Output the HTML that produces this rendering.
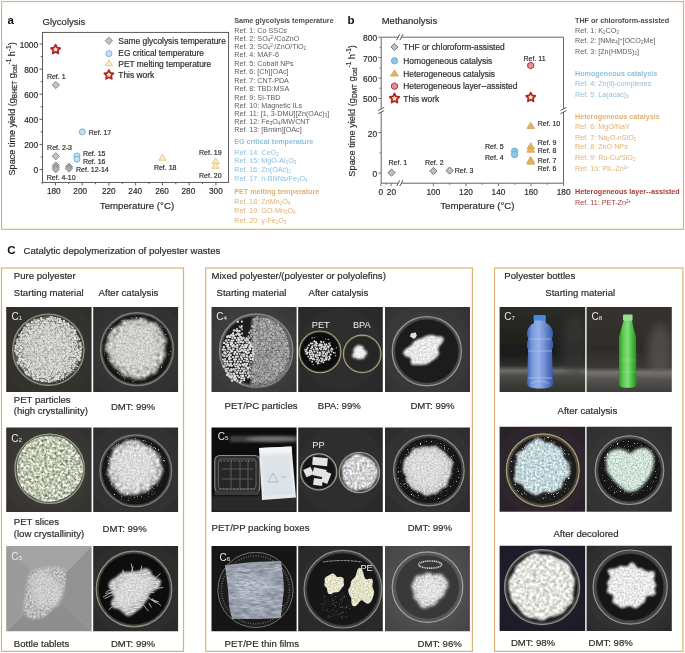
<!DOCTYPE html>
<html><head><meta charset="utf-8"><style>
html,body{margin:0;padding:0;background:#fff;width:685px;height:653px;overflow:hidden}
svg{display:block;font-family:'Liberation Sans', Arial, sans-serif}
</style></head><body>
<svg width="685" height="653" viewBox="0 0 685 653">
<rect x="1.6" y="1.5" width="681.9" height="227.8" fill="none" stroke="#dcb274" stroke-width="1.15"/>
<text x="7.40" y="24.10" font-size="11.5" fill="#111" text-anchor="start" font-weight="bold" >a</text>
<text x="42.60" y="25.30" font-size="9.5" fill="#2b2b2b" text-anchor="start" font-weight="normal" stroke="#2b2b2b" stroke-width="0.18" >Glycolysis</text>
<rect x="42.5" y="32.4" width="186.1" height="150.0" fill="none" stroke="#4f4848" stroke-width="0.9"/>
<line x1="39.50" y1="169.50" x2="42.50" y2="169.50" stroke="#4f4848" stroke-width="0.9"/>
<text x="38.10" y="173.20" font-size="8.3" fill="#2b2b2b" text-anchor="end" font-weight="normal" stroke="#2b2b2b" stroke-width="0.18" >0</text>
<line x1="40.70" y1="156.95" x2="42.50" y2="156.95" stroke="#4f4848" stroke-width="0.9"/>
<line x1="39.50" y1="144.40" x2="42.50" y2="144.40" stroke="#4f4848" stroke-width="0.9"/>
<text x="38.10" y="148.10" font-size="8.3" fill="#2b2b2b" text-anchor="end" font-weight="normal" stroke="#2b2b2b" stroke-width="0.18" >200</text>
<line x1="40.70" y1="131.85" x2="42.50" y2="131.85" stroke="#4f4848" stroke-width="0.9"/>
<line x1="39.50" y1="119.30" x2="42.50" y2="119.30" stroke="#4f4848" stroke-width="0.9"/>
<text x="38.10" y="123.00" font-size="8.3" fill="#2b2b2b" text-anchor="end" font-weight="normal" stroke="#2b2b2b" stroke-width="0.18" >400</text>
<line x1="40.70" y1="106.75" x2="42.50" y2="106.75" stroke="#4f4848" stroke-width="0.9"/>
<line x1="39.50" y1="94.20" x2="42.50" y2="94.20" stroke="#4f4848" stroke-width="0.9"/>
<text x="38.10" y="97.90" font-size="8.3" fill="#2b2b2b" text-anchor="end" font-weight="normal" stroke="#2b2b2b" stroke-width="0.18" >600</text>
<line x1="40.70" y1="81.65" x2="42.50" y2="81.65" stroke="#4f4848" stroke-width="0.9"/>
<line x1="39.50" y1="69.10" x2="42.50" y2="69.10" stroke="#4f4848" stroke-width="0.9"/>
<text x="38.10" y="72.80" font-size="8.3" fill="#2b2b2b" text-anchor="end" font-weight="normal" stroke="#2b2b2b" stroke-width="0.18" >800</text>
<line x1="40.70" y1="56.55" x2="42.50" y2="56.55" stroke="#4f4848" stroke-width="0.9"/>
<line x1="39.50" y1="44.00" x2="42.50" y2="44.00" stroke="#4f4848" stroke-width="0.9"/>
<text x="38.10" y="47.70" font-size="8.3" fill="#2b2b2b" text-anchor="end" font-weight="normal" stroke="#2b2b2b" stroke-width="0.18" >1000</text>
<line x1="42.02" y1="182.40" x2="42.02" y2="184.20" stroke="#4f4848" stroke-width="0.9"/>
<line x1="55.40" y1="182.40" x2="55.40" y2="185.40" stroke="#4f4848" stroke-width="0.9"/>
<line x1="68.78" y1="182.40" x2="68.78" y2="184.20" stroke="#4f4848" stroke-width="0.9"/>
<line x1="82.15" y1="182.40" x2="82.15" y2="185.40" stroke="#4f4848" stroke-width="0.9"/>
<line x1="95.53" y1="182.40" x2="95.53" y2="184.20" stroke="#4f4848" stroke-width="0.9"/>
<line x1="108.90" y1="182.40" x2="108.90" y2="185.40" stroke="#4f4848" stroke-width="0.9"/>
<line x1="122.28" y1="182.40" x2="122.28" y2="184.20" stroke="#4f4848" stroke-width="0.9"/>
<line x1="135.65" y1="182.40" x2="135.65" y2="185.40" stroke="#4f4848" stroke-width="0.9"/>
<line x1="149.03" y1="182.40" x2="149.03" y2="184.20" stroke="#4f4848" stroke-width="0.9"/>
<line x1="162.40" y1="182.40" x2="162.40" y2="185.40" stroke="#4f4848" stroke-width="0.9"/>
<line x1="175.77" y1="182.40" x2="175.77" y2="184.20" stroke="#4f4848" stroke-width="0.9"/>
<line x1="189.15" y1="182.40" x2="189.15" y2="185.40" stroke="#4f4848" stroke-width="0.9"/>
<line x1="202.53" y1="182.40" x2="202.53" y2="184.20" stroke="#4f4848" stroke-width="0.9"/>
<line x1="215.90" y1="182.40" x2="215.90" y2="185.40" stroke="#4f4848" stroke-width="0.9"/>
<text x="53.80" y="193.90" font-size="8.2" fill="#2b2b2b" text-anchor="middle" font-weight="normal" stroke="#2b2b2b" stroke-width="0.18" >180</text>
<text x="80.20" y="193.90" font-size="8.2" fill="#2b2b2b" text-anchor="middle" font-weight="normal" stroke="#2b2b2b" stroke-width="0.18" >200</text>
<text x="108.80" y="193.90" font-size="8.2" fill="#2b2b2b" text-anchor="middle" font-weight="normal" stroke="#2b2b2b" stroke-width="0.18" >220</text>
<text x="135.20" y="193.90" font-size="8.2" fill="#2b2b2b" text-anchor="middle" font-weight="normal" stroke="#2b2b2b" stroke-width="0.18" >240</text>
<text x="162.00" y="193.90" font-size="8.2" fill="#2b2b2b" text-anchor="middle" font-weight="normal" stroke="#2b2b2b" stroke-width="0.18" >260</text>
<text x="188.40" y="193.90" font-size="8.2" fill="#2b2b2b" text-anchor="middle" font-weight="normal" stroke="#2b2b2b" stroke-width="0.18" >280</text>
<text x="215.90" y="193.90" font-size="8.2" fill="#2b2b2b" text-anchor="middle" font-weight="normal" stroke="#2b2b2b" stroke-width="0.18" >300</text>
<text x="137.00" y="208.50" font-size="9.7" fill="#2b2b2b" text-anchor="middle" font-weight="normal" stroke="#2b2b2b" stroke-width="0.18" >Temperature (°C)</text>
<text transform="translate(14.6 108.9) rotate(-90)" font-size="9.1" fill="#2b2b2b" stroke="#2b2b2b" stroke-width="0.18" text-anchor="middle">Space time yield (g<tspan font-size="6.5" dy="2">BHET</tspan><tspan dy="-2"> g</tspan><tspan font-size="6.5" dy="2">cat</tspan><tspan font-size="6.5" dy="-5.5">-1</tspan><tspan dy="3.5"> h</tspan><tspan font-size="6.5" dy="-3.5">-1</tspan><tspan dy="3.5">)</tspan></text>
<path d="M55.80 81.40L59.40 85.00L55.80 88.60L52.20 85.00Z" fill="#c4c4c4" stroke="#7e7e7e" stroke-width="0.9" opacity="1"/>
<path d="M55.80 152.70L59.40 156.30L55.80 159.90L52.20 156.30Z" fill="#c4c4c4" stroke="#7e7e7e" stroke-width="0.9" opacity="1"/>
<path d="M55.80 161.90L59.40 165.50L55.80 169.10L52.20 165.50Z" fill="#b0b0b0" stroke="#8a8a8a" stroke-width="0.9" opacity="1"/>
<path d="M55.80 163.90L59.40 167.50L55.80 171.10L52.20 167.50Z" fill="#b0b0b0" stroke="#8a8a8a" stroke-width="0.9" opacity="1"/>
<path d="M55.80 165.70L59.40 169.30L55.80 172.90L52.20 169.30Z" fill="#b0b0b0" stroke="#8a8a8a" stroke-width="0.9" opacity="1"/>
<path d="M69.00 163.20L72.60 166.80L69.00 170.40L65.40 166.80Z" fill="#a8a8a8" stroke="#888" stroke-width="0.9" opacity="1"/>
<path d="M69.00 164.90L72.60 168.50L69.00 172.10L65.40 168.50Z" fill="#a8a8a8" stroke="#888" stroke-width="0.9" opacity="1"/>
<circle cx="77.00" cy="156.00" r="3" fill="#c7e0f2" stroke="#6fa9d3" stroke-width="0.9"/>
<circle cx="77.00" cy="159.20" r="3" fill="#c7e0f2" stroke="#6fa9d3" stroke-width="0.9"/>
<circle cx="82.30" cy="131.80" r="3" fill="#c7e0f2" stroke="#6fa9d3" stroke-width="0.9"/>
<path d="M162.40 154.44L166.00 160.20L158.80 160.20Z" fill="#f7edc9" stroke="#e6cb85" stroke-width="1.0"/>
<path d="M215.60 157.84L219.20 163.60L212.00 163.60Z" fill="#f7edc9" stroke="#e6cb85" stroke-width="1.0"/>
<path d="M215.60 162.54L219.20 168.30L212.00 168.30Z" fill="#f7edc9" stroke="#e6cb85" stroke-width="1.0"/>
<polygon points="55.60,44.70 57.01,47.56 60.17,48.02 57.88,50.24 58.42,53.38 55.60,51.90 52.78,53.38 53.32,50.24 51.03,48.02 54.19,47.56" fill="#f8ecc0" stroke="#b5232a" stroke-width="1.8" stroke-linejoin="round"/>
<text x="46.90" y="78.90" font-size="7.0" fill="#2b2b2b" text-anchor="start" font-weight="normal" stroke="#2b2b2b" stroke-width="0.18" >Ref. 1</text>
<text x="47.10" y="149.50" font-size="7.0" fill="#2b2b2b" text-anchor="start" font-weight="normal" stroke="#2b2b2b" stroke-width="0.18" >Ref. 2-3</text>
<text x="82.90" y="156.10" font-size="7.0" fill="#2b2b2b" text-anchor="start" font-weight="normal" stroke="#2b2b2b" stroke-width="0.18" >Ref. 15</text>
<text x="82.90" y="164.10" font-size="7.0" fill="#2b2b2b" text-anchor="start" font-weight="normal" stroke="#2b2b2b" stroke-width="0.18" >Ref. 16</text>
<text x="76.00" y="171.80" font-size="7.0" fill="#2b2b2b" text-anchor="start" font-weight="normal" stroke="#2b2b2b" stroke-width="0.18" >Ref. 12-14</text>
<text x="46.80" y="179.70" font-size="7.0" fill="#2b2b2b" text-anchor="start" font-weight="normal" stroke="#2b2b2b" stroke-width="0.18" >Ref. 4-10</text>
<text x="88.70" y="134.50" font-size="7.0" fill="#2b2b2b" text-anchor="start" font-weight="normal" stroke="#2b2b2b" stroke-width="0.18" >Ref. 17</text>
<text x="153.90" y="169.90" font-size="7.0" fill="#2b2b2b" text-anchor="start" font-weight="normal" stroke="#2b2b2b" stroke-width="0.18" >Ref. 18</text>
<text x="199.00" y="154.90" font-size="7.0" fill="#2b2b2b" text-anchor="start" font-weight="normal" stroke="#2b2b2b" stroke-width="0.18" >Ref. 19</text>
<text x="199.00" y="178.20" font-size="7.0" fill="#2b2b2b" text-anchor="start" font-weight="normal" stroke="#2b2b2b" stroke-width="0.18" >Ref. 20</text>
<path d="M108.90 37.20L112.50 40.80L108.90 44.40L105.30 40.80Z" fill="#c4c4c4" stroke="#7e7e7e" stroke-width="0.9" opacity="1"/>
<circle cx="108.90" cy="53.60" r="3" fill="#c7e0f2" stroke="#6fa9d3" stroke-width="0.9"/>
<path d="M108.90 59.94L112.50 65.70L105.30 65.70Z" fill="#f7edc9" stroke="#e6cb85" stroke-width="1.0"/>
<polygon points="108.90,70.10 110.31,72.96 113.47,73.42 111.18,75.64 111.72,78.78 108.90,77.30 106.08,78.78 106.62,75.64 104.33,73.42 107.49,72.96" fill="#f8ecc0" stroke="#b5232a" stroke-width="1.8" stroke-linejoin="round"/>
<text x="118.30" y="44.40" font-size="8.4" fill="#2b2b2b" text-anchor="start" font-weight="normal" stroke="#2b2b2b" stroke-width="0.18" >Same glycolysis temperature</text>
<text x="118.30" y="56.40" font-size="8.4" fill="#2b2b2b" text-anchor="start" font-weight="normal" stroke="#2b2b2b" stroke-width="0.18" >EG critical temperature</text>
<text x="118.30" y="67.00" font-size="8.4" fill="#2b2b2b" text-anchor="start" font-weight="normal" stroke="#2b2b2b" stroke-width="0.18" >PET melting temperature</text>
<text x="118.30" y="78.40" font-size="8.4" fill="#2b2b2b" text-anchor="start" font-weight="normal" stroke="#2b2b2b" stroke-width="0.18" >This work</text>
<text x="234.20" y="22.60" font-size="7.2" fill="#4c4c4c" text-anchor="start" font-weight="bold" >Same glycolysis temperature</text>
<text x="234.20" y="32.80" font-size="7.2" fill="#5c5c5c" text-anchor="start" font-weight="normal" >Ref. 1: Co SSCs</text>
<text x="234.20" y="41.20" font-size="7.2" fill="#5c5c5c" text-anchor="start" font-weight="normal" >Ref. 2: SO<tspan font-size="4.5" dy="1">4</tspan><tspan font-size="4.5" dy="-3">2-</tspan><tspan dy="2">/CoZnO</tspan></text>
<text x="234.20" y="49.00" font-size="7.2" fill="#5c5c5c" text-anchor="start" font-weight="normal" >Ref. 3: SO<tspan font-size="4.5" dy="1">4</tspan><tspan font-size="4.5" dy="-3">2-</tspan><tspan dy="2">/ZnO/TiO</tspan><tspan font-size="4.5" dy="1">2</tspan></text>
<text x="234.20" y="57.30" font-size="7.2" fill="#5c5c5c" text-anchor="start" font-weight="normal" >Ref. 4: MAF-6</text>
<text x="234.20" y="65.70" font-size="7.2" fill="#5c5c5c" text-anchor="start" font-weight="normal" >Ref. 5: Cobalt NPs</text>
<text x="234.20" y="74.40" font-size="7.2" fill="#5c5c5c" text-anchor="start" font-weight="normal" >Ref. 6: [Ch][OAc]</text>
<text x="234.20" y="83.20" font-size="7.2" fill="#5c5c5c" text-anchor="start" font-weight="normal" >Ref. 7: CNT-PDA</text>
<text x="234.20" y="91.20" font-size="7.2" fill="#5c5c5c" text-anchor="start" font-weight="normal" >Ref. 8: TBD:MSA</text>
<text x="234.20" y="99.50" font-size="7.2" fill="#5c5c5c" text-anchor="start" font-weight="normal" >Ref. 9: Si-TBD</text>
<text x="234.20" y="107.60" font-size="7.2" fill="#5c5c5c" text-anchor="start" font-weight="normal" >Ref. 10: Magnetic ILs</text>
<text x="234.20" y="115.80" font-size="7.2" fill="#5c5c5c" text-anchor="start" font-weight="normal" >Ref. 11: [1, 3-DMU][Zn(OAc)<tspan font-size="4.5" dy="1">3</tspan><tspan dy="-1">]</tspan></text>
<text x="234.20" y="124.00" font-size="7.2" fill="#5c5c5c" text-anchor="start" font-weight="normal" >Ref. 12: Fe<tspan font-size="4.5" dy="1">3</tspan><tspan dy="-1">O</tspan><tspan font-size="4.5" dy="1">4</tspan><tspan dy="-1">/MWCNT</tspan></text>
<text x="234.20" y="132.40" font-size="7.2" fill="#5c5c5c" text-anchor="start" font-weight="normal" >Ref. 13: [Bmim][OAc]</text>
<text x="234.20" y="144.10" font-size="7.2" fill="#8dc0de" text-anchor="start" font-weight="bold" >EG critical temperature</text>
<text x="234.20" y="154.50" font-size="7.2" fill="#8dc0de" text-anchor="start" font-weight="normal" >Ref. 14: CeO<tspan font-size="4.5" dy="1">2</tspan></text>
<text x="234.20" y="163.10" font-size="7.2" fill="#8dc0de" text-anchor="start" font-weight="normal" >Ref. 15: MgO-Al<tspan font-size="4.5" dy="1">2</tspan><tspan dy="-1">O</tspan><tspan font-size="4.5" dy="1">3</tspan></text>
<text x="234.20" y="171.90" font-size="7.2" fill="#8dc0de" text-anchor="start" font-weight="normal" >Ref. 16: Zn(OAc)<tspan font-size="4.5" dy="1">2</tspan></text>
<text x="234.20" y="180.90" font-size="7.2" fill="#8dc0de" text-anchor="start" font-weight="normal" >Ref. 17: h-BNNs/Fe<tspan font-size="4.5" dy="1">3</tspan><tspan dy="-1">O</tspan><tspan font-size="4.5" dy="1">4</tspan></text>
<text x="234.20" y="194.20" font-size="7.2" fill="#deb172" text-anchor="start" font-weight="bold" >PET melting temperature</text>
<text x="234.20" y="203.50" font-size="7.2" fill="#deb172" text-anchor="start" font-weight="normal" >Ref. 18: ZnMn<tspan font-size="4.5" dy="1">2</tspan><tspan dy="-1">O</tspan><tspan font-size="4.5" dy="1">4</tspan></text>
<text x="234.20" y="213.20" font-size="7.2" fill="#deb172" text-anchor="start" font-weight="normal" >Ref. 19: GO-Mn<tspan font-size="4.5" dy="1">3</tspan><tspan dy="-1">O</tspan><tspan font-size="4.5" dy="1">4</tspan></text>
<text x="234.20" y="222.80" font-size="7.2" fill="#deb172" text-anchor="start" font-weight="normal" >Ref. 20: γ-Fe<tspan font-size="4.5" dy="1">2</tspan><tspan dy="-1">O</tspan><tspan font-size="4.5" dy="1">3</tspan></text>
<text x="347.40" y="23.90" font-size="11.5" fill="#111" text-anchor="start" font-weight="bold" >b</text>
<text x="381.70" y="23.70" font-size="9.5" fill="#2b2b2b" text-anchor="start" font-weight="normal" stroke="#2b2b2b" stroke-width="0.18" >Methanolysis</text>
<line x1="381.20" y1="37.20" x2="398.00" y2="37.20" stroke="#666" stroke-width="1"/>
<line x1="401.60" y1="37.20" x2="563.50" y2="37.20" stroke="#666" stroke-width="1"/>
<line x1="381.20" y1="183.20" x2="398.00" y2="183.20" stroke="#666" stroke-width="1"/>
<line x1="401.60" y1="183.20" x2="563.50" y2="183.20" stroke="#666" stroke-width="1"/>
<line x1="381.20" y1="37.20" x2="381.20" y2="108.70" stroke="#666" stroke-width="1"/>
<line x1="381.20" y1="112.30" x2="381.20" y2="183.20" stroke="#666" stroke-width="1"/>
<line x1="563.50" y1="37.20" x2="563.50" y2="108.70" stroke="#666" stroke-width="1"/>
<line x1="563.50" y1="112.30" x2="563.50" y2="183.20" stroke="#666" stroke-width="1"/>
<line x1="396.60" y1="40.20" x2="399.80" y2="34.20" stroke="#444" stroke-width="0.9"/>
<line x1="399.80" y1="40.20" x2="403.00" y2="34.20" stroke="#444" stroke-width="0.9"/>
<line x1="396.60" y1="186.20" x2="399.80" y2="180.20" stroke="#444" stroke-width="0.9"/>
<line x1="399.80" y1="186.20" x2="403.00" y2="180.20" stroke="#444" stroke-width="0.9"/>
<line x1="378.20" y1="110.50" x2="384.20" y2="107.30" stroke="#444" stroke-width="0.9"/>
<line x1="378.20" y1="113.70" x2="384.20" y2="110.50" stroke="#444" stroke-width="0.9"/>
<line x1="560.50" y1="110.50" x2="566.50" y2="107.30" stroke="#444" stroke-width="0.9"/>
<line x1="560.50" y1="113.70" x2="566.50" y2="110.50" stroke="#444" stroke-width="0.9"/>
<line x1="378.20" y1="98.49" x2="381.20" y2="98.49" stroke="#666" stroke-width="0.9"/>
<text x="377.10" y="102.49" font-size="8.4" fill="#2b2b2b" text-anchor="end" font-weight="normal" stroke="#2b2b2b" stroke-width="0.18" >500</text>
<line x1="379.60" y1="88.28" x2="381.20" y2="88.28" stroke="#666" stroke-width="0.9"/>
<line x1="378.20" y1="78.06" x2="381.20" y2="78.06" stroke="#666" stroke-width="0.9"/>
<text x="377.10" y="82.06" font-size="8.4" fill="#2b2b2b" text-anchor="end" font-weight="normal" stroke="#2b2b2b" stroke-width="0.18" >600</text>
<line x1="379.60" y1="67.84" x2="381.20" y2="67.84" stroke="#666" stroke-width="0.9"/>
<line x1="378.20" y1="57.63" x2="381.20" y2="57.63" stroke="#666" stroke-width="0.9"/>
<text x="377.10" y="61.63" font-size="8.4" fill="#2b2b2b" text-anchor="end" font-weight="normal" stroke="#2b2b2b" stroke-width="0.18" >700</text>
<line x1="379.60" y1="47.42" x2="381.20" y2="47.42" stroke="#666" stroke-width="0.9"/>
<line x1="378.20" y1="37.20" x2="381.20" y2="37.20" stroke="#666" stroke-width="0.9"/>
<text x="377.10" y="41.20" font-size="8.4" fill="#2b2b2b" text-anchor="end" font-weight="normal" stroke="#2b2b2b" stroke-width="0.18" >800</text>
<line x1="378.20" y1="173.10" x2="381.20" y2="173.10" stroke="#666" stroke-width="0.9"/>
<text x="377.10" y="177.10" font-size="8.4" fill="#2b2b2b" text-anchor="end" font-weight="normal" stroke="#2b2b2b" stroke-width="0.18" >0</text>
<line x1="379.60" y1="152.85" x2="381.20" y2="152.85" stroke="#666" stroke-width="0.9"/>
<line x1="378.20" y1="132.60" x2="381.20" y2="132.60" stroke="#666" stroke-width="0.9"/>
<text x="377.10" y="136.60" font-size="8.4" fill="#2b2b2b" text-anchor="end" font-weight="normal" stroke="#2b2b2b" stroke-width="0.18" >20</text>
<line x1="380.90" y1="183.20" x2="380.90" y2="186.20" stroke="#666" stroke-width="0.9"/>
<line x1="386.00" y1="183.20" x2="386.00" y2="184.80" stroke="#666" stroke-width="0.9"/>
<line x1="391.10" y1="183.20" x2="391.10" y2="186.20" stroke="#666" stroke-width="0.9"/>
<line x1="433.40" y1="183.20" x2="433.40" y2="186.20" stroke="#666" stroke-width="0.9"/>
<line x1="449.67" y1="183.20" x2="449.67" y2="184.80" stroke="#666" stroke-width="0.9"/>
<line x1="465.95" y1="183.20" x2="465.95" y2="186.20" stroke="#666" stroke-width="0.9"/>
<line x1="482.22" y1="183.20" x2="482.22" y2="184.80" stroke="#666" stroke-width="0.9"/>
<line x1="498.50" y1="183.20" x2="498.50" y2="186.20" stroke="#666" stroke-width="0.9"/>
<line x1="514.77" y1="183.20" x2="514.77" y2="184.80" stroke="#666" stroke-width="0.9"/>
<line x1="531.05" y1="183.20" x2="531.05" y2="186.20" stroke="#666" stroke-width="0.9"/>
<line x1="547.32" y1="183.20" x2="547.32" y2="184.80" stroke="#666" stroke-width="0.9"/>
<line x1="563.60" y1="183.20" x2="563.60" y2="186.20" stroke="#666" stroke-width="0.9"/>
<text x="380.90" y="195.00" font-size="8.3" fill="#2b2b2b" text-anchor="middle" font-weight="normal" stroke="#2b2b2b" stroke-width="0.18" >0</text>
<text x="391.40" y="195.00" font-size="8.3" fill="#2b2b2b" text-anchor="middle" font-weight="normal" stroke="#2b2b2b" stroke-width="0.18" >20</text>
<text x="433.40" y="195.00" font-size="8.3" fill="#2b2b2b" text-anchor="middle" font-weight="normal" stroke="#2b2b2b" stroke-width="0.18" >100</text>
<text x="465.95" y="195.00" font-size="8.3" fill="#2b2b2b" text-anchor="middle" font-weight="normal" stroke="#2b2b2b" stroke-width="0.18" >120</text>
<text x="498.50" y="195.00" font-size="8.3" fill="#2b2b2b" text-anchor="middle" font-weight="normal" stroke="#2b2b2b" stroke-width="0.18" >140</text>
<text x="531.05" y="195.00" font-size="8.3" fill="#2b2b2b" text-anchor="middle" font-weight="normal" stroke="#2b2b2b" stroke-width="0.18" >160</text>
<text x="563.60" y="195.00" font-size="8.3" fill="#2b2b2b" text-anchor="middle" font-weight="normal" stroke="#2b2b2b" stroke-width="0.18" >180</text>
<text x="477.40" y="208.60" font-size="9.7" fill="#2b2b2b" text-anchor="middle" font-weight="normal" stroke="#2b2b2b" stroke-width="0.18" >Temperature (°C)</text>
<text transform="translate(354.7 110.9) rotate(-90)" font-size="9.25" fill="#2b2b2b" stroke="#2b2b2b" stroke-width="0.18" text-anchor="middle">Space time yield (g<tspan font-size="6.5" dy="2">DMT</tspan><tspan dy="-2"> g</tspan><tspan font-size="6.5" dy="2">cat</tspan><tspan font-size="6.5" dy="-5.5">-1</tspan><tspan dy="3.5"> h</tspan><tspan font-size="6.5" dy="-3.5">-1</tspan><tspan dy="3.5">)</tspan></text>
<path d="M391.50 169.00L395.10 172.60L391.50 176.20L387.90 172.60Z" fill="#c0c0c0" stroke="#6a6a6a" stroke-width="0.9" opacity="1"/>
<path d="M433.40 167.40L437.00 171.00L433.40 174.60L429.80 171.00Z" fill="#c0c0c0" stroke="#6a6a6a" stroke-width="0.9" opacity="1"/>
<path d="M449.60 167.00L453.20 170.60L449.60 174.20L446.00 170.60Z" fill="#c0c0c0" stroke="#6a6a6a" stroke-width="0.9" opacity="1"/>
<circle cx="514.60" cy="151.20" r="3.2" fill="#8fc4e2" stroke="#6eaed6" stroke-width="0.9"/>
<circle cx="514.60" cy="154.50" r="3.2" fill="#8fc4e2" stroke="#6eaed6" stroke-width="0.9"/>
<path d="M530.70 122.35L534.50 128.43L526.90 128.43Z" fill="#e2b466" stroke="#d9a957" stroke-width="1.0"/>
<path d="M530.70 142.85L534.50 148.93L526.90 148.93Z" fill="#e2b466" stroke="#d9a957" stroke-width="1.0"/>
<path d="M530.70 146.05L534.50 152.13L526.90 152.13Z" fill="#e2b466" stroke="#d9a957" stroke-width="1.0"/>
<path d="M530.70 156.65L534.50 162.73L526.90 162.73Z" fill="#e2b466" stroke="#d9a957" stroke-width="1.0"/>
<path d="M530.70 158.05L534.50 164.13L526.90 164.13Z" fill="#e2b466" stroke="#d9a957" stroke-width="1.0"/>
<polygon points="533.64,67.20 530.70,68.90 527.76,67.20 527.76,63.80 530.70,62.10 533.64,63.80" fill="#d99797" stroke="#c0282d" stroke-width="1.0"/>
<polygon points="530.70,92.60 532.11,95.46 535.27,95.92 532.98,98.14 533.52,101.28 530.70,99.80 527.88,101.28 528.42,98.14 526.13,95.92 529.29,95.46" fill="#f8ecc0" stroke="#b5232a" stroke-width="1.8" stroke-linejoin="round"/>
<text x="388.50" y="164.70" font-size="7.0" fill="#2b2b2b" text-anchor="start" font-weight="normal" stroke="#2b2b2b" stroke-width="0.18" >Ref. 1</text>
<text x="424.90" y="164.70" font-size="7.0" fill="#2b2b2b" text-anchor="start" font-weight="normal" stroke="#2b2b2b" stroke-width="0.18" >Ref. 2</text>
<text x="454.80" y="173.30" font-size="7.0" fill="#2b2b2b" text-anchor="start" font-weight="normal" stroke="#2b2b2b" stroke-width="0.18" >Ref. 3</text>
<text x="485.00" y="148.60" font-size="7.0" fill="#2b2b2b" text-anchor="start" font-weight="normal" stroke="#2b2b2b" stroke-width="0.18" >Ref. 5</text>
<text x="485.00" y="160.00" font-size="7.0" fill="#2b2b2b" text-anchor="start" font-weight="normal" stroke="#2b2b2b" stroke-width="0.18" >Ref. 4</text>
<text x="537.70" y="125.80" font-size="7.0" fill="#2b2b2b" text-anchor="start" font-weight="normal" stroke="#2b2b2b" stroke-width="0.18" >Ref. 10</text>
<text x="537.70" y="144.80" font-size="7.0" fill="#2b2b2b" text-anchor="start" font-weight="normal" stroke="#2b2b2b" stroke-width="0.18" >Ref. 9</text>
<text x="537.70" y="153.00" font-size="7.0" fill="#2b2b2b" text-anchor="start" font-weight="normal" stroke="#2b2b2b" stroke-width="0.18" >Ref. 8</text>
<text x="537.70" y="163.40" font-size="7.0" fill="#2b2b2b" text-anchor="start" font-weight="normal" stroke="#2b2b2b" stroke-width="0.18" >Ref. 7</text>
<text x="537.70" y="171.00" font-size="7.0" fill="#2b2b2b" text-anchor="start" font-weight="normal" stroke="#2b2b2b" stroke-width="0.18" >Ref. 6</text>
<text x="523.50" y="60.60" font-size="7.0" fill="#2b2b2b" text-anchor="start" font-weight="normal" stroke="#2b2b2b" stroke-width="0.18" >Ref. 11</text>
<path d="M394.50 43.40L398.10 47.00L394.50 50.60L390.90 47.00Z" fill="#c0c0c0" stroke="#6a6a6a" stroke-width="0.9" opacity="1"/>
<circle cx="394.50" cy="60.80" r="3.2" fill="#8fc4e2" stroke="#6eaed6" stroke-width="0.9"/>
<path d="M394.50 69.95L398.30 76.03L390.70 76.03Z" fill="#e2b466" stroke="#d9a957" stroke-width="1.0"/>
<polygon points="397.44,87.90 394.50,89.60 391.56,87.90 391.56,84.50 394.50,82.80 397.44,84.50" fill="#d99797" stroke="#c0282d" stroke-width="1.0"/>
<polygon points="394.50,93.50 395.97,96.48 399.26,96.95 396.88,99.27 397.44,102.55 394.50,101.00 391.56,102.55 392.12,99.27 389.74,96.95 393.03,96.48" fill="#f8ecc0" stroke="#b5232a" stroke-width="1.8" stroke-linejoin="round"/>
<text x="403.30" y="50.20" font-size="8.4" fill="#2b2b2b" text-anchor="start" font-weight="normal" stroke="#2b2b2b" stroke-width="0.18" >THF or chloroform-assisted</text>
<text x="403.30" y="63.90" font-size="8.4" fill="#2b2b2b" text-anchor="start" font-weight="normal" stroke="#2b2b2b" stroke-width="0.18" >Homogeneous catalysis</text>
<text x="403.30" y="76.70" font-size="8.4" fill="#2b2b2b" text-anchor="start" font-weight="normal" stroke="#2b2b2b" stroke-width="0.18" >Heterogeneous catalysis</text>
<text x="403.30" y="89.40" font-size="8.4" fill="#2b2b2b" text-anchor="start" font-weight="normal" stroke="#2b2b2b" stroke-width="0.18" >Heterogeneous layer--assisted</text>
<text x="403.30" y="101.70" font-size="8.4" fill="#2b2b2b" text-anchor="start" font-weight="normal" stroke="#2b2b2b" stroke-width="0.18" >This work</text>
<text x="575.00" y="22.50" font-size="7.2" fill="#4c4c4c" text-anchor="start" font-weight="bold" >THF or chloroform-assisted</text>
<text x="575.00" y="33.00" font-size="7.2" fill="#5c5c5c" text-anchor="start" font-weight="normal" >Ref. 1: K<tspan font-size="4.5" dy="1">2</tspan><tspan dy="-1">CO</tspan><tspan font-size="4.5" dy="1">3</tspan></text>
<text x="575.00" y="43.30" font-size="7.2" fill="#5c5c5c" text-anchor="start" font-weight="normal" >Ref. 2: [NMe<tspan font-size="4.5" dy="1">4</tspan><tspan dy="-1">]</tspan><tspan font-size="4.5" dy="-2">+</tspan><tspan dy="2">[OCO</tspan><tspan font-size="4.5" dy="1">2</tspan><tspan dy="-1">Me]</tspan></text>
<text x="575.00" y="54.20" font-size="7.2" fill="#5c5c5c" text-anchor="start" font-weight="normal" >Ref. 3: [Zn(HMDS)<tspan font-size="4.5" dy="1">2</tspan><tspan dy="-1">]</tspan></text>
<text x="575.00" y="76.00" font-size="7.2" fill="#8dc0de" text-anchor="start" font-weight="bold" >Homogeneous catalysis</text>
<text x="575.00" y="85.60" font-size="7.2" fill="#8dc0de" text-anchor="start" font-weight="normal" >Ref. 4: Zn(ii)-complexes</text>
<text x="575.00" y="96.50" font-size="7.2" fill="#8dc0de" text-anchor="start" font-weight="normal" >Ref. 5: La(acac)<tspan font-size="4.5" dy="1">3</tspan></text>
<text x="575.00" y="119.00" font-size="7.2" fill="#deb172" text-anchor="start" font-weight="bold" >Heterogeneous catalysis</text>
<text x="575.00" y="129.20" font-size="7.2" fill="#deb172" text-anchor="start" font-weight="normal" >Ref. 6: MgO/NaY</text>
<text x="575.00" y="140.10" font-size="7.2" fill="#deb172" text-anchor="start" font-weight="normal" >Ref. 7: Na<tspan font-size="4.5" dy="1">2</tspan><tspan dy="-1">O-nSiO</tspan><tspan font-size="4.5" dy="1">2</tspan></text>
<text x="575.00" y="149.30" font-size="7.2" fill="#deb172" text-anchor="start" font-weight="normal" >Ref. 8: ZnO NPs</text>
<text x="575.00" y="159.90" font-size="7.2" fill="#deb172" text-anchor="start" font-weight="normal" >Ref. 9: Ru-Cu/SiO<tspan font-size="4.5" dy="1">2</tspan></text>
<text x="575.00" y="171.30" font-size="7.2" fill="#deb172" text-anchor="start" font-weight="normal" >Ref. 10: PIL-Zn<tspan font-size="4.5" dy="-2">2+</tspan></text>
<text x="575.00" y="194.00" font-size="7.2" fill="#a83a3a" text-anchor="start" font-weight="bold" >Heterogeneous layer--assisted</text>
<text x="575.00" y="204.70" font-size="7.2" fill="#a83a3a" text-anchor="start" font-weight="normal" >Ref. 11: PET-Zn<tspan font-size="4.5" dy="-2">2+</tspan></text>
<text x="7.20" y="254.10" font-size="11.6" fill="#111" text-anchor="start" font-weight="bold" >C</text>
<text x="23.60" y="254.10" font-size="9.6" fill="#2b2b2b" text-anchor="start" font-weight="normal" stroke="#2b2b2b" stroke-width="0.18" >Catalytic depolymerization of polyester wastes</text>
<rect x="1.5" y="268" width="182" height="383.4" fill="none" stroke="#dcb274" stroke-width="1.2"/>
<rect x="205.7" y="268" width="266.7" height="383.4" fill="none" stroke="#dcb274" stroke-width="1.2"/>
<rect x="494.5" y="268" width="188.4" height="383.4" fill="none" stroke="#dcb274" stroke-width="1.2"/>
<defs><filter id="f1" x="0" y="0" width="100%" height="100%"><feTurbulence type="fractalNoise" baseFrequency="1.1" numOctaves="2" seed="3"/><feColorMatrix type="matrix" values="0 0 0 0 0.275 0 0 0 0 0.275 0 0 0 0 0.275 4.050 0 0 0 -2.511"/></filter><filter id="f2" x="0" y="0" width="100%" height="100%"><feTurbulence type="fractalNoise" baseFrequency="0.7" numOctaves="2" seed="7"/><feColorMatrix type="matrix" values="0 0 0 0 0.353 0 0 0 0 0.353 0 0 0 0 0.353 2.450 0 0 0 -1.421"/></filter><filter id="f3" x="0" y="0" width="100%" height="100%"><feTurbulence type="fractalNoise" baseFrequency="0.9" numOctaves="2" seed="11"/><feColorMatrix type="matrix" values="0 0 0 0 1.000 0 0 0 0 1.000 0 0 0 0 1.000 3.600 0 0 0 -2.160"/></filter><filter id="f4" x="0" y="0" width="100%" height="100%"><feTurbulence type="fractalNoise" baseFrequency="0.45" numOctaves="2" seed="5"/><feColorMatrix type="matrix" values="0 0 0 0 0.471 0 0 0 0 0.471 0 0 0 0 0.471 1.500 0 0 0 -0.855"/></filter><filter id="f5" x="0" y="0" width="100%" height="100%"><feTurbulence type="fractalNoise" baseFrequency="1.3" numOctaves="2" seed="17"/><feColorMatrix type="matrix" values="0 0 0 0 0.922 0 0 0 0 0.922 0 0 0 0 0.922 5.000 0 0 0 -3.200"/></filter><clipPath id="cp6"><rect x="6.2" y="307.0" width="85.39999999999999" height="84.89999999999998"/></clipPath><filter id="b7" x="-20%" y="-20%" width="140%" height="140%"><feGaussianBlur stdDeviation="0.35"/></filter><radialGradient id="vg8" cx="0.5" cy="0.5" r="0.75"><stop offset="0.55" stop-color="#000" stop-opacity="0"/><stop offset="1" stop-color="#000" stop-opacity="0.18"/></radialGradient><radialGradient id="mg9" cx="0.5" cy="0.5" r="0.5"><stop offset="0" stop-color="#a4a4a2"/><stop offset="0.6" stop-color="#a4a4a2"/><stop offset="1" stop-color="#5a5a58"/></radialGradient><clipPath id="cp10"><path d="M81.3 346.1Q82.0 349.8 81.8 353.6Q81.7 357.4 80.3 361.0Q79.0 364.5 76.8 367.6Q74.6 370.7 72.0 373.4Q69.3 376.1 66.1 378.0Q62.9 380.0 59.4 381.2Q55.8 382.4 52.1 382.8Q48.4 383.2 44.6 383.0Q40.9 382.8 37.3 381.5Q33.7 380.3 30.7 378.1Q27.6 375.9 25.0 373.2Q22.4 370.6 20.0 367.6Q17.7 364.6 16.4 361.0Q15.0 357.4 14.9 353.6Q14.9 349.8 15.6 346.1Q16.3 342.5 17.4 338.9Q18.5 335.4 20.3 332.1Q22.1 328.8 24.8 326.2Q27.4 323.5 30.6 321.5Q33.8 319.5 37.3 318.2Q40.9 316.9 44.6 316.4Q48.4 316.0 52.1 316.6Q55.8 317.3 59.4 318.5Q62.9 319.7 66.2 321.5Q69.6 323.3 72.2 326.0Q74.8 328.7 76.5 332.1Q78.3 335.4 79.4 338.9Q80.6 342.5 81.3 346.1Z"/></clipPath><clipPath id="cp11"><rect x="93.2" y="307.0" width="84.89999999999999" height="84.89999999999998"/></clipPath><radialGradient id="vg12" cx="0.5" cy="0.5" r="0.75"><stop offset="0.55" stop-color="#000" stop-opacity="0"/><stop offset="1" stop-color="#000" stop-opacity="0.18"/></radialGradient><clipPath id="cp13"><path d="M171.2 345.2Q171.8 349.0 170.7 352.7Q169.7 356.5 168.0 359.8Q166.3 363.1 164.5 366.3Q162.6 369.4 160.3 372.4Q158.0 375.4 155.0 377.7Q151.9 380.0 148.2 381.1Q144.6 382.2 140.8 382.5Q137.0 382.8 133.2 382.8Q129.3 382.7 125.7 381.2Q122.2 379.8 119.2 377.5Q116.2 375.1 113.7 372.4Q111.2 369.6 109.0 366.6Q106.8 363.5 105.5 360.0Q104.3 356.5 104.1 352.7Q103.9 349.0 103.9 345.2Q103.9 341.4 104.6 337.6Q105.4 333.8 107.5 330.5Q109.6 327.1 112.9 325.0Q116.2 322.9 119.4 321.1Q122.7 319.2 126.1 317.7Q129.5 316.1 133.2 315.6Q137.0 315.1 140.7 315.9Q144.4 316.7 147.8 318.0Q151.3 319.3 154.7 320.9Q158.1 322.5 160.9 325.1Q163.7 327.7 165.7 331.0Q167.6 334.3 169.1 337.8Q170.6 341.3 171.2 345.2Z"/></clipPath><filter id="tx14" x="0" y="0" width="100%" height="100%" color-interpolation-filters="sRGB"><feTurbulence type="fractalNoise" baseFrequency="0.3" numOctaves="2" seed="22"/><feColorMatrix type="matrix" values="0.7 0 0 0 0.395 0.7 0 0 0 0.395 0.7 0 0 0 0.383 0 0 0 0 1"/></filter><filter id="b16" x="-20%" y="-20%" width="140%" height="140%"><feGaussianBlur stdDeviation="1.4"/></filter><mask id="mk15" maskUnits="userSpaceOnUse" x="0" y="0" width="685" height="653"><path d="M164.9 346.2Q163.6 348.2 164.8 350.2Q166.0 352.1 165.9 354.1Q165.8 356.1 164.5 357.8Q163.2 359.4 162.8 361.4Q162.4 363.4 160.7 364.5Q159.0 365.7 158.5 367.8Q157.9 369.8 156.9 371.9Q156.0 373.9 153.7 374.1Q151.4 374.3 149.7 375.3Q148.1 376.4 146.4 377.8Q144.8 379.3 142.7 379.2Q140.6 379.1 138.6 379.4Q136.6 379.6 134.6 379.2Q132.6 378.9 130.9 377.8Q129.1 376.6 127.0 376.9Q124.8 377.1 123.1 376.0Q121.5 374.9 120.8 372.5Q120.1 370.1 118.0 369.7Q115.9 369.3 114.7 367.7Q113.5 366.2 112.5 364.6Q111.5 362.9 109.9 361.5Q108.3 360.1 108.8 357.9Q109.2 355.7 108.1 353.9Q107.0 352.2 105.3 350.2Q103.6 348.2 104.9 346.2Q106.3 344.1 106.9 342.2Q107.6 340.3 107.5 338.1Q107.3 335.9 108.7 334.3Q110.1 332.7 110.9 330.7Q111.6 328.7 113.6 327.8Q115.6 326.9 117.5 326.2Q119.4 325.4 120.4 323.3Q121.3 321.3 123.1 320.4Q125.0 319.6 127.1 320.0Q129.3 320.4 131.1 319.8Q132.8 319.1 134.7 319.0Q136.6 318.9 138.5 318.6Q140.5 318.3 142.5 318.1Q144.6 317.8 146.1 319.6Q147.5 321.4 149.5 321.7Q151.5 322.0 154.0 321.9Q156.5 321.9 157.3 324.1Q158.1 326.3 159.5 327.8Q161.0 329.2 162.0 330.9Q163.0 332.7 163.4 334.7Q163.9 336.7 165.6 338.3Q167.2 339.9 166.7 342.0Q166.2 344.2 164.9 346.2Z" fill="#fff" filter="url(#b16)"/></mask><filter id="tx17" x="0" y="0" width="100%" height="100%" color-interpolation-filters="sRGB"><feTurbulence type="fractalNoise" baseFrequency="0.6" numOctaves="2" seed="23"/><feColorMatrix type="matrix" values="0.45 0 0 0 0.606 0.45 0 0 0 0.606 0.45 0 0 0 0.599 0 0 0 0 1"/></filter><filter id="b19" x="-20%" y="-20%" width="140%" height="140%"><feGaussianBlur stdDeviation="2.5"/></filter><mask id="mk18" maskUnits="userSpaceOnUse" x="0" y="0" width="685" height="653"><path d="M157.3 344.5Q157.0 347.0 156.7 349.4Q156.5 351.8 156.5 354.5Q156.5 357.2 155.9 360.0Q155.4 362.9 152.9 364.2Q150.4 365.4 147.9 366.2Q145.5 367.1 143.4 368.3Q141.2 369.5 138.8 370.3Q136.3 371.1 133.8 370.3Q131.4 369.6 129.4 368.0Q127.4 366.4 125.4 365.1Q123.5 363.8 121.2 362.7Q118.8 361.6 117.3 359.4Q115.9 357.3 115.4 354.7Q114.9 352.1 113.8 349.6Q112.7 347.0 112.9 344.2Q113.1 341.5 114.9 339.3Q116.6 337.1 118.8 335.6Q120.9 334.2 122.1 332.1Q123.3 330.0 124.8 327.5Q126.2 325.0 128.7 324.5Q131.3 324.1 133.8 324.7Q136.3 325.3 138.7 325.2Q141.1 325.1 143.7 325.1Q146.4 325.0 148.6 326.5Q150.8 328.0 152.0 330.5Q153.1 333.0 154.7 335.0Q156.2 337.0 156.9 339.4Q157.7 341.9 157.3 344.5Z" fill="#fff" filter="url(#b19)"/></mask><clipPath id="cp20"><rect x="6.2" y="427.4" width="85.39999999999999" height="84.60000000000002"/></clipPath><radialGradient id="vg21" cx="0.5" cy="0.5" r="0.75"><stop offset="0.55" stop-color="#000" stop-opacity="0"/><stop offset="1" stop-color="#000" stop-opacity="0.18"/></radialGradient><filter id="tx22" x="0" y="0" width="100%" height="100%" color-interpolation-filters="sRGB"><feTurbulence type="fractalNoise" baseFrequency="0.38" numOctaves="2" seed="31"/><feColorMatrix type="matrix" values="1.1 0 0 0 0.211 1.1 0 0 0 0.242 1.1 0 0 0 0.156 0 0 0 0 1"/></filter><filter id="b24" x="-20%" y="-20%" width="140%" height="140%"><feGaussianBlur stdDeviation="0.4"/></filter><mask id="mk23" maskUnits="userSpaceOnUse" x="0" y="0" width="685" height="653"><path d="M82.8 465.0Q83.4 468.7 82.8 472.4Q82.2 476.1 80.9 479.6Q79.5 483.1 77.5 486.2Q75.5 489.3 72.8 491.9Q70.2 494.5 67.0 496.4Q63.8 498.2 60.4 499.5Q56.9 500.9 53.3 501.5Q49.6 502.1 45.9 501.7Q42.2 501.2 38.7 499.9Q35.2 498.6 32.1 496.6Q28.9 494.7 26.1 492.2Q23.3 489.7 21.3 486.5Q19.4 483.3 18.5 479.6Q17.5 476.0 17.2 472.4Q16.9 468.7 17.1 465.0Q17.3 461.3 18.5 457.8Q19.6 454.3 21.6 451.1Q23.6 447.9 26.1 445.2Q28.7 442.5 31.9 440.5Q35.1 438.5 38.6 437.4Q42.2 436.2 45.9 436.0Q49.6 435.8 53.3 436.2Q56.9 436.5 60.5 437.6Q64.0 438.7 67.2 440.7Q70.3 442.7 72.8 445.5Q75.2 448.3 77.3 451.3Q79.4 454.4 80.8 457.8Q82.3 461.2 82.8 465.0Z" fill="#fff" filter="url(#b24)"/></mask><clipPath id="cp25"><path d="M82.8 465.0Q83.4 468.7 82.8 472.4Q82.2 476.1 80.9 479.6Q79.5 483.1 77.5 486.2Q75.5 489.3 72.8 491.9Q70.2 494.5 67.0 496.4Q63.8 498.2 60.4 499.5Q56.9 500.9 53.3 501.5Q49.6 502.1 45.9 501.7Q42.2 501.2 38.7 499.9Q35.2 498.6 32.1 496.6Q28.9 494.7 26.1 492.2Q23.3 489.7 21.3 486.5Q19.4 483.3 18.5 479.6Q17.5 476.0 17.2 472.4Q16.9 468.7 17.1 465.0Q17.3 461.3 18.5 457.8Q19.6 454.3 21.6 451.1Q23.6 447.9 26.1 445.2Q28.7 442.5 31.9 440.5Q35.1 438.5 38.6 437.4Q42.2 436.2 45.9 436.0Q49.6 435.8 53.3 436.2Q56.9 436.5 60.5 437.6Q64.0 438.7 67.2 440.7Q70.3 442.7 72.8 445.5Q75.2 448.3 77.3 451.3Q79.4 454.4 80.8 457.8Q82.3 461.2 82.8 465.0Z"/></clipPath><clipPath id="cp26"><rect x="93.2" y="427.4" width="84.89999999999999" height="84.60000000000002"/></clipPath><radialGradient id="vg27" cx="0.5" cy="0.5" r="0.75"><stop offset="0.55" stop-color="#000" stop-opacity="0"/><stop offset="1" stop-color="#000" stop-opacity="0.18"/></radialGradient><clipPath id="cp28"><path d="M167.3 465.8Q167.5 469.5 166.6 473.1Q165.7 476.6 164.6 480.0Q163.4 483.4 162.0 486.9Q160.6 490.3 158.0 493.0Q155.3 495.6 151.7 496.6Q148.0 497.6 144.7 498.5Q141.3 499.5 137.9 500.7Q134.5 502.0 130.7 502.3Q126.9 502.6 123.4 501.2Q119.9 499.8 117.1 497.4Q114.2 494.9 111.6 492.4Q109.0 489.8 107.0 486.8Q105.0 483.7 104.2 480.1Q103.4 476.6 103.1 473.0Q102.8 469.5 102.5 465.8Q102.3 462.1 103.5 458.7Q104.8 455.2 107.2 452.5Q109.7 449.7 112.3 447.3Q114.9 444.9 117.4 442.1Q120.0 439.3 123.4 437.8Q126.9 436.4 130.7 436.4Q134.5 436.4 138.0 437.8Q141.4 439.2 144.9 440.0Q148.3 440.8 151.5 442.5Q154.7 444.2 157.2 446.8Q159.7 449.4 161.7 452.4Q163.7 455.4 165.4 458.7Q167.1 462.1 167.3 465.8Z"/></clipPath><filter id="tx29" x="0" y="0" width="100%" height="100%" color-interpolation-filters="sRGB"><feTurbulence type="fractalNoise" baseFrequency="0.3" numOctaves="2" seed="42"/><feColorMatrix type="matrix" values="0.7 0 0 0 0.434 0.7 0 0 0 0.434 0.7 0 0 0 0.434 0 0 0 0 1"/></filter><mask id="mk30" maskUnits="userSpaceOnUse" x="0" y="0" width="685" height="653"><path d="M162.1 466.2Q163.4 468.0 163.1 469.9Q162.8 471.8 162.1 473.6Q161.4 475.4 160.6 477.1Q159.9 478.8 159.1 480.5Q158.3 482.1 156.7 483.2Q155.0 484.2 153.3 484.9Q151.6 485.7 151.0 487.5Q150.4 489.3 149.0 490.5Q147.7 491.6 146.0 492.0Q144.2 492.5 142.5 492.6Q140.8 492.8 139.3 493.7Q137.7 494.6 136.0 494.9Q134.3 495.1 132.6 494.9Q130.8 494.7 129.1 494.7Q127.3 494.7 125.2 495.0Q123.2 495.2 121.6 494.3Q119.9 493.4 118.6 492.0Q117.2 490.7 116.2 489.1Q115.2 487.5 113.7 486.4Q112.2 485.3 111.9 483.3Q111.5 481.4 110.8 479.8Q110.1 478.2 109.0 476.7Q108.0 475.2 107.5 473.4Q107.0 471.7 107.9 469.8Q108.9 468.0 109.2 466.3Q109.4 464.7 109.1 462.8Q108.7 461.0 109.3 459.4Q109.9 457.7 110.9 456.3Q111.9 454.8 112.2 452.9Q112.6 451.0 113.0 448.8Q113.3 446.7 115.3 446.0Q117.3 445.4 119.2 445.0Q121.1 444.7 122.3 443.1Q123.5 441.5 125.2 440.8Q127.0 440.1 128.8 440.1Q130.7 440.1 132.5 439.9Q134.3 439.8 136.1 439.9Q137.9 440.0 139.5 440.9Q141.2 441.9 142.5 443.1Q143.9 444.4 145.2 445.4Q146.6 446.3 148.6 446.4Q150.6 446.4 151.6 447.8Q152.7 449.3 154.0 450.4Q155.3 451.6 156.8 452.7Q158.4 453.9 159.5 455.4Q160.6 456.9 160.5 458.9Q160.4 460.9 160.5 462.7Q160.7 464.5 162.1 466.2Z" fill="#fff" filter="url(#b16)"/></mask><filter id="tx31" x="0" y="0" width="100%" height="100%" color-interpolation-filters="sRGB"><feTurbulence type="fractalNoise" baseFrequency="0.6" numOctaves="2" seed="43"/><feColorMatrix type="matrix" values="0.4 0 0 0 0.678 0.4 0 0 0 0.678 0.4 0 0 0 0.678 0 0 0 0 1"/></filter><mask id="mk32" maskUnits="userSpaceOnUse" x="0" y="0" width="685" height="653"><path d="M153.1 464.2Q152.0 466.5 151.5 468.4Q151.0 470.4 151.5 472.8Q152.0 475.2 151.5 477.6Q151.0 480.0 148.8 481.2Q146.6 482.3 144.4 482.8Q142.1 483.4 140.3 484.7Q138.4 485.9 136.2 487.0Q134.0 488.1 131.7 487.2Q129.5 486.3 127.7 484.8Q125.9 483.3 124.1 482.2Q122.4 481.0 120.7 479.8Q119.0 478.5 117.9 476.6Q116.9 474.7 115.8 472.8Q114.7 470.9 113.5 468.7Q112.3 466.5 112.2 464.0Q112.1 461.5 114.0 459.6Q115.9 457.8 117.9 456.5Q119.9 455.3 121.0 453.4Q122.0 451.5 123.4 449.4Q124.8 447.3 127.2 447.2Q129.6 447.1 131.8 447.7Q134.0 448.4 136.2 447.8Q138.4 447.3 140.8 447.4Q143.2 447.4 145.3 448.6Q147.4 449.7 148.8 451.6Q150.2 453.6 151.6 455.5Q152.9 457.4 153.6 459.6Q154.2 461.9 153.1 464.2Z" fill="#fff" filter="url(#b19)"/></mask><clipPath id="cp33"><rect x="6.2" y="546.0" width="85.39999999999999" height="85.20000000000005"/></clipPath><filter id="tx34" x="0" y="0" width="100%" height="100%" color-interpolation-filters="sRGB"><feTurbulence type="fractalNoise" baseFrequency="0.5" numOctaves="2" seed="51"/><feColorMatrix type="matrix" values="0.55 0 0 0 0.454 0.55 0 0 0 0.454 0.55 0 0 0 0.454 0 0 0 0 1"/></filter><filter id="b36" x="-20%" y="-20%" width="140%" height="140%"><feGaussianBlur stdDeviation="1.2"/></filter><mask id="mk35" maskUnits="userSpaceOnUse" x="0" y="0" width="685" height="653"><path d="M32 571 Q46 566 60 567 Q67 569 66 577 Q66 588 60 598 Q54 610 44 617 Q34 621 27 617 Q22 611 24 601 Q26 590 27 581 Q28 574 32 571Z" fill="#fff" filter="url(#b36)"/></mask><filter id="tx37" x="0" y="0" width="100%" height="100%" color-interpolation-filters="sRGB"><feTurbulence type="fractalNoise" baseFrequency="0.7" numOctaves="2" seed="55"/><feColorMatrix type="matrix" values="0.45 0 0 0 0.583 0.45 0 0 0 0.583 0.45 0 0 0 0.583 0 0 0 0 1"/></filter><filter id="b39" x="-20%" y="-20%" width="140%" height="140%"><feGaussianBlur stdDeviation="2.0"/></filter><mask id="mk38" maskUnits="userSpaceOnUse" x="0" y="0" width="685" height="653"><path d="M56.7 581.7Q58.2 582.9 59.4 584.7Q60.5 586.5 61.3 588.5Q62.1 590.5 62.4 592.6Q62.6 594.7 61.5 596.2Q60.4 597.7 59.9 599.3Q59.3 600.9 58.8 602.8Q58.3 604.6 57.2 606.1Q56.1 607.5 53.6 605.8Q51.1 604.1 49.6 603.5Q48.1 602.8 46.8 604.4Q45.5 606.0 43.4 607.1Q41.4 608.2 39.4 607.0Q37.5 605.9 36.8 603.1Q36.0 600.4 35.3 598.5Q34.5 596.7 33.3 595.0Q32.1 593.4 32.5 591.5Q32.9 589.6 32.6 587.9Q32.2 586.1 31.5 584.0Q30.8 581.8 31.3 580.1Q31.8 578.3 33.8 578.2Q35.9 578.0 37.0 577.2Q38.1 576.4 38.6 573.6Q39.1 570.9 40.8 569.9Q42.5 569.0 44.5 571.3Q46.5 573.6 47.9 575.4Q49.3 577.2 50.6 578.0Q52.0 578.9 53.5 579.7Q55.1 580.4 56.7 581.7Z" fill="#fff" filter="url(#b39)"/></mask><clipPath id="cp40"><rect x="93.2" y="546.0" width="84.89999999999999" height="85.20000000000005"/></clipPath><radialGradient id="vg41" cx="0.5" cy="0.5" r="0.75"><stop offset="0.55" stop-color="#000" stop-opacity="0"/><stop offset="1" stop-color="#000" stop-opacity="0.18"/></radialGradient><filter id="tx42" x="0" y="0" width="100%" height="100%" color-interpolation-filters="sRGB"><feTurbulence type="fractalNoise" baseFrequency="0.25 0.7" numOctaves="2" seed="52"/><feColorMatrix type="matrix" values="0.55 0 0 0 0.509 0.55 0 0 0 0.509 0.55 0 0 0 0.509 0 0 0 0 1"/></filter><mask id="mk43" maskUnits="userSpaceOnUse" x="0" y="0" width="685" height="653"><path d="M151.4 572.6Q151.8 574.2 152.9 575.3Q154.0 576.3 155.6 577.2Q157.2 578.2 159.3 579.3Q161.3 580.4 161.0 582.5Q160.6 584.7 159.2 586.8Q157.8 588.9 154.8 590.6Q151.8 592.3 150.3 593.6Q148.9 594.9 148.7 596.6Q148.6 598.2 147.4 599.6Q146.3 601.0 145.2 602.4Q144.1 603.8 142.9 605.6Q141.8 607.3 140.2 608.7Q138.6 610.0 136.8 611.2Q134.9 612.4 132.9 614.2Q130.9 615.9 128.7 616.2Q126.6 616.5 125.2 614.8Q123.7 613.2 122.4 612.3Q121.0 611.4 120.1 610.1Q119.1 608.8 117.2 608.8Q115.2 608.9 113.8 608.1Q112.3 607.4 111.7 605.9Q111.1 604.5 111.0 602.7Q111.0 601.0 112.6 598.9Q114.3 596.7 113.5 595.5Q112.8 594.3 112.1 592.9Q111.5 591.5 110.1 589.6Q108.7 587.8 108.5 585.6Q108.2 583.4 109.8 581.5Q111.4 579.6 113.8 578.5Q116.1 577.3 117.7 575.8Q119.2 574.2 121.0 573.0Q122.9 571.9 125.0 571.7Q127.1 571.6 129.0 571.8Q130.9 572.1 132.5 571.7Q134.1 571.2 135.6 571.3Q137.1 571.3 138.9 570.7Q140.7 570.0 142.9 568.9Q145.2 567.8 146.8 568.4Q148.3 569.1 149.6 570.0Q150.9 570.9 151.4 572.6Z" fill="#fff" filter="url(#b36)"/></mask><filter id="tx44" x="0" y="0" width="100%" height="100%" color-interpolation-filters="sRGB"><feTurbulence type="fractalNoise" baseFrequency="0.6" numOctaves="2" seed="53"/><feColorMatrix type="matrix" values="0.4 0 0 0 0.663 0.4 0 0 0 0.663 0.4 0 0 0 0.663 0 0 0 0 1"/></filter><mask id="mk45" maskUnits="userSpaceOnUse" x="0" y="0" width="685" height="653"><path d="M144.7 577.6Q146.2 578.1 148.1 578.6Q150.1 579.1 151.1 580.5Q152.2 582.0 151.0 584.2Q149.8 586.4 147.7 588.3Q145.5 590.1 145.2 591.8Q144.8 593.4 144.6 595.5Q144.3 597.6 142.5 598.9Q140.6 600.3 138.5 600.8Q136.5 601.4 134.8 602.0Q133.1 602.6 131.3 604.0Q129.5 605.4 127.4 606.1Q125.4 606.8 123.4 606.9Q121.4 607.1 119.9 606.3Q118.4 605.6 117.3 604.5Q116.1 603.3 116.9 601.0Q117.8 598.6 118.2 597.0Q118.6 595.4 117.3 594.3Q116.0 593.2 115.4 591.5Q114.7 589.8 116.3 588.0Q117.8 586.2 119.5 584.8Q121.3 583.4 122.7 582.0Q124.1 580.6 125.4 578.7Q126.7 576.7 128.7 575.3Q130.6 573.9 132.6 573.9Q134.7 573.9 136.3 574.4Q137.9 574.9 139.4 575.3Q140.9 575.6 142.1 576.4Q143.3 577.1 144.7 577.6Z" fill="#fff" filter="url(#b39)"/></mask><clipPath id="cp46"><rect x="211.5" y="307.0" width="85.10000000000002" height="84.89999999999998"/></clipPath><radialGradient id="vg47" cx="0.5" cy="0.5" r="0.75"><stop offset="0.55" stop-color="#000" stop-opacity="0"/><stop offset="1" stop-color="#000" stop-opacity="0.18"/></radialGradient><filter id="tx48" x="0" y="0" width="100%" height="100%" color-interpolation-filters="sRGB"><feTurbulence type="fractalNoise" baseFrequency="0.5" numOctaves="2" seed="61"/><feColorMatrix type="matrix" values="0.5 0 0 0 0.221 0.5 0 0 0 0.221 0.5 0 0 0 0.221 0 0 0 0 1"/></filter><filter id="b50" x="-20%" y="-20%" width="140%" height="140%"><feGaussianBlur stdDeviation="0.8"/></filter><mask id="mk49" maskUnits="userSpaceOnUse" x="0" y="0" width="685" height="653"><path d="M252 318 Q262 314 276 320 Q290 332 291 352 Q290 372 277 382 Q264 389 250 387 Q252 370 253 352 Q250 334 252 318Z" fill="#fff" filter="url(#b50)"/></mask><clipPath id="cp51"><rect x="298.2" y="307.0" width="84.60000000000002" height="84.89999999999998"/></clipPath><radialGradient id="vg52" cx="0.5" cy="0.5" r="0.75"><stop offset="0.55" stop-color="#000" stop-opacity="0"/><stop offset="1" stop-color="#000" stop-opacity="0.18"/></radialGradient><filter id="tx53" x="0" y="0" width="100%" height="100%" color-interpolation-filters="sRGB"><feTurbulence type="fractalNoise" baseFrequency="0.6" numOctaves="2" seed="62"/><feColorMatrix type="matrix" values="0.3 0 0 0 0.791 0.3 0 0 0 0.791 0.3 0 0 0 0.791 0 0 0 0 1"/></filter><mask id="mk54" maskUnits="userSpaceOnUse" x="0" y="0" width="685" height="653"><path d="M366.9 351.7Q367.3 352.5 367.0 353.4Q366.7 354.3 366.1 355.0Q365.6 355.6 365.2 356.3Q364.8 357.0 364.4 357.8Q364.0 358.6 363.1 358.7Q362.3 358.9 361.5 358.8Q360.7 358.7 360.1 358.9Q359.4 359.1 358.6 359.3Q357.9 359.6 357.3 358.9Q356.7 358.3 356.0 358.1Q355.3 357.9 354.2 357.9Q353.0 357.9 352.4 357.1Q351.8 356.4 352.3 355.2Q352.8 354.1 353.2 353.3Q353.7 352.5 353.7 351.8Q353.6 351.1 353.5 350.3Q353.3 349.4 353.8 348.8Q354.3 348.2 354.7 347.5Q355.2 346.9 355.8 346.4Q356.4 345.9 357.1 345.4Q357.8 345.0 358.6 345.1Q359.4 345.3 360.1 345.5Q360.9 345.6 361.7 345.7Q362.5 345.8 363.0 346.3Q363.6 346.9 363.6 347.9Q363.6 349.0 363.8 349.5Q364.1 350.1 365.3 350.4Q366.4 350.8 366.9 351.7Z" fill="#fff" filter="url(#b36)"/></mask><clipPath id="cp55"><rect x="385.0" y="307.0" width="84.89999999999998" height="84.89999999999998"/></clipPath><radialGradient id="vg56" cx="0.5" cy="0.5" r="0.75"><stop offset="0.55" stop-color="#000" stop-opacity="0"/><stop offset="1" stop-color="#000" stop-opacity="0.18"/></radialGradient><filter id="tx57" x="0" y="0" width="100%" height="100%" color-interpolation-filters="sRGB"><feTurbulence type="fractalNoise" baseFrequency="0.6" numOctaves="2" seed="63"/><feColorMatrix type="matrix" values="0.4 0 0 0 0.710 0.4 0 0 0 0.710 0.4 0 0 0 0.710 0 0 0 0 1"/></filter><filter id="b59" x="-20%" y="-20%" width="140%" height="140%"><feGaussianBlur stdDeviation="1.0"/></filter><mask id="mk58" maskUnits="userSpaceOnUse" x="0" y="0" width="685" height="653"><path d="M442.2 336.9Q444.2 337.6 443.7 339.8Q443.1 341.9 441.2 344.1Q439.2 346.4 438.4 347.8Q437.7 349.2 438.5 350.8Q439.4 352.3 438.8 354.2Q438.2 356.0 436.5 357.5Q434.8 359.0 433.0 360.3Q431.1 361.6 429.2 362.9Q427.3 364.2 425.1 364.6Q423.0 365.0 421.1 365.0Q419.2 365.0 417.4 364.8Q415.6 364.7 413.5 364.9Q411.4 365.1 410.9 363.5Q410.4 361.9 411.0 359.9Q411.6 357.9 409.6 357.6Q407.6 357.3 405.7 356.3Q403.8 355.3 403.2 353.5Q402.6 351.7 404.9 349.8Q407.2 347.9 409.4 346.5Q411.6 345.1 412.6 343.4Q413.6 341.7 415.4 340.6Q417.2 339.4 419.3 339.1Q421.4 338.9 423.1 337.6Q424.9 336.4 426.9 335.7Q429.0 335.0 431.0 334.9Q432.9 334.7 434.2 335.6Q435.5 336.5 437.9 336.4Q440.3 336.2 442.2 336.9Z" fill="#fff" filter="url(#b59)"/></mask><filter id="tx60" x="0" y="0" width="100%" height="100%" color-interpolation-filters="sRGB"><feTurbulence type="fractalNoise" baseFrequency="0.6" numOctaves="2" seed="64"/><feColorMatrix type="matrix" values="0.3 0 0 0 0.732 0.3 0 0 0 0.732 0.3 0 0 0 0.732 0 0 0 0 1"/></filter><filter id="b62" x="-20%" y="-20%" width="140%" height="140%"><feGaussianBlur stdDeviation="0.6"/></filter><mask id="mk61" maskUnits="userSpaceOnUse" x="0" y="0" width="685" height="653"><path d="M416.7 335.2Q417.0 335.5 416.8 335.8Q416.5 336.2 416.3 336.4Q416.2 336.7 416.0 337.0Q415.8 337.2 415.7 337.5Q415.5 337.8 415.2 338.0Q414.9 338.2 414.5 338.3Q414.2 338.4 413.9 338.6Q413.5 338.8 413.1 338.8Q412.7 338.8 412.5 338.3Q412.3 337.9 412.1 337.6Q412.0 337.3 411.5 337.3Q411.1 337.3 410.6 337.1Q410.2 337.0 410.2 336.6Q410.3 336.2 410.3 335.8Q410.4 335.5 410.4 335.2Q410.4 334.8 410.4 334.5Q410.4 334.1 410.7 333.9Q411.0 333.6 411.2 333.4Q411.5 333.1 411.8 333.0Q412.1 332.8 412.5 332.8Q412.8 332.7 413.2 332.9Q413.5 333.0 413.8 332.9Q414.2 332.8 414.6 332.6Q415.1 332.5 415.5 332.5Q416.0 332.6 416.1 333.0Q416.2 333.5 416.1 333.9Q416.0 334.4 416.3 334.6Q416.5 334.9 416.7 335.2Z" fill="#fff" filter="url(#b62)"/></mask><clipPath id="cp63"><rect x="211.5" y="427.4" width="85.10000000000002" height="84.60000000000002"/></clipPath><filter id="b64" x="-20%" y="-20%" width="140%" height="140%"><feGaussianBlur stdDeviation="1.6"/></filter><filter id="b65" x="-20%" y="-20%" width="140%" height="140%"><feGaussianBlur stdDeviation="1.5"/></filter><clipPath id="cp66"><rect x="298.2" y="427.4" width="84.60000000000002" height="84.60000000000002"/></clipPath><radialGradient id="vg67" cx="0.5" cy="0.5" r="0.75"><stop offset="0.55" stop-color="#000" stop-opacity="0"/><stop offset="1" stop-color="#000" stop-opacity="0.18"/></radialGradient><filter id="tx68" x="0" y="0" width="100%" height="100%" color-interpolation-filters="sRGB"><feTurbulence type="fractalNoise" baseFrequency="0.4" numOctaves="2" seed="65"/><feColorMatrix type="matrix" values="0.7 0 0 0 0.474 0.7 0 0 0 0.474 0.7 0 0 0 0.474 0 0 0 0 1"/></filter><mask id="mk69" maskUnits="userSpaceOnUse" x="0" y="0" width="685" height="653"><path d="M378.2 470.4Q378.6 472.5 378.0 474.6Q377.4 476.6 376.5 478.4Q375.5 480.3 374.5 482.0Q373.4 483.7 372.2 485.3Q370.9 486.9 369.1 487.9Q367.3 488.9 365.3 489.2Q363.3 489.5 361.3 489.8Q359.4 490.1 357.3 490.5Q355.2 491.0 353.2 490.3Q351.1 489.7 349.4 488.5Q347.7 487.2 346.3 485.6Q345.0 484.0 344.1 482.2Q343.2 480.3 342.7 478.4Q342.2 476.4 342.1 474.5Q342.1 472.5 341.9 470.5Q341.8 468.5 342.3 466.5Q342.7 464.5 343.8 462.7Q344.9 460.9 346.6 459.7Q348.2 458.5 349.8 457.2Q351.4 455.9 353.3 454.8Q355.1 453.8 357.3 453.7Q359.4 453.6 361.4 454.5Q363.3 455.4 365.1 456.1Q366.9 456.8 368.7 457.7Q370.5 458.6 372.1 459.9Q373.7 461.1 374.7 462.9Q375.8 464.6 376.8 466.5Q377.8 468.3 378.2 470.4Z" fill="#fff" filter="url(#b50)"/></mask><clipPath id="cp70"><rect x="385.0" y="427.4" width="84.89999999999998" height="84.60000000000002"/></clipPath><radialGradient id="vg71" cx="0.5" cy="0.5" r="0.75"><stop offset="0.55" stop-color="#000" stop-opacity="0"/><stop offset="1" stop-color="#000" stop-opacity="0.18"/></radialGradient><clipPath id="cp72"><path d="M457.6 466.8Q459.1 470.0 459.7 473.7Q460.2 477.4 458.2 480.5Q456.2 483.6 453.9 486.2Q451.6 488.8 449.6 491.6Q447.5 494.5 444.8 496.8Q442.0 499.2 438.5 499.9Q435.0 500.6 431.5 500.1Q428.0 499.6 424.7 499.2Q421.4 498.8 418.0 498.4Q414.5 498.0 411.7 496.0Q408.8 494.1 406.2 491.7Q403.7 489.4 401.4 486.6Q399.1 483.9 397.7 480.6Q396.2 477.3 396.9 473.6Q397.7 470.0 398.7 466.8Q399.7 463.5 400.2 460.2Q400.6 456.8 401.6 453.3Q402.7 449.8 405.5 447.5Q408.3 445.3 411.8 444.5Q415.4 443.8 418.3 442.2Q421.3 440.7 424.7 439.2Q428.0 437.6 431.7 437.7Q435.3 437.9 438.4 440.0Q441.5 442.0 444.3 444.0Q447.2 445.9 449.7 448.3Q452.2 450.7 453.5 453.9Q454.9 457.1 455.5 460.3Q456.2 463.6 457.6 466.8Z"/></clipPath><filter id="tx73" x="0" y="0" width="100%" height="100%" color-interpolation-filters="sRGB"><feTurbulence type="fractalNoise" baseFrequency="0.5" numOctaves="2" seed="66"/><feColorMatrix type="matrix" values="0.5 0 0 0 0.558 0.5 0 0 0 0.558 0.5 0 0 0 0.558 0 0 0 0 1"/></filter><mask id="mk74" maskUnits="userSpaceOnUse" x="0" y="0" width="685" height="653"><path d="M451.8 467.8Q451.1 469.8 451.3 471.7Q451.5 473.6 450.9 475.3Q450.2 477.1 449.2 478.6Q448.2 480.2 448.1 482.3Q447.9 484.4 446.6 485.9Q445.3 487.3 443.3 487.9Q441.4 488.5 440.1 490.1Q438.9 491.6 437.3 492.8Q435.7 494.0 433.7 494.0Q431.6 494.1 429.7 495.1Q427.8 496.2 425.8 495.7Q423.8 495.2 422.2 493.7Q420.5 492.2 418.7 491.7Q416.9 491.2 415.0 490.6Q413.2 490.0 411.9 488.4Q410.7 486.9 409.4 485.5Q408.2 484.1 406.9 482.6Q405.6 481.1 406.1 478.9Q406.6 476.7 405.5 475.1Q404.4 473.5 403.2 471.7Q402.0 469.8 402.8 467.9Q403.5 466.0 403.5 463.9Q403.5 461.9 404.2 460.0Q404.9 458.1 406.8 457.0Q408.6 455.9 409.7 454.4Q410.8 452.8 411.7 450.9Q412.6 448.9 414.6 448.4Q416.7 447.9 418.6 447.8Q420.6 447.7 422.3 446.8Q424.0 446.0 425.9 446.4Q427.8 446.9 429.6 446.8Q431.5 446.6 433.6 446.0Q435.7 445.5 437.3 446.7Q438.9 448.0 440.3 449.3Q441.8 450.6 443.6 451.4Q445.4 452.2 446.4 453.9Q447.4 455.5 448.6 457.1Q449.8 458.6 451.6 460.0Q453.4 461.5 453.0 463.7Q452.6 465.9 451.8 467.8Z" fill="#fff" filter="url(#b36)"/></mask><filter id="tx75" x="0" y="0" width="100%" height="100%" color-interpolation-filters="sRGB"><feTurbulence type="fractalNoise" baseFrequency="0.6" numOctaves="2" seed="67"/><feColorMatrix type="matrix" values="0.4 0 0 0 0.671 0.4 0 0 0 0.671 0.4 0 0 0 0.671 0 0 0 0 1"/></filter><filter id="b77" x="-20%" y="-20%" width="140%" height="140%"><feGaussianBlur stdDeviation="2.2"/></filter><mask id="mk76" maskUnits="userSpaceOnUse" x="0" y="0" width="685" height="653"><path d="M444.7 467.0Q445.0 469.0 444.9 471.0Q444.9 473.1 443.6 474.7Q442.3 476.4 440.9 477.7Q439.5 479.0 438.6 480.7Q437.8 482.5 436.6 484.5Q435.4 486.4 433.3 487.0Q431.3 487.7 429.1 487.4Q427.0 487.1 425.0 486.8Q423.0 486.5 420.9 486.2Q418.9 485.9 417.2 484.7Q415.5 483.5 414.4 481.7Q413.4 479.8 412.4 478.2Q411.4 476.5 410.4 474.8Q409.4 473.0 409.2 471.0Q409.0 469.0 409.4 467.0Q409.9 465.1 410.2 463.1Q410.4 461.0 410.8 458.7Q411.2 456.4 413.2 455.3Q415.2 454.2 417.4 454.0Q419.7 453.8 421.5 453.3Q423.3 452.8 425.2 451.9Q427.0 451.1 429.1 450.9Q431.2 450.8 432.7 452.4Q434.3 453.9 436.0 454.8Q437.7 455.6 439.6 456.5Q441.6 457.4 443.1 459.0Q444.6 460.5 444.5 462.8Q444.5 465.0 444.7 467.0Z" fill="#fff" filter="url(#b77)"/></mask><clipPath id="cp78"><rect x="211.5" y="546.0" width="85.10000000000002" height="85.20000000000005"/></clipPath><filter id="tx79" x="0" y="0" width="100%" height="100%" color-interpolation-filters="sRGB"><feTurbulence type="fractalNoise" baseFrequency="0.12 0.35" numOctaves="2" seed="68"/><feColorMatrix type="matrix" values="0.35 0 0 0 0.413 0.35 0 0 0 0.437 0.35 0 0 0 0.492 0 0 0 0 1"/></filter><mask id="mk80" maskUnits="userSpaceOnUse" x="0" y="0" width="685" height="653"><path d="M225 565L253 562L281 561L283 575L284 590L282 606L281 618L258 619L232 619L229 606L228 590Z" fill="#fff" filter="url(#b62)"/></mask><filter id="tx81" x="0" y="0" width="100%" height="100%" color-interpolation-filters="sRGB"><feTurbulence type="fractalNoise" baseFrequency="0.2 0.6" numOctaves="2" seed="89"/><feColorMatrix type="matrix" values="0.5 0 0 0 0.456 0.5 0 0 0 0.479 0.5 0 0 0 0.526 0 0 0 0 1"/></filter><mask id="mk82" maskUnits="userSpaceOnUse" x="0" y="0" width="685" height="653"><path d="M271.1 583.3Q273.2 584.3 273.9 585.9Q274.6 587.5 270.8 588.8Q267.0 590.1 264.3 590.6Q261.5 591.1 260.6 591.8Q259.7 592.4 261.1 595.3Q262.4 598.1 260.9 599.8Q259.4 601.4 256.8 600.8Q254.2 600.2 252.1 600.1Q250.1 600.1 248.0 600.4Q245.8 600.7 244.0 600.2Q242.1 599.8 241.3 598.3Q240.6 596.9 239.2 596.2Q237.8 595.5 237.3 594.3Q236.9 593.1 236.2 592.0Q235.6 590.9 237.5 589.6Q239.3 588.3 236.3 586.9Q233.2 585.4 232.0 583.3Q230.7 581.1 232.5 579.5Q234.3 577.8 238.7 578.6Q243.1 579.4 245.2 579.4Q247.3 579.5 248.6 578.0Q250.0 576.5 252.0 575.4Q254.1 574.4 255.8 575.6Q257.4 576.9 258.6 577.8Q259.7 578.8 262.7 578.1Q265.7 577.3 267.1 578.3Q268.5 579.3 268.7 580.8Q269.0 582.3 271.1 583.3Z" fill="#fff" filter="url(#b19)"/></mask><clipPath id="cp83"><rect x="298.2" y="546.0" width="84.60000000000002" height="85.20000000000005"/></clipPath><radialGradient id="vg84" cx="0.5" cy="0.5" r="0.75"><stop offset="0.55" stop-color="#000" stop-opacity="0"/><stop offset="1" stop-color="#000" stop-opacity="0.18"/></radialGradient><filter id="tx85" x="0" y="0" width="100%" height="100%" color-interpolation-filters="sRGB"><feTurbulence type="fractalNoise" baseFrequency="0.6" numOctaves="2" seed="69"/><feColorMatrix type="matrix" values="0.45 0 0 0 0.669 0.45 0 0 0 0.661 0.45 0 0 0 0.559 0 0 0 0 1"/></filter><filter id="b87" x="-20%" y="-20%" width="140%" height="140%"><feGaussianBlur stdDeviation="0.7"/></filter><mask id="mk86" maskUnits="userSpaceOnUse" x="0" y="0" width="685" height="653"><path d="M343.8 582.7Q344.0 583.7 343.9 584.8Q343.9 585.9 343.1 586.7Q342.4 587.6 341.6 588.3Q340.9 589.0 340.4 589.9Q339.9 590.8 339.1 591.6Q338.3 592.5 337.1 592.3Q335.9 592.1 334.9 592.3Q333.9 592.5 332.7 593.2Q331.4 594.0 330.0 594.1Q328.6 594.1 327.9 592.9Q327.3 591.6 327.2 590.2Q327.1 588.9 326.7 588.0Q326.2 587.2 325.3 586.5Q324.3 585.8 324.3 584.7Q324.4 583.7 324.6 582.7Q324.8 581.7 324.6 580.5Q324.4 579.3 324.9 578.3Q325.5 577.3 326.4 576.6Q327.4 576.0 328.4 575.5Q329.5 575.0 330.5 574.3Q331.5 573.5 332.7 573.5Q333.9 573.4 334.9 574.5Q335.9 575.6 336.5 576.4Q337.2 577.2 338.4 577.0Q339.7 576.8 341.2 576.9Q342.6 577.1 343.3 578.1Q343.9 579.1 343.7 580.4Q343.6 581.6 343.8 582.7Z" fill="#fff" filter="url(#b87)"/></mask><filter id="tx88" x="0" y="0" width="100%" height="100%" color-interpolation-filters="sRGB"><feTurbulence type="fractalNoise" baseFrequency="0.6" numOctaves="2" seed="70"/><feColorMatrix type="matrix" values="0.45 0 0 0 0.661 0.45 0 0 0 0.653 0.45 0 0 0 0.551 0 0 0 0 1"/></filter><mask id="mk89" maskUnits="userSpaceOnUse" x="0" y="0" width="685" height="653"><path d="M372.7 587.3Q373.3 589.0 373.9 591.0Q374.5 593.0 373.8 594.8Q373.2 596.6 372.5 598.4Q371.8 600.2 370.8 601.8Q369.8 603.4 368.1 603.7Q366.4 603.9 364.7 602.3Q362.9 600.7 361.8 600.3Q360.8 599.8 359.4 602.1Q358.1 604.4 356.1 605.7Q354.1 606.9 352.6 605.7Q351.1 604.6 351.4 601.5Q351.6 598.4 350.7 597.1Q349.7 595.8 349.0 594.2Q348.4 592.6 348.3 590.8Q348.2 589.0 349.4 587.5Q350.6 586.0 350.6 584.4Q350.6 582.7 351.3 581.3Q351.9 579.9 353.0 579.1Q354.1 578.3 355.0 577.1Q355.9 576.0 356.6 572.5Q357.2 569.0 359.0 568.1Q360.8 567.1 362.2 570.1Q363.6 573.1 364.2 575.9Q364.7 578.7 365.7 579.1Q366.7 579.6 369.2 578.7Q371.7 577.9 372.5 579.6Q373.3 581.3 372.7 583.5Q372.2 585.7 372.7 587.3Z" fill="#fff" filter="url(#b87)"/></mask><clipPath id="cp90"><rect x="385.0" y="546.0" width="84.89999999999998" height="85.20000000000005"/></clipPath><radialGradient id="vg91" cx="0.5" cy="0.5" r="0.75"><stop offset="0.55" stop-color="#000" stop-opacity="0"/><stop offset="1" stop-color="#000" stop-opacity="0.18"/></radialGradient><filter id="tx92" x="0" y="0" width="100%" height="100%" color-interpolation-filters="sRGB"><feTurbulence type="fractalNoise" baseFrequency="0.5" numOctaves="2" seed="71"/><feColorMatrix type="matrix" values="0.6 0 0 0 0.539 0.6 0 0 0 0.539 0.6 0 0 0 0.539 0 0 0 0 1"/></filter><mask id="mk93" maskUnits="userSpaceOnUse" x="0" y="0" width="685" height="653"><path d="M447.5 587.5Q446.7 589.0 445.9 590.2Q445.2 591.5 444.8 592.6Q444.4 593.8 444.2 595.1Q444.0 596.3 442.6 596.9Q441.1 597.4 440.0 597.9Q438.9 598.4 438.4 599.5Q437.8 600.5 437.3 601.9Q436.7 603.3 435.7 604.3Q434.6 605.2 433.3 605.7Q432.0 606.1 430.6 606.2Q429.2 606.3 427.7 607.2Q426.1 608.0 424.4 608.3Q422.7 608.6 421.4 607.4Q420.1 606.3 419.4 604.7Q418.6 603.2 417.8 602.0Q417.0 600.9 415.8 600.1Q414.6 599.3 413.9 598.1Q413.1 597.0 413.7 595.3Q414.3 593.7 413.7 592.6Q413.1 591.5 412.7 590.2Q412.2 589.0 411.7 587.6Q411.1 586.2 411.7 584.9Q412.3 583.7 412.9 582.5Q413.5 581.2 414.1 580.0Q414.6 578.7 415.2 577.3Q415.7 575.9 417.3 575.5Q418.8 575.1 420.4 575.2Q422.0 575.3 423.1 574.8Q424.2 574.2 425.4 573.6Q426.6 573.0 427.9 572.6Q429.2 572.2 430.4 573.1Q431.6 574.1 432.8 574.4Q433.9 574.8 435.6 574.3Q437.2 573.8 438.9 573.8Q440.6 573.8 441.8 574.7Q443.0 575.6 444.0 576.7Q445.0 577.8 446.0 579.0Q447.0 580.2 447.6 581.6Q448.2 583.0 448.2 584.5Q448.2 586.1 447.5 587.5Z" fill="#fff" filter="url(#b64)"/></mask><filter id="tx94" x="0" y="0" width="100%" height="100%" color-interpolation-filters="sRGB"><feTurbulence type="fractalNoise" baseFrequency="0.6" numOctaves="2" seed="72"/><feColorMatrix type="matrix" values="0.4 0 0 0 0.702 0.4 0 0 0 0.702 0.4 0 0 0 0.702 0 0 0 0 1"/></filter><mask id="mk95" maskUnits="userSpaceOnUse" x="0" y="0" width="685" height="653"><path d="M442.4 588.6Q442.0 590.0 440.9 591.1Q439.7 592.2 440.0 593.6Q440.3 595.0 440.0 596.3Q439.6 597.7 438.4 598.3Q437.2 599.0 435.6 598.7Q434.1 598.4 433.1 598.8Q432.1 599.2 431.0 599.9Q430.0 600.6 428.9 600.3Q427.7 599.9 426.5 599.9Q425.3 599.8 423.6 600.0Q421.9 600.1 420.8 599.1Q419.8 598.2 420.1 596.4Q420.4 594.6 420.9 593.3Q421.4 592.0 420.8 591.0Q420.2 590.0 419.6 588.7Q419.0 587.5 419.6 586.4Q420.2 585.3 421.4 584.7Q422.6 584.1 423.0 582.9Q423.4 581.7 424.0 580.3Q424.6 578.9 425.9 578.3Q427.2 577.7 428.6 578.1Q430.0 578.4 431.3 578.6Q432.5 578.9 433.6 579.5Q434.7 580.2 435.3 581.5Q435.8 582.7 436.4 583.6Q437.0 584.4 438.4 584.9Q439.8 585.3 441.2 586.2Q442.7 587.1 442.4 588.6Z" fill="#fff" filter="url(#b39)"/></mask><linearGradient id="g7" x1="0" y1="0" x2="0" y2="1"><stop offset="0" stop-color="#2c2d27"/><stop offset="0.55" stop-color="#1c1c1a"/><stop offset="0.68" stop-color="#2e2e2b"/><stop offset="0.74" stop-color="#6e6e66"/><stop offset="0.8" stop-color="#4a4a45"/><stop offset="1" stop-color="#2e2e2b"/></linearGradient><linearGradient id="g8" x1="0" y1="0" x2="0" y2="1"><stop offset="0" stop-color="#36332f"/><stop offset="0.5" stop-color="#2e2c29"/><stop offset="0.7" stop-color="#3a3835"/><stop offset="0.76" stop-color="#75736d"/><stop offset="0.84" stop-color="#55534f"/><stop offset="1" stop-color="#3a3a38"/></linearGradient><linearGradient id="bb" x1="0" y1="0" x2="1" y2="0"><stop offset="0" stop-color="#3a5eae"/><stop offset="0.2" stop-color="#7898dc"/><stop offset="0.45" stop-color="#97b0e8"/><stop offset="0.7" stop-color="#6a8ad0"/><stop offset="1" stop-color="#3658a8"/></linearGradient><linearGradient id="gb" x1="0" y1="0" x2="1" y2="0"><stop offset="0" stop-color="#2a962c"/><stop offset="0.25" stop-color="#5ccc52"/><stop offset="0.5" stop-color="#86de7c"/><stop offset="0.75" stop-color="#48ba42"/><stop offset="1" stop-color="#238c25"/></linearGradient><clipPath id="cp96"><rect x="499.6" y="307.0" width="85.60000000000002" height="84.89999999999998"/></clipPath><filter id="b97" x="-20%" y="-20%" width="140%" height="140%"><feGaussianBlur stdDeviation="4"/></filter><clipPath id="cp98"><rect x="586.6" y="307.0" width="85.19999999999993" height="84.89999999999998"/></clipPath><clipPath id="cp99"><rect x="499.6" y="426.8" width="85.60000000000002" height="85.0"/></clipPath><radialGradient id="vg100" cx="0.5" cy="0.5" r="0.75"><stop offset="0.55" stop-color="#000" stop-opacity="0"/><stop offset="1" stop-color="#000" stop-opacity="0.18"/></radialGradient><clipPath id="cp101"><path d="M573.2 465.4Q572.6 469.0 571.9 472.3Q571.1 475.6 571.0 479.3Q570.9 482.9 569.6 486.4Q568.3 490.0 565.6 492.5Q562.8 495.1 559.2 496.2Q555.6 497.3 552.4 498.7Q549.1 500.1 545.5 500.0Q542.0 500.0 538.6 499.4Q535.2 498.8 531.9 497.9Q528.6 496.9 524.8 496.1Q521.1 495.2 518.3 492.7Q515.4 490.2 514.2 486.6Q513.0 483.0 512.0 479.5Q511.0 476.1 509.7 472.5Q508.4 469.0 509.0 465.3Q509.6 461.6 511.7 458.5Q513.8 455.4 516.4 453.0Q518.9 450.6 521.0 448.0Q523.1 445.3 525.5 442.6Q527.9 439.8 531.3 438.4Q534.7 437.0 538.3 436.9Q542.0 436.7 545.7 436.5Q549.5 436.3 553.1 437.5Q556.6 438.6 558.8 441.9Q560.9 445.3 563.0 447.9Q565.2 450.5 568.3 452.7Q571.4 454.9 572.5 458.3Q573.7 461.8 573.2 465.4Z"/></clipPath><filter id="tx102" x="0" y="0" width="100%" height="100%" color-interpolation-filters="sRGB"><feTurbulence type="fractalNoise" baseFrequency="0.45" numOctaves="2" seed="81"/><feColorMatrix type="matrix" values="0.6 0 0 0 0.469 0.6 0 0 0 0.547 0.6 0 0 0 0.563 0 0 0 0 1"/></filter><mask id="mk103" maskUnits="userSpaceOnUse" x="0" y="0" width="685" height="653"><path d="M569.3 465.4Q569.2 467.6 569.7 469.9Q570.2 472.2 569.8 474.4Q569.4 476.7 566.4 477.8Q563.5 478.9 563.2 481.0Q562.8 483.2 562.3 485.6Q561.9 488.1 559.6 488.8Q557.4 489.6 555.7 490.9Q553.9 492.2 551.8 492.5Q549.6 492.8 547.4 492.0Q545.1 491.2 543.3 492.0Q541.4 492.8 539.2 494.2Q537.0 495.6 534.8 495.1Q532.6 494.6 530.9 493.1Q529.2 491.6 527.0 491.0Q524.9 490.4 524.1 488.0Q523.3 485.7 521.5 484.5Q519.8 483.3 516.8 482.5Q513.8 481.7 514.1 479.0Q514.5 476.3 515.0 474.0Q515.6 471.7 515.1 469.6Q514.5 467.6 515.5 465.6Q516.4 463.6 516.9 461.7Q517.4 459.8 516.6 457.2Q515.8 454.5 517.5 453.0Q519.2 451.5 521.5 450.8Q523.9 450.1 524.8 448.1Q525.8 446.1 527.3 444.6Q528.9 443.1 530.9 442.3Q532.9 441.4 534.8 439.7Q536.7 437.9 539.0 438.3Q541.4 438.7 543.3 441.1Q545.2 443.4 547.5 442.7Q549.7 442.1 551.5 443.1Q553.4 444.1 555.0 445.4Q556.5 446.8 558.8 447.4Q561.0 448.0 562.1 449.9Q563.2 451.8 563.1 454.2Q562.9 456.6 564.2 458.2Q565.6 459.7 567.5 461.5Q569.4 463.2 569.3 465.4Z" fill="#fff" filter="url(#b36)"/></mask><clipPath id="cp104"><rect x="586.6" y="426.8" width="85.19999999999993" height="85.0"/></clipPath><radialGradient id="vg105" cx="0.5" cy="0.5" r="0.75"><stop offset="0.55" stop-color="#000" stop-opacity="0"/><stop offset="1" stop-color="#000" stop-opacity="0.18"/></radialGradient><filter id="tx106" x="0" y="0" width="100%" height="100%" color-interpolation-filters="sRGB"><feTurbulence type="fractalNoise" baseFrequency="0.6" numOctaves="2" seed="82"/><feColorMatrix type="matrix" values="0.5 0 0 0 0.554 0.5 0 0 0 0.636 0.5 0 0 0 0.585 0 0 0 0 1"/></filter><filter id="b108" x="-20%" y="-20%" width="140%" height="140%"><feGaussianBlur stdDeviation="1.8"/></filter><mask id="mk107" maskUnits="userSpaceOnUse" x="0" y="0" width="685" height="653"><path d="M606 460 Q607 449 620 449 Q627 450 630 454 Q636 447 646 448 Q655 452 654 463 Q652 477 641 487 Q633 494 626 491 Q613 482 607 471 Z" fill="#fff" filter="url(#b108)"/></mask><clipPath id="cp109"><path d="M659.6 465.8Q660.3 469.0 659.4 472.2Q658.6 475.4 658.1 478.8Q657.6 482.1 656.0 485.1Q654.3 488.1 651.2 489.8Q648.0 491.4 644.6 491.9Q641.1 492.4 638.4 493.7Q635.6 495.0 632.6 496.9Q629.5 498.8 625.9 499.2Q622.3 499.5 619.3 497.6Q616.2 495.6 613.6 493.5Q611.0 491.4 608.5 489.3Q605.9 487.2 604.0 484.5Q602.1 481.7 601.6 478.5Q601.0 475.3 600.4 472.1Q599.9 469.0 600.3 465.8Q600.8 462.7 602.0 459.7Q603.2 456.8 605.3 454.4Q607.5 452.0 609.0 449.0Q610.5 446.0 613.0 443.4Q615.4 440.8 618.9 439.8Q622.4 438.9 625.9 439.7Q629.5 440.6 632.6 441.5Q635.8 442.3 639.0 442.9Q642.2 443.5 645.3 444.8Q648.5 446.0 650.5 448.6Q652.6 451.2 654.6 453.8Q656.5 456.4 657.7 459.5Q659.0 462.5 659.6 465.8Z"/></clipPath><clipPath id="cp110"><rect x="499.6" y="545.8" width="85.60000000000002" height="85.20000000000005"/></clipPath><radialGradient id="vg111" cx="0.5" cy="0.5" r="0.75"><stop offset="0.55" stop-color="#000" stop-opacity="0"/><stop offset="1" stop-color="#000" stop-opacity="0.18"/></radialGradient><filter id="tx112" x="0" y="0" width="100%" height="100%" color-interpolation-filters="sRGB"><feTurbulence type="fractalNoise" baseFrequency="0.3" numOctaves="2" seed="83"/><feColorMatrix type="matrix" values="0.6 0 0 0 0.594 0.6 0 0 0 0.590 0.6 0 0 0 0.571 0 0 0 0 1"/></filter><filter id="b114" x="-20%" y="-20%" width="140%" height="140%"><feGaussianBlur stdDeviation="0.9"/></filter><mask id="mk113" maskUnits="userSpaceOnUse" x="0" y="0" width="685" height="653"><path d="M574.4 584.5Q574.2 586.6 573.9 588.7Q573.5 590.7 573.1 592.8Q572.8 594.8 573.2 597.2Q573.6 599.7 572.7 601.7Q571.7 603.7 569.7 604.9Q567.6 606.2 566.6 608.2Q565.7 610.2 564.2 611.8Q562.7 613.4 560.5 614.1Q558.4 614.9 556.5 615.7Q554.5 616.6 552.3 616.6Q550.2 616.7 548.3 617.8Q546.4 618.9 544.2 620.0Q542.1 621.1 540.0 620.2Q537.8 619.3 535.8 618.6Q533.7 617.9 531.3 618.1Q529.0 618.3 527.1 617.1Q525.2 615.9 523.4 614.5Q521.7 613.2 520.5 611.3Q519.3 609.4 518.4 607.4Q517.5 605.5 515.6 604.3Q513.6 603.1 512.1 601.3Q510.7 599.6 510.7 597.3Q510.7 595.0 509.8 593.0Q509.0 591.0 508.6 588.8Q508.3 586.6 508.5 584.4Q508.7 582.2 509.1 580.0Q509.5 577.9 511.2 576.2Q512.9 574.5 513.8 572.6Q514.7 570.8 515.1 568.5Q515.6 566.2 517.3 564.9Q519.0 563.5 520.8 562.3Q522.5 561.1 524.0 559.4Q525.4 557.6 527.4 556.7Q529.3 555.8 531.3 554.5Q533.2 553.3 535.4 553.1Q537.7 553.0 539.9 554.0Q542.1 555.1 544.2 554.8Q546.3 554.5 548.5 554.5Q550.7 554.6 552.5 555.8Q554.3 557.0 556.3 557.8Q558.2 558.6 560.2 559.6Q562.1 560.6 564.1 561.5Q566.2 562.5 567.9 564.0Q569.7 565.4 570.2 567.8Q570.6 570.1 571.3 572.2Q572.0 574.2 573.3 576.0Q574.7 577.9 574.7 580.1Q574.6 582.3 574.4 584.5Z" fill="#fff" filter="url(#b114)"/></mask><clipPath id="cp115"><rect x="586.6" y="545.8" width="85.19999999999993" height="85.20000000000005"/></clipPath><radialGradient id="vg116" cx="0.5" cy="0.5" r="0.75"><stop offset="0.55" stop-color="#000" stop-opacity="0"/><stop offset="1" stop-color="#000" stop-opacity="0.18"/></radialGradient><filter id="tx117" x="0" y="0" width="100%" height="100%" color-interpolation-filters="sRGB"><feTurbulence type="fractalNoise" baseFrequency="0.5" numOctaves="2" seed="84"/><feColorMatrix type="matrix" values="0.5 0 0 0 0.660 0.5 0 0 0 0.660 0.5 0 0 0 0.660 0 0 0 0 1"/></filter><mask id="mk118" maskUnits="userSpaceOnUse" x="0" y="0" width="685" height="653"><path d="M655.9 584.0Q656.9 585.7 655.3 587.3Q653.7 588.9 655.1 590.9Q656.5 593.0 655.2 594.5Q653.9 596.0 650.2 595.8Q646.5 595.7 646.1 597.1Q645.6 598.6 645.3 600.6Q645.0 602.7 643.2 603.3Q641.5 604.0 640.1 605.4Q638.7 606.8 636.9 608.1Q635.2 609.3 633.0 607.6Q630.9 605.8 629.1 605.9Q627.2 606.1 624.8 607.5Q622.3 608.9 620.6 607.7Q618.8 606.5 617.2 605.3Q615.7 604.1 613.7 603.3Q611.8 602.5 612.7 599.6Q613.7 596.7 612.8 595.4Q611.8 594.2 609.0 593.5Q606.2 592.8 607.0 590.8Q607.7 588.9 608.1 587.3Q608.4 585.7 607.4 584.0Q606.3 582.3 607.9 580.9Q609.5 579.6 610.1 578.1Q610.8 576.7 608.6 573.4Q606.5 570.1 608.8 569.2Q611.1 568.3 614.0 568.5Q616.9 568.7 618.0 567.1Q619.2 565.6 621.4 565.7Q623.6 565.9 625.6 566.5Q627.5 567.1 629.2 564.2Q630.9 561.4 632.9 562.4Q634.9 563.4 636.1 566.0Q637.2 568.7 639.3 568.1Q641.5 567.5 642.7 568.7Q643.9 570.0 645.4 570.8Q646.9 571.7 650.6 571.2Q654.4 570.7 654.8 572.8Q655.2 574.8 654.4 577.0Q653.5 579.3 654.2 580.8Q654.9 582.4 655.9 584.0Z" fill="#fff" filter="url(#b114)"/></mask></defs>
<g clip-path="url(#cp6)"><g filter="url(#b7)">
<rect x="4.2" y="305.0" width="89.39999999999999" height="88.89999999999998" fill="#363430"/>
<rect x="6.2" y="307.0" width="85.39999999999999" height="84.89999999999998" fill="url(#vg8)"/>
<circle cx="48.4" cy="349.7" r="36.2" fill="#454840"/>
<circle cx="48.4" cy="349.7" r="35.30" fill="none" stroke="#6a6e66" stroke-opacity="0.45" stroke-width="1.26"/>
<circle cx="48.4" cy="349.7" r="35.7" fill="none" stroke="#8f957f" stroke-width="1.2"/>
<circle cx="48.4" cy="349.7" r="34.400000000000006" fill="#2a2a28"/>
<circle cx="48.4" cy="349.7" r="34.400000000000006" fill="none" stroke="#8f957f" stroke-width="0.5" stroke-opacity="0.5"/>
<path d="M81.3 346.1Q82.0 349.8 81.8 353.6Q81.7 357.4 80.3 361.0Q79.0 364.5 76.8 367.6Q74.6 370.7 72.0 373.4Q69.3 376.1 66.1 378.0Q62.9 380.0 59.4 381.2Q55.8 382.4 52.1 382.8Q48.4 383.2 44.6 383.0Q40.9 382.8 37.3 381.5Q33.7 380.3 30.7 378.1Q27.6 375.9 25.0 373.2Q22.4 370.6 20.0 367.6Q17.7 364.6 16.4 361.0Q15.0 357.4 14.9 353.6Q14.9 349.8 15.6 346.1Q16.3 342.5 17.4 338.9Q18.5 335.4 20.3 332.1Q22.1 328.8 24.8 326.2Q27.4 323.5 30.6 321.5Q33.8 319.5 37.3 318.2Q40.9 316.9 44.6 316.4Q48.4 316.0 52.1 316.6Q55.8 317.3 59.4 318.5Q62.9 319.7 66.2 321.5Q69.6 323.3 72.2 326.0Q74.8 328.7 76.5 332.1Q78.3 335.4 79.4 338.9Q80.6 342.5 81.3 346.1Z" fill="url(#mg9)" opacity="1.0"/>
<g><circle cx="50.3" cy="316.8" r="1.02" fill="#cacac8"/><circle cx="52.0" cy="317.0" r="0.95" fill="#e1e1df"/><circle cx="41.1" cy="318.2" r="1.11" fill="#d7d7d5"/><circle cx="47.0" cy="318.7" r="1.02" fill="#ccccca"/><circle cx="49.0" cy="318.7" r="1.23" fill="#dededc"/><circle cx="51.2" cy="318.8" r="0.97" fill="#e3e3e1"/><circle cx="53.3" cy="317.9" r="0.99" fill="#d3d3d1"/><circle cx="55.4" cy="317.8" r="1.16" fill="#d6d6d4"/><circle cx="57.9" cy="318.7" r="1.11" fill="#d7d7d5"/><circle cx="60.0" cy="318.8" r="1.08" fill="#dadad8"/><circle cx="34.6" cy="320.0" r="1.17" fill="#d0d0ce"/><circle cx="37.4" cy="320.0" r="0.96" fill="#d6d6d4"/><circle cx="39.0" cy="320.4" r="0.98" fill="#eaeae8"/><circle cx="41.6" cy="319.7" r="1.12" fill="#eaeae8"/><circle cx="43.8" cy="319.9" r="1.08" fill="#d1d1cf"/><circle cx="46.1" cy="320.9" r="1.07" fill="#cfcfcd"/><circle cx="47.7" cy="319.8" r="0.97" fill="#dcdcda"/><circle cx="49.8" cy="320.1" r="1.07" fill="#d4d4d2"/><circle cx="52.7" cy="319.9" r="1.02" fill="#dfdfdd"/><circle cx="54.6" cy="320.0" r="1.00" fill="#d9d9d7"/><circle cx="56.5" cy="320.3" r="1.18" fill="#d6d6d4"/><circle cx="59.6" cy="320.0" r="1.11" fill="#ccccca"/><circle cx="60.7" cy="321.0" r="1.20" fill="#d2d2d0"/><circle cx="63.9" cy="321.0" r="1.22" fill="#e1e1df"/><circle cx="31.9" cy="322.0" r="1.21" fill="#d8d8d6"/><circle cx="33.3" cy="322.4" r="1.10" fill="#cacac8"/><circle cx="36.0" cy="322.1" r="1.23" fill="#dcdcda"/><circle cx="37.9" cy="321.8" r="1.07" fill="#e6e6e4"/><circle cx="40.7" cy="322.3" r="1.09" fill="#cdcdcb"/><circle cx="43.1" cy="322.8" r="1.18" fill="#d4d4d2"/><circle cx="45.0" cy="321.9" r="1.18" fill="#eaeae8"/><circle cx="47.0" cy="322.2" r="1.22" fill="#d5d5d3"/><circle cx="48.7" cy="322.7" r="0.95" fill="#d0d0ce"/><circle cx="51.2" cy="322.6" r="1.12" fill="#d2d2d0"/><circle cx="53.4" cy="322.4" r="1.12" fill="#d9d9d7"/><circle cx="57.7" cy="322.3" r="1.24" fill="#d3d3d1"/><circle cx="59.9" cy="321.9" r="1.19" fill="#e9e9e7"/><circle cx="62.0" cy="322.7" r="1.00" fill="#cececc"/><circle cx="64.0" cy="323.0" r="1.02" fill="#ccccca"/><circle cx="26.7" cy="324.7" r="1.10" fill="#dadad8"/><circle cx="28.5" cy="323.7" r="1.15" fill="#cfcfcd"/><circle cx="31.1" cy="324.7" r="1.14" fill="#cacac8"/><circle cx="32.8" cy="324.6" r="1.13" fill="#cdcdcb"/><circle cx="35.2" cy="324.5" r="1.12" fill="#d7d7d5"/><circle cx="37.4" cy="324.0" r="1.00" fill="#cacac8"/><circle cx="38.8" cy="324.0" r="1.01" fill="#eaeae8"/><circle cx="42.1" cy="324.7" r="1.16" fill="#e8e8e6"/><circle cx="43.4" cy="324.0" r="1.10" fill="#cacac8"/><circle cx="46.4" cy="324.4" r="1.04" fill="#d9d9d7"/><circle cx="48.1" cy="323.6" r="1.06" fill="#e6e6e4"/><circle cx="51.0" cy="324.5" r="1.10" fill="#e0e0de"/><circle cx="53.0" cy="324.0" r="1.24" fill="#dededc"/><circle cx="54.2" cy="324.6" r="1.06" fill="#e7e7e5"/><circle cx="56.6" cy="324.6" r="1.20" fill="#d5d5d3"/><circle cx="58.8" cy="324.9" r="1.04" fill="#eaeae8"/><circle cx="61.8" cy="324.3" r="1.13" fill="#d3d3d1"/><circle cx="64.2" cy="324.4" r="1.06" fill="#dededc"/><circle cx="65.6" cy="323.7" r="1.22" fill="#eaeae8"/><circle cx="67.9" cy="323.6" r="1.20" fill="#dddddb"/><circle cx="27.4" cy="325.8" r="0.97" fill="#e8e8e6"/><circle cx="29.1" cy="325.5" r="0.98" fill="#e9e9e7"/><circle cx="32.1" cy="326.7" r="1.06" fill="#dcdcda"/><circle cx="34.5" cy="326.6" r="1.22" fill="#cececc"/><circle cx="36.6" cy="325.9" r="0.98" fill="#d4d4d2"/><circle cx="37.9" cy="326.3" r="0.96" fill="#dbdbd9"/><circle cx="41.1" cy="326.4" r="1.24" fill="#e0e0de"/><circle cx="43.0" cy="325.5" r="1.15" fill="#ccccca"/><circle cx="44.8" cy="326.2" r="1.22" fill="#ccccca"/><circle cx="46.7" cy="325.7" r="1.17" fill="#cfcfcd"/><circle cx="48.8" cy="325.7" r="1.19" fill="#dfdfdd"/><circle cx="52.0" cy="326.5" r="0.96" fill="#eaeae8"/><circle cx="53.2" cy="326.3" r="1.15" fill="#d4d4d2"/><circle cx="55.6" cy="326.2" r="1.16" fill="#e7e7e5"/><circle cx="57.7" cy="326.4" r="1.23" fill="#d5d5d3"/><circle cx="60.6" cy="325.5" r="0.99" fill="#cacac8"/><circle cx="62.1" cy="325.8" r="0.99" fill="#cfcfcd"/><circle cx="64.9" cy="326.3" r="1.12" fill="#d9d9d7"/><circle cx="66.4" cy="326.6" r="1.02" fill="#e1e1df"/><circle cx="68.8" cy="325.5" r="1.23" fill="#e6e6e4"/><circle cx="71.4" cy="326.5" r="0.97" fill="#ccccca"/><circle cx="24.4" cy="327.8" r="1.19" fill="#d3d3d1"/><circle cx="26.3" cy="328.3" r="0.99" fill="#d9d9d7"/><circle cx="28.6" cy="327.9" r="1.11" fill="#dadad8"/><circle cx="31.0" cy="327.6" r="1.00" fill="#ccccca"/><circle cx="32.8" cy="328.1" r="0.98" fill="#dcdcda"/><circle cx="34.9" cy="327.7" r="1.03" fill="#dbdbd9"/><circle cx="36.8" cy="327.8" r="1.23" fill="#dfdfdd"/><circle cx="40.0" cy="327.6" r="0.98" fill="#d8d8d6"/><circle cx="42.0" cy="328.1" r="1.10" fill="#eaeae8"/><circle cx="44.5" cy="328.7" r="1.03" fill="#dfdfdd"/><circle cx="46.4" cy="327.4" r="1.23" fill="#e1e1df"/><circle cx="48.1" cy="328.3" r="1.24" fill="#dadad8"/><circle cx="50.9" cy="328.0" r="0.99" fill="#dbdbd9"/><circle cx="53.0" cy="327.9" r="1.23" fill="#dcdcda"/><circle cx="54.2" cy="327.5" r="1.16" fill="#dcdcda"/><circle cx="57.1" cy="328.7" r="1.00" fill="#cacac8"/><circle cx="59.2" cy="327.7" r="1.06" fill="#cbcbc9"/><circle cx="61.8" cy="328.4" r="0.97" fill="#e9e9e7"/><circle cx="63.6" cy="328.0" r="0.99" fill="#e4e4e2"/><circle cx="66.4" cy="327.7" r="1.14" fill="#e4e4e2"/><circle cx="68.3" cy="328.2" r="1.10" fill="#d5d5d3"/><circle cx="69.7" cy="328.6" r="1.10" fill="#e1e1df"/><circle cx="72.8" cy="327.5" r="1.05" fill="#dbdbd9"/><circle cx="23.6" cy="330.0" r="1.04" fill="#e8e8e6"/><circle cx="25.1" cy="329.4" r="1.02" fill="#ccccca"/><circle cx="27.1" cy="330.3" r="1.24" fill="#d8d8d6"/><circle cx="29.2" cy="330.4" r="1.09" fill="#dededc"/><circle cx="32.0" cy="330.6" r="1.20" fill="#e7e7e5"/><circle cx="33.9" cy="330.0" r="1.15" fill="#e2e2e0"/><circle cx="35.6" cy="329.6" r="1.12" fill="#d4d4d2"/><circle cx="38.5" cy="329.9" r="1.10" fill="#e8e8e6"/><circle cx="40.9" cy="330.1" r="0.97" fill="#e3e3e1"/><circle cx="43.0" cy="329.2" r="1.02" fill="#d0d0ce"/><circle cx="44.5" cy="330.3" r="0.95" fill="#cdcdcb"/><circle cx="47.5" cy="329.3" r="1.24" fill="#dbdbd9"/><circle cx="49.0" cy="330.1" r="0.97" fill="#e6e6e4"/><circle cx="51.3" cy="329.4" r="1.10" fill="#ccccca"/><circle cx="54.2" cy="330.6" r="1.09" fill="#e4e4e2"/><circle cx="56.2" cy="330.5" r="1.17" fill="#ccccca"/><circle cx="58.8" cy="329.5" r="1.11" fill="#d4d4d2"/><circle cx="60.0" cy="330.0" r="1.20" fill="#d6d6d4"/><circle cx="62.9" cy="329.8" r="1.00" fill="#d8d8d6"/><circle cx="64.6" cy="330.1" r="1.09" fill="#d3d3d1"/><circle cx="67.4" cy="329.7" r="1.11" fill="#dddddb"/><circle cx="68.6" cy="330.3" r="1.05" fill="#dbdbd9"/><circle cx="71.5" cy="330.0" r="1.24" fill="#eaeae8"/><circle cx="73.5" cy="329.5" r="0.97" fill="#cdcdcb"/><circle cx="75.1" cy="330.5" r="1.24" fill="#e6e6e4"/><circle cx="21.9" cy="332.0" r="0.97" fill="#eaeae8"/><circle cx="23.7" cy="331.6" r="1.00" fill="#d6d6d4"/><circle cx="25.7" cy="331.7" r="1.05" fill="#ccccca"/><circle cx="28.9" cy="331.3" r="1.14" fill="#e1e1df"/><circle cx="31.1" cy="331.4" r="1.07" fill="#d5d5d3"/><circle cx="32.1" cy="332.4" r="1.23" fill="#d1d1cf"/><circle cx="35.6" cy="332.3" r="1.17" fill="#e0e0de"/><circle cx="37.6" cy="331.9" r="1.09" fill="#e5e5e3"/><circle cx="39.9" cy="331.8" r="1.17" fill="#e6e6e4"/><circle cx="41.0" cy="331.9" r="1.16" fill="#e6e6e4"/><circle cx="44.1" cy="331.6" r="1.01" fill="#ccccca"/><circle cx="45.8" cy="331.8" r="1.19" fill="#dbdbd9"/><circle cx="48.6" cy="332.3" r="1.16" fill="#d0d0ce"/><circle cx="49.8" cy="332.2" r="1.17" fill="#cfcfcd"/><circle cx="53.0" cy="332.3" r="1.23" fill="#e3e3e1"/><circle cx="54.2" cy="331.3" r="1.05" fill="#d1d1cf"/><circle cx="56.6" cy="332.0" r="0.98" fill="#d0d0ce"/><circle cx="59.3" cy="332.1" r="1.00" fill="#e4e4e2"/><circle cx="61.0" cy="332.3" r="1.16" fill="#eaeae8"/><circle cx="63.6" cy="331.4" r="1.14" fill="#e5e5e3"/><circle cx="66.5" cy="332.0" r="1.04" fill="#d9d9d7"/><circle cx="67.8" cy="332.4" r="1.18" fill="#d0d0ce"/><circle cx="69.8" cy="331.3" r="1.06" fill="#e3e3e1"/><circle cx="73.0" cy="331.3" r="1.09" fill="#cfcfcd"/><circle cx="74.6" cy="332.1" r="1.03" fill="#d1d1cf"/><circle cx="20.9" cy="334.1" r="1.21" fill="#cdcdcb"/><circle cx="24.8" cy="333.8" r="1.20" fill="#d8d8d6"/><circle cx="27.1" cy="334.1" r="1.05" fill="#dededc"/><circle cx="30.0" cy="333.1" r="1.15" fill="#e5e5e3"/><circle cx="31.3" cy="333.5" r="1.16" fill="#dddddb"/><circle cx="33.9" cy="334.4" r="0.99" fill="#d2d2d0"/><circle cx="35.9" cy="333.6" r="0.99" fill="#dddddb"/><circle cx="37.6" cy="333.7" r="1.23" fill="#cfcfcd"/><circle cx="39.9" cy="333.1" r="1.02" fill="#e0e0de"/><circle cx="43.1" cy="333.3" r="1.15" fill="#d1d1cf"/><circle cx="44.7" cy="333.3" r="1.18" fill="#d7d7d5"/><circle cx="47.4" cy="333.4" r="0.99" fill="#d9d9d7"/><circle cx="48.9" cy="333.4" r="1.14" fill="#dddddb"/><circle cx="51.2" cy="333.6" r="1.19" fill="#cececc"/><circle cx="53.2" cy="334.3" r="1.07" fill="#dfdfdd"/><circle cx="56.4" cy="334.2" r="1.05" fill="#e4e4e2"/><circle cx="58.3" cy="334.4" r="1.10" fill="#dbdbd9"/><circle cx="60.9" cy="334.3" r="1.10" fill="#eaeae8"/><circle cx="63.1" cy="333.5" r="1.19" fill="#cacac8"/><circle cx="64.3" cy="334.2" r="1.10" fill="#dcdcda"/><circle cx="67.3" cy="333.8" r="1.11" fill="#e5e5e3"/><circle cx="69.4" cy="333.5" r="1.10" fill="#dbdbd9"/><circle cx="71.8" cy="334.2" r="1.12" fill="#d9d9d7"/><circle cx="73.7" cy="334.0" r="1.10" fill="#e3e3e1"/><circle cx="75.3" cy="333.3" r="1.06" fill="#e5e5e3"/><circle cx="19.0" cy="335.3" r="1.02" fill="#d1d1cf"/><circle cx="21.4" cy="336.0" r="1.20" fill="#e9e9e7"/><circle cx="23.4" cy="335.0" r="1.10" fill="#e6e6e4"/><circle cx="26.4" cy="335.1" r="1.11" fill="#e5e5e3"/><circle cx="28.4" cy="335.9" r="1.17" fill="#e0e0de"/><circle cx="31.1" cy="335.2" r="1.07" fill="#d0d0ce"/><circle cx="32.2" cy="335.6" r="1.01" fill="#d5d5d3"/><circle cx="35.1" cy="335.2" r="1.24" fill="#e7e7e5"/><circle cx="37.7" cy="335.3" r="1.20" fill="#cdcdcb"/><circle cx="40.0" cy="335.5" r="1.08" fill="#cacac8"/><circle cx="41.6" cy="336.2" r="0.97" fill="#e0e0de"/><circle cx="43.6" cy="336.3" r="1.00" fill="#d3d3d1"/><circle cx="46.0" cy="335.7" r="1.11" fill="#e3e3e1"/><circle cx="48.8" cy="335.4" r="1.15" fill="#e8e8e6"/><circle cx="50.5" cy="336.2" r="1.16" fill="#d1d1cf"/><circle cx="53.2" cy="335.0" r="0.99" fill="#dddddb"/><circle cx="54.5" cy="336.0" r="1.05" fill="#d0d0ce"/><circle cx="57.4" cy="336.0" r="1.06" fill="#e7e7e5"/><circle cx="59.2" cy="335.2" r="1.25" fill="#dcdcda"/><circle cx="60.9" cy="335.5" r="1.06" fill="#cdcdcb"/><circle cx="64.0" cy="335.7" r="1.24" fill="#e4e4e2"/><circle cx="65.3" cy="336.1" r="1.11" fill="#cbcbc9"/><circle cx="67.7" cy="335.1" r="1.10" fill="#dbdbd9"/><circle cx="70.8" cy="335.6" r="1.24" fill="#ccccca"/><circle cx="72.5" cy="336.0" r="1.16" fill="#d6d6d4"/><circle cx="74.0" cy="336.1" r="1.05" fill="#ccccca"/><circle cx="76.5" cy="335.7" r="1.06" fill="#d8d8d6"/><circle cx="20.9" cy="338.2" r="1.17" fill="#d9d9d7"/><circle cx="23.5" cy="337.5" r="1.03" fill="#d8d8d6"/><circle cx="25.6" cy="337.5" r="1.07" fill="#e8e8e6"/><circle cx="27.6" cy="338.2" r="1.11" fill="#e9e9e7"/><circle cx="30.0" cy="338.1" r="1.18" fill="#e3e3e1"/><circle cx="31.2" cy="337.5" r="1.22" fill="#dfdfdd"/><circle cx="33.8" cy="337.3" r="1.23" fill="#d8d8d6"/><circle cx="36.0" cy="337.1" r="0.95" fill="#cfcfcd"/><circle cx="38.0" cy="337.0" r="1.07" fill="#dcdcda"/><circle cx="41.2" cy="337.8" r="1.04" fill="#d9d9d7"/><circle cx="42.2" cy="337.0" r="1.03" fill="#e9e9e7"/><circle cx="44.4" cy="337.4" r="1.04" fill="#dededc"/><circle cx="46.8" cy="336.9" r="1.11" fill="#d9d9d7"/><circle cx="49.1" cy="337.7" r="1.16" fill="#d5d5d3"/><circle cx="51.6" cy="337.2" r="1.21" fill="#dededc"/><circle cx="53.9" cy="336.9" r="1.20" fill="#d0d0ce"/><circle cx="56.5" cy="337.2" r="1.23" fill="#d5d5d3"/><circle cx="58.3" cy="336.9" r="1.11" fill="#e9e9e7"/><circle cx="60.4" cy="337.3" r="0.97" fill="#d0d0ce"/><circle cx="62.9" cy="337.5" r="1.02" fill="#d1d1cf"/><circle cx="64.5" cy="336.9" r="1.20" fill="#dddddb"/><circle cx="66.7" cy="338.2" r="0.96" fill="#e9e9e7"/><circle cx="69.5" cy="338.0" r="1.24" fill="#e5e5e3"/><circle cx="71.2" cy="337.5" r="1.10" fill="#d6d6d4"/><circle cx="74.2" cy="337.4" r="1.05" fill="#e5e5e3"/><circle cx="75.2" cy="337.3" r="0.99" fill="#e3e3e1"/><circle cx="78.1" cy="337.5" r="1.04" fill="#d6d6d4"/><circle cx="17.5" cy="339.5" r="1.18" fill="#d0d0ce"/><circle cx="20.2" cy="339.1" r="0.97" fill="#dddddb"/><circle cx="21.7" cy="339.3" r="1.03" fill="#d9d9d7"/><circle cx="24.0" cy="339.2" r="1.17" fill="#e3e3e1"/><circle cx="26.1" cy="339.6" r="0.96" fill="#e7e7e5"/><circle cx="28.6" cy="339.1" r="1.08" fill="#e5e5e3"/><circle cx="30.2" cy="339.0" r="1.16" fill="#d5d5d3"/><circle cx="32.2" cy="339.8" r="1.17" fill="#d1d1cf"/><circle cx="34.7" cy="339.8" r="0.99" fill="#e3e3e1"/><circle cx="37.2" cy="339.7" r="1.03" fill="#cacac8"/><circle cx="39.3" cy="339.8" r="1.07" fill="#d9d9d7"/><circle cx="41.5" cy="339.7" r="1.07" fill="#d9d9d7"/><circle cx="43.4" cy="339.0" r="1.07" fill="#e5e5e3"/><circle cx="45.4" cy="339.1" r="1.14" fill="#e9e9e7"/><circle cx="48.2" cy="339.1" r="1.11" fill="#dfdfdd"/><circle cx="49.8" cy="339.6" r="1.17" fill="#d3d3d1"/><circle cx="52.3" cy="339.1" r="0.97" fill="#e1e1df"/><circle cx="54.1" cy="339.6" r="1.06" fill="#e1e1df"/><circle cx="57.0" cy="339.2" r="1.15" fill="#dfdfdd"/><circle cx="59.7" cy="339.1" r="1.08" fill="#d7d7d5"/><circle cx="61.0" cy="339.7" r="1.05" fill="#d0d0ce"/><circle cx="63.5" cy="340.1" r="1.08" fill="#e3e3e1"/><circle cx="65.3" cy="339.8" r="1.07" fill="#cfcfcd"/><circle cx="67.7" cy="339.0" r="0.96" fill="#d9d9d7"/><circle cx="69.6" cy="340.0" r="1.08" fill="#d3d3d1"/><circle cx="72.9" cy="339.2" r="0.97" fill="#e5e5e3"/><circle cx="75.1" cy="338.8" r="1.17" fill="#e8e8e6"/><circle cx="77.2" cy="339.3" r="1.16" fill="#e5e5e3"/><circle cx="79.4" cy="339.0" r="1.00" fill="#cbcbc9"/><circle cx="16.5" cy="341.3" r="1.09" fill="#d2d2d0"/><circle cx="17.9" cy="341.8" r="1.09" fill="#d8d8d6"/><circle cx="20.6" cy="341.2" r="1.07" fill="#d3d3d1"/><circle cx="22.9" cy="341.5" r="1.11" fill="#e4e4e2"/><circle cx="25.5" cy="341.2" r="1.20" fill="#e0e0de"/><circle cx="27.2" cy="340.8" r="1.00" fill="#d7d7d5"/><circle cx="29.1" cy="341.4" r="1.06" fill="#e4e4e2"/><circle cx="32.3" cy="340.8" r="1.21" fill="#cacac8"/><circle cx="33.8" cy="341.4" r="1.24" fill="#e0e0de"/><circle cx="36.2" cy="340.9" r="0.99" fill="#d1d1cf"/><circle cx="37.8" cy="341.3" r="1.17" fill="#e5e5e3"/><circle cx="40.4" cy="340.7" r="1.03" fill="#e7e7e5"/><circle cx="42.2" cy="342.0" r="1.03" fill="#e4e4e2"/><circle cx="45.4" cy="341.6" r="1.04" fill="#dfdfdd"/><circle cx="46.5" cy="341.3" r="1.21" fill="#e5e5e3"/><circle cx="49.2" cy="341.8" r="1.08" fill="#e9e9e7"/><circle cx="51.4" cy="340.9" r="0.99" fill="#eaeae8"/><circle cx="53.0" cy="341.5" r="1.24" fill="#dfdfdd"/><circle cx="55.4" cy="340.9" r="1.22" fill="#dcdcda"/><circle cx="57.9" cy="341.0" r="0.95" fill="#dadad8"/><circle cx="59.7" cy="341.6" r="1.18" fill="#dededc"/><circle cx="62.3" cy="341.2" r="1.05" fill="#cfcfcd"/><circle cx="65.0" cy="340.8" r="1.24" fill="#dcdcda"/><circle cx="67.4" cy="340.8" r="1.02" fill="#d6d6d4"/><circle cx="69.6" cy="341.6" r="1.15" fill="#cbcbc9"/><circle cx="71.9" cy="342.0" r="1.15" fill="#d9d9d7"/><circle cx="73.6" cy="340.8" r="1.21" fill="#d7d7d5"/><circle cx="75.6" cy="341.4" r="0.96" fill="#e8e8e6"/><circle cx="17.0" cy="343.8" r="1.08" fill="#cfcfcd"/><circle cx="19.1" cy="343.0" r="1.04" fill="#d9d9d7"/><circle cx="21.4" cy="343.8" r="1.20" fill="#d7d7d5"/><circle cx="24.6" cy="343.4" r="1.21" fill="#d7d7d5"/><circle cx="26.2" cy="342.6" r="1.07" fill="#e2e2e0"/><circle cx="29.1" cy="342.9" r="0.97" fill="#d9d9d7"/><circle cx="30.0" cy="343.5" r="1.15" fill="#d0d0ce"/><circle cx="32.6" cy="343.6" r="1.10" fill="#dededc"/><circle cx="34.4" cy="343.1" r="1.07" fill="#cbcbc9"/><circle cx="37.9" cy="342.8" r="1.13" fill="#ccccca"/><circle cx="40.0" cy="343.1" r="1.05" fill="#e4e4e2"/><circle cx="41.5" cy="343.0" r="1.16" fill="#cdcdcb"/><circle cx="43.1" cy="343.0" r="0.96" fill="#cacac8"/><circle cx="45.5" cy="343.0" r="1.06" fill="#d3d3d1"/><circle cx="48.3" cy="343.1" r="1.19" fill="#e1e1df"/><circle cx="49.9" cy="343.8" r="1.19" fill="#dbdbd9"/><circle cx="53.2" cy="343.0" r="1.08" fill="#dddddb"/><circle cx="54.1" cy="343.4" r="1.24" fill="#d1d1cf"/><circle cx="56.6" cy="343.2" r="1.23" fill="#e6e6e4"/><circle cx="58.9" cy="343.4" r="1.04" fill="#ccccca"/><circle cx="61.2" cy="343.8" r="1.23" fill="#e2e2e0"/><circle cx="63.6" cy="343.8" r="1.17" fill="#d3d3d1"/><circle cx="66.3" cy="343.8" r="1.23" fill="#dededc"/><circle cx="67.3" cy="343.5" r="1.13" fill="#dfdfdd"/><circle cx="69.9" cy="343.6" r="1.07" fill="#d2d2d0"/><circle cx="72.1" cy="343.9" r="1.17" fill="#e8e8e6"/><circle cx="74.3" cy="343.9" r="1.09" fill="#d8d8d6"/><circle cx="76.5" cy="343.3" r="1.12" fill="#e9e9e7"/><circle cx="79.6" cy="343.9" r="1.06" fill="#d6d6d4"/><circle cx="80.5" cy="342.9" r="1.16" fill="#cececc"/><circle cx="15.7" cy="345.8" r="1.21" fill="#e2e2e0"/><circle cx="18.9" cy="345.0" r="1.13" fill="#dddddb"/><circle cx="20.1" cy="344.5" r="1.09" fill="#d8d8d6"/><circle cx="23.0" cy="345.1" r="1.17" fill="#cdcdcb"/><circle cx="24.7" cy="345.9" r="1.09" fill="#d9d9d7"/><circle cx="27.2" cy="345.4" r="1.08" fill="#e2e2e0"/><circle cx="29.5" cy="345.3" r="1.02" fill="#d0d0ce"/><circle cx="31.5" cy="345.7" r="1.05" fill="#e0e0de"/><circle cx="34.5" cy="345.0" r="1.22" fill="#d4d4d2"/><circle cx="36.1" cy="344.9" r="1.12" fill="#e9e9e7"/><circle cx="39.0" cy="345.5" r="1.08" fill="#dcdcda"/><circle cx="40.2" cy="344.6" r="0.98" fill="#cececc"/><circle cx="42.2" cy="344.7" r="1.25" fill="#e4e4e2"/><circle cx="45.0" cy="345.7" r="1.15" fill="#e7e7e5"/><circle cx="46.9" cy="345.0" r="1.02" fill="#d4d4d2"/><circle cx="49.1" cy="344.5" r="1.16" fill="#cdcdcb"/><circle cx="51.8" cy="345.0" r="1.12" fill="#e4e4e2"/><circle cx="53.6" cy="345.4" r="1.11" fill="#d7d7d5"/><circle cx="55.5" cy="345.6" r="0.96" fill="#e4e4e2"/><circle cx="58.0" cy="345.0" r="1.14" fill="#e0e0de"/><circle cx="60.2" cy="345.4" r="0.99" fill="#e4e4e2"/><circle cx="62.3" cy="345.1" r="1.23" fill="#e5e5e3"/><circle cx="64.7" cy="345.6" r="1.00" fill="#e2e2e0"/><circle cx="66.6" cy="345.3" r="1.23" fill="#dcdcda"/><circle cx="68.6" cy="344.7" r="1.16" fill="#cbcbc9"/><circle cx="70.9" cy="344.8" r="1.22" fill="#dbdbd9"/><circle cx="73.0" cy="345.1" r="1.11" fill="#ccccca"/><circle cx="75.3" cy="344.8" r="1.15" fill="#d6d6d4"/><circle cx="77.5" cy="345.1" r="0.96" fill="#cececc"/><circle cx="80.5" cy="345.0" r="1.22" fill="#cfcfcd"/><circle cx="15.6" cy="347.7" r="1.15" fill="#dbdbd9"/><circle cx="17.6" cy="346.9" r="1.03" fill="#e7e7e5"/><circle cx="20.0" cy="347.4" r="1.12" fill="#d5d5d3"/><circle cx="21.4" cy="347.1" r="1.21" fill="#e0e0de"/><circle cx="24.4" cy="347.0" r="1.02" fill="#d5d5d3"/><circle cx="25.8" cy="347.5" r="0.99" fill="#d1d1cf"/><circle cx="27.8" cy="347.6" r="1.12" fill="#dcdcda"/><circle cx="31.0" cy="346.5" r="1.23" fill="#cbcbc9"/><circle cx="32.6" cy="347.4" r="1.05" fill="#d0d0ce"/><circle cx="35.6" cy="346.9" r="1.05" fill="#d9d9d7"/><circle cx="36.6" cy="347.4" r="1.14" fill="#dddddb"/><circle cx="39.7" cy="347.7" r="1.16" fill="#e6e6e4"/><circle cx="41.5" cy="347.6" r="1.02" fill="#e4e4e2"/><circle cx="43.2" cy="346.9" r="1.10" fill="#e5e5e3"/><circle cx="46.1" cy="347.2" r="0.98" fill="#eaeae8"/><circle cx="48.0" cy="346.9" r="1.23" fill="#cfcfcd"/><circle cx="50.0" cy="347.1" r="1.24" fill="#e9e9e7"/><circle cx="52.2" cy="346.6" r="1.18" fill="#e0e0de"/><circle cx="54.2" cy="347.6" r="1.23" fill="#cfcfcd"/><circle cx="57.6" cy="347.6" r="1.17" fill="#d8d8d6"/><circle cx="58.9" cy="347.8" r="1.06" fill="#eaeae8"/><circle cx="61.8" cy="346.4" r="1.15" fill="#d5d5d3"/><circle cx="63.4" cy="347.5" r="0.97" fill="#d3d3d1"/><circle cx="65.4" cy="346.4" r="1.17" fill="#d5d5d3"/><circle cx="68.1" cy="347.2" r="1.22" fill="#dcdcda"/><circle cx="69.7" cy="347.7" r="1.01" fill="#dfdfdd"/><circle cx="72.9" cy="346.9" r="1.10" fill="#dbdbd9"/><circle cx="74.3" cy="346.8" r="1.02" fill="#e5e5e3"/><circle cx="77.0" cy="347.6" r="1.05" fill="#d9d9d7"/><circle cx="81.5" cy="347.3" r="1.13" fill="#d4d4d2"/><circle cx="15.7" cy="348.8" r="1.15" fill="#cbcbc9"/><circle cx="17.8" cy="349.5" r="0.98" fill="#d0d0ce"/><circle cx="21.2" cy="349.5" r="1.13" fill="#d1d1cf"/><circle cx="22.2" cy="348.3" r="1.07" fill="#d8d8d6"/><circle cx="25.3" cy="349.1" r="1.03" fill="#cececc"/><circle cx="27.0" cy="349.4" r="1.17" fill="#e2e2e0"/><circle cx="29.2" cy="349.2" r="1.05" fill="#e3e3e1"/><circle cx="32.1" cy="348.7" r="1.22" fill="#e0e0de"/><circle cx="33.5" cy="349.3" r="0.96" fill="#e8e8e6"/><circle cx="35.7" cy="349.3" r="1.02" fill="#dadad8"/><circle cx="37.6" cy="349.0" r="1.00" fill="#dbdbd9"/><circle cx="41.1" cy="349.7" r="0.98" fill="#e9e9e7"/><circle cx="43.1" cy="349.5" r="1.15" fill="#e5e5e3"/><circle cx="45.1" cy="348.5" r="1.04" fill="#d5d5d3"/><circle cx="47.8" cy="348.5" r="0.96" fill="#cdcdcb"/><circle cx="49.0" cy="349.3" r="1.18" fill="#e2e2e0"/><circle cx="51.4" cy="348.6" r="1.14" fill="#d2d2d0"/><circle cx="54.3" cy="349.4" r="1.24" fill="#cacac8"/><circle cx="56.0" cy="348.6" r="0.98" fill="#dbdbd9"/><circle cx="58.0" cy="348.5" r="1.06" fill="#d0d0ce"/><circle cx="60.3" cy="348.3" r="1.04" fill="#d3d3d1"/><circle cx="62.6" cy="348.7" r="1.15" fill="#e3e3e1"/><circle cx="64.1" cy="348.3" r="1.05" fill="#dfdfdd"/><circle cx="67.4" cy="349.1" r="1.19" fill="#d5d5d3"/><circle cx="69.2" cy="348.3" r="1.06" fill="#e1e1df"/><circle cx="70.8" cy="349.0" r="1.05" fill="#e6e6e4"/><circle cx="73.2" cy="348.8" r="1.08" fill="#e9e9e7"/><circle cx="76.0" cy="348.6" r="1.05" fill="#cbcbc9"/><circle cx="77.5" cy="349.6" r="1.12" fill="#d2d2d0"/><circle cx="80.5" cy="349.1" r="1.19" fill="#e0e0de"/><circle cx="15.2" cy="350.7" r="1.21" fill="#dcdcda"/><circle cx="19.7" cy="350.8" r="1.19" fill="#e3e3e1"/><circle cx="21.1" cy="350.6" r="1.15" fill="#d8d8d6"/><circle cx="24.1" cy="350.8" r="0.99" fill="#e2e2e0"/><circle cx="26.3" cy="350.2" r="1.03" fill="#e1e1df"/><circle cx="28.6" cy="350.5" r="1.20" fill="#d2d2d0"/><circle cx="30.9" cy="351.2" r="0.97" fill="#dededc"/><circle cx="33.0" cy="350.7" r="0.96" fill="#dbdbd9"/><circle cx="35.6" cy="350.6" r="0.95" fill="#d9d9d7"/><circle cx="37.3" cy="350.6" r="1.12" fill="#e5e5e3"/><circle cx="39.3" cy="351.2" r="1.01" fill="#e1e1df"/><circle cx="41.3" cy="351.4" r="1.13" fill="#e0e0de"/><circle cx="43.2" cy="350.2" r="0.99" fill="#e9e9e7"/><circle cx="45.7" cy="351.4" r="1.15" fill="#d2d2d0"/><circle cx="48.4" cy="350.7" r="1.16" fill="#dddddb"/><circle cx="50.7" cy="351.0" r="1.04" fill="#cdcdcb"/><circle cx="53.0" cy="351.5" r="0.99" fill="#dadad8"/><circle cx="54.8" cy="350.5" r="1.18" fill="#e3e3e1"/><circle cx="56.9" cy="351.5" r="1.13" fill="#d3d3d1"/><circle cx="59.4" cy="351.1" r="1.11" fill="#d1d1cf"/><circle cx="60.8" cy="350.5" r="1.10" fill="#d1d1cf"/><circle cx="63.2" cy="351.5" r="1.05" fill="#eaeae8"/><circle cx="66.4" cy="350.6" r="0.98" fill="#e4e4e2"/><circle cx="68.1" cy="351.3" r="1.21" fill="#d4d4d2"/><circle cx="69.9" cy="350.7" r="1.17" fill="#e2e2e0"/><circle cx="72.9" cy="350.4" r="1.15" fill="#cececc"/><circle cx="75.1" cy="351.2" r="1.17" fill="#dadad8"/><circle cx="77.3" cy="350.9" r="1.14" fill="#e9e9e7"/><circle cx="78.5" cy="350.3" r="1.09" fill="#dddddb"/><circle cx="81.0" cy="351.6" r="1.10" fill="#e0e0de"/><circle cx="16.3" cy="352.4" r="1.17" fill="#e6e6e4"/><circle cx="18.0" cy="352.7" r="1.22" fill="#d9d9d7"/><circle cx="22.9" cy="352.1" r="0.95" fill="#d3d3d1"/><circle cx="25.0" cy="352.4" r="1.17" fill="#dddddb"/><circle cx="26.8" cy="352.2" r="1.00" fill="#d0d0ce"/><circle cx="29.2" cy="353.1" r="0.99" fill="#e8e8e6"/><circle cx="31.7" cy="353.0" r="1.14" fill="#d5d5d3"/><circle cx="34.4" cy="353.3" r="1.14" fill="#cacac8"/><circle cx="35.8" cy="352.6" r="1.02" fill="#cdcdcb"/><circle cx="38.0" cy="352.4" r="0.99" fill="#dededc"/><circle cx="40.4" cy="352.6" r="1.25" fill="#ccccca"/><circle cx="43.4" cy="353.3" r="1.11" fill="#e2e2e0"/><circle cx="45.4" cy="352.3" r="1.14" fill="#e0e0de"/><circle cx="46.5" cy="352.4" r="0.97" fill="#e7e7e5"/><circle cx="49.6" cy="353.1" r="1.13" fill="#d9d9d7"/><circle cx="52.0" cy="352.2" r="1.10" fill="#e2e2e0"/><circle cx="53.6" cy="352.5" r="1.24" fill="#ccccca"/><circle cx="56.3" cy="352.8" r="0.96" fill="#e6e6e4"/><circle cx="58.1" cy="352.8" r="1.11" fill="#d8d8d6"/><circle cx="60.4" cy="352.9" r="1.12" fill="#cfcfcd"/><circle cx="62.3" cy="352.6" r="0.99" fill="#e1e1df"/><circle cx="64.2" cy="352.8" r="1.20" fill="#dcdcda"/><circle cx="66.8" cy="353.3" r="1.16" fill="#e6e6e4"/><circle cx="68.6" cy="353.4" r="1.23" fill="#dededc"/><circle cx="71.2" cy="353.4" r="1.00" fill="#e8e8e6"/><circle cx="73.4" cy="352.6" r="1.22" fill="#d9d9d7"/><circle cx="76.0" cy="353.3" r="1.06" fill="#e1e1df"/><circle cx="78.5" cy="353.0" r="0.96" fill="#e1e1df"/><circle cx="80.0" cy="352.2" r="1.19" fill="#dddddb"/><circle cx="16.9" cy="354.5" r="1.10" fill="#dededc"/><circle cx="20.2" cy="355.0" r="1.17" fill="#d4d4d2"/><circle cx="21.3" cy="354.1" r="1.24" fill="#cbcbc9"/><circle cx="24.6" cy="354.3" r="1.21" fill="#cececc"/><circle cx="26.0" cy="354.3" r="1.17" fill="#d1d1cf"/><circle cx="28.3" cy="354.3" r="1.15" fill="#d2d2d0"/><circle cx="31.2" cy="354.7" r="1.05" fill="#d7d7d5"/><circle cx="32.8" cy="354.8" r="0.99" fill="#dddddb"/><circle cx="35.2" cy="355.3" r="1.01" fill="#e8e8e6"/><circle cx="37.8" cy="354.7" r="1.05" fill="#cacac8"/><circle cx="39.0" cy="354.8" r="1.09" fill="#e1e1df"/><circle cx="41.5" cy="354.5" r="1.24" fill="#d9d9d7"/><circle cx="44.3" cy="354.6" r="0.95" fill="#cfcfcd"/><circle cx="46.1" cy="354.0" r="1.05" fill="#cececc"/><circle cx="47.7" cy="355.2" r="1.09" fill="#dadad8"/><circle cx="50.2" cy="355.2" r="1.15" fill="#e6e6e4"/><circle cx="52.0" cy="354.4" r="1.17" fill="#e8e8e6"/><circle cx="54.3" cy="354.9" r="1.04" fill="#eaeae8"/><circle cx="56.4" cy="355.1" r="1.23" fill="#dfdfdd"/><circle cx="59.8" cy="354.9" r="1.15" fill="#dadad8"/><circle cx="61.3" cy="355.3" r="1.16" fill="#d1d1cf"/><circle cx="64.1" cy="354.4" r="0.98" fill="#d4d4d2"/><circle cx="65.8" cy="354.7" r="1.05" fill="#d3d3d1"/><circle cx="68.1" cy="355.0" r="1.22" fill="#d4d4d2"/><circle cx="70.2" cy="355.1" r="1.02" fill="#d9d9d7"/><circle cx="72.4" cy="354.8" r="1.07" fill="#dbdbd9"/><circle cx="75.2" cy="354.2" r="1.03" fill="#e5e5e3"/><circle cx="76.6" cy="354.5" r="1.04" fill="#d2d2d0"/><circle cx="79.3" cy="354.4" r="1.13" fill="#cbcbc9"/><circle cx="80.5" cy="354.6" r="1.00" fill="#dddddb"/><circle cx="18.9" cy="356.2" r="1.08" fill="#cececc"/><circle cx="20.1" cy="357.0" r="1.01" fill="#dededc"/><circle cx="23.5" cy="356.0" r="1.17" fill="#cacac8"/><circle cx="24.9" cy="356.5" r="1.06" fill="#cfcfcd"/><circle cx="27.2" cy="356.8" r="0.96" fill="#e6e6e4"/><circle cx="29.5" cy="356.8" r="1.02" fill="#d1d1cf"/><circle cx="31.2" cy="357.3" r="1.13" fill="#dfdfdd"/><circle cx="33.6" cy="357.0" r="1.10" fill="#d9d9d7"/><circle cx="36.0" cy="355.9" r="1.03" fill="#dcdcda"/><circle cx="37.7" cy="357.0" r="1.24" fill="#e6e6e4"/><circle cx="40.8" cy="357.3" r="1.03" fill="#eaeae8"/><circle cx="42.6" cy="357.2" r="1.24" fill="#d7d7d5"/><circle cx="44.5" cy="356.0" r="1.00" fill="#eaeae8"/><circle cx="46.8" cy="356.2" r="1.00" fill="#d5d5d3"/><circle cx="48.9" cy="357.1" r="1.19" fill="#dcdcda"/><circle cx="51.2" cy="356.1" r="1.16" fill="#e9e9e7"/><circle cx="54.3" cy="357.1" r="1.24" fill="#e9e9e7"/><circle cx="56.3" cy="356.7" r="1.10" fill="#ccccca"/><circle cx="58.7" cy="357.0" r="1.19" fill="#e4e4e2"/><circle cx="60.7" cy="356.9" r="0.98" fill="#d6d6d4"/><circle cx="63.1" cy="356.5" r="1.14" fill="#e8e8e6"/><circle cx="64.6" cy="355.9" r="1.07" fill="#e9e9e7"/><circle cx="67.3" cy="357.2" r="1.09" fill="#d1d1cf"/><circle cx="68.5" cy="356.1" r="1.17" fill="#d8d8d6"/><circle cx="71.9" cy="356.1" r="1.04" fill="#e4e4e2"/><circle cx="73.8" cy="356.0" r="1.08" fill="#e6e6e4"/><circle cx="75.0" cy="355.9" r="1.21" fill="#e6e6e4"/><circle cx="77.7" cy="356.4" r="1.17" fill="#e3e3e1"/><circle cx="80.1" cy="356.1" r="1.18" fill="#e3e3e1"/><circle cx="19.5" cy="358.8" r="1.17" fill="#e7e7e5"/><circle cx="21.4" cy="358.8" r="1.17" fill="#e0e0de"/><circle cx="24.6" cy="359.1" r="0.98" fill="#d8d8d6"/><circle cx="26.0" cy="358.9" r="1.18" fill="#e2e2e0"/><circle cx="28.5" cy="358.3" r="1.15" fill="#cececc"/><circle cx="29.9" cy="358.8" r="0.95" fill="#dddddb"/><circle cx="32.9" cy="358.9" r="0.98" fill="#d4d4d2"/><circle cx="34.4" cy="359.1" r="1.23" fill="#e6e6e4"/><circle cx="37.6" cy="358.5" r="0.98" fill="#e5e5e3"/><circle cx="38.9" cy="357.9" r="1.03" fill="#cbcbc9"/><circle cx="42.1" cy="358.7" r="1.12" fill="#d2d2d0"/><circle cx="43.8" cy="359.1" r="1.22" fill="#e5e5e3"/><circle cx="46.7" cy="358.5" r="0.98" fill="#d5d5d3"/><circle cx="47.6" cy="359.0" r="1.09" fill="#d2d2d0"/><circle cx="49.9" cy="358.5" r="1.15" fill="#e2e2e0"/><circle cx="52.3" cy="357.9" r="1.15" fill="#eaeae8"/><circle cx="54.2" cy="358.4" r="0.99" fill="#ccccca"/><circle cx="56.7" cy="358.2" r="0.99" fill="#e3e3e1"/><circle cx="59.1" cy="359.0" r="1.08" fill="#e6e6e4"/><circle cx="61.0" cy="359.0" r="1.09" fill="#cfcfcd"/><circle cx="63.3" cy="358.3" r="1.04" fill="#e2e2e0"/><circle cx="66.0" cy="358.8" r="1.22" fill="#d7d7d5"/><circle cx="67.3" cy="358.5" r="1.00" fill="#dddddb"/><circle cx="70.7" cy="358.8" r="0.97" fill="#d8d8d6"/><circle cx="72.7" cy="358.9" r="0.98" fill="#e7e7e5"/><circle cx="75.2" cy="359.1" r="1.18" fill="#dfdfdd"/><circle cx="77.1" cy="357.8" r="1.02" fill="#eaeae8"/><circle cx="78.8" cy="358.0" r="1.18" fill="#dcdcda"/><circle cx="18.9" cy="360.2" r="0.99" fill="#e1e1df"/><circle cx="20.0" cy="360.7" r="1.03" fill="#e8e8e6"/><circle cx="23.0" cy="359.7" r="1.19" fill="#eaeae8"/><circle cx="25.8" cy="359.8" r="0.98" fill="#cfcfcd"/><circle cx="26.7" cy="360.4" r="1.01" fill="#cfcfcd"/><circle cx="29.3" cy="360.8" r="0.99" fill="#d2d2d0"/><circle cx="32.1" cy="359.8" r="1.07" fill="#d3d3d1"/><circle cx="33.4" cy="360.3" r="1.02" fill="#d2d2d0"/><circle cx="35.5" cy="360.0" r="0.95" fill="#d5d5d3"/><circle cx="37.6" cy="359.9" r="1.17" fill="#e3e3e1"/><circle cx="40.8" cy="360.1" r="1.07" fill="#d5d5d3"/><circle cx="43.2" cy="361.0" r="1.07" fill="#eaeae8"/><circle cx="44.7" cy="360.2" r="1.08" fill="#d1d1cf"/><circle cx="47.3" cy="360.0" r="0.99" fill="#d3d3d1"/><circle cx="49.4" cy="360.5" r="1.07" fill="#dfdfdd"/><circle cx="51.7" cy="361.1" r="0.98" fill="#e8e8e6"/><circle cx="54.4" cy="360.0" r="1.14" fill="#dfdfdd"/><circle cx="56.5" cy="361.0" r="1.05" fill="#d9d9d7"/><circle cx="58.0" cy="360.7" r="1.17" fill="#e9e9e7"/><circle cx="59.8" cy="359.9" r="0.97" fill="#dfdfdd"/><circle cx="62.0" cy="360.4" r="0.96" fill="#d9d9d7"/><circle cx="65.2" cy="360.0" r="1.01" fill="#e3e3e1"/><circle cx="66.6" cy="359.9" r="0.97" fill="#e6e6e4"/><circle cx="68.4" cy="360.6" r="0.97" fill="#d8d8d6"/><circle cx="70.9" cy="361.0" r="1.25" fill="#e0e0de"/><circle cx="73.6" cy="360.7" r="1.18" fill="#ccccca"/><circle cx="75.2" cy="360.3" r="1.14" fill="#e0e0de"/><circle cx="78.4" cy="359.8" r="0.98" fill="#d4d4d2"/><circle cx="79.6" cy="359.8" r="1.25" fill="#d8d8d6"/><circle cx="17.8" cy="362.5" r="1.24" fill="#d8d8d6"/><circle cx="19.2" cy="362.9" r="1.07" fill="#cacac8"/><circle cx="22.1" cy="362.1" r="1.11" fill="#d5d5d3"/><circle cx="24.3" cy="361.7" r="1.15" fill="#e6e6e4"/><circle cx="26.0" cy="362.5" r="1.16" fill="#e2e2e0"/><circle cx="28.8" cy="362.2" r="1.11" fill="#e1e1df"/><circle cx="30.1" cy="362.0" r="1.16" fill="#d0d0ce"/><circle cx="33.2" cy="362.6" r="1.13" fill="#d3d3d1"/><circle cx="34.9" cy="362.9" r="1.14" fill="#cbcbc9"/><circle cx="37.1" cy="362.1" r="1.01" fill="#dddddb"/><circle cx="39.3" cy="362.4" r="1.16" fill="#dcdcda"/><circle cx="41.5" cy="362.5" r="1.20" fill="#cfcfcd"/><circle cx="44.4" cy="362.1" r="1.04" fill="#eaeae8"/><circle cx="45.4" cy="362.4" r="1.25" fill="#e0e0de"/><circle cx="48.2" cy="361.8" r="1.06" fill="#cbcbc9"/><circle cx="50.5" cy="361.7" r="1.21" fill="#e8e8e6"/><circle cx="53.1" cy="362.9" r="1.01" fill="#dededc"/><circle cx="55.4" cy="362.9" r="1.00" fill="#eaeae8"/><circle cx="56.6" cy="361.8" r="1.08" fill="#cbcbc9"/><circle cx="59.7" cy="362.2" r="1.00" fill="#e2e2e0"/><circle cx="61.4" cy="362.6" r="1.05" fill="#cacac8"/><circle cx="63.4" cy="362.8" r="1.11" fill="#d8d8d6"/><circle cx="66.2" cy="361.9" r="1.09" fill="#dbdbd9"/><circle cx="67.6" cy="362.3" r="0.96" fill="#d4d4d2"/><circle cx="70.3" cy="362.8" r="1.15" fill="#dededc"/><circle cx="72.6" cy="363.0" r="1.10" fill="#e9e9e7"/><circle cx="74.3" cy="361.9" r="1.18" fill="#dddddb"/><circle cx="77.3" cy="362.5" r="1.05" fill="#d2d2d0"/><circle cx="18.4" cy="363.7" r="1.02" fill="#e1e1df"/><circle cx="20.8" cy="364.3" r="1.05" fill="#e9e9e7"/><circle cx="22.4" cy="364.8" r="0.95" fill="#e2e2e0"/><circle cx="25.5" cy="364.4" r="1.12" fill="#cfcfcd"/><circle cx="27.4" cy="363.6" r="1.00" fill="#e2e2e0"/><circle cx="28.9" cy="364.3" r="1.23" fill="#dededc"/><circle cx="31.6" cy="364.8" r="1.24" fill="#e1e1df"/><circle cx="33.8" cy="363.8" r="1.21" fill="#e8e8e6"/><circle cx="36.7" cy="364.2" r="1.14" fill="#dfdfdd"/><circle cx="38.5" cy="364.1" r="0.99" fill="#cbcbc9"/><circle cx="40.3" cy="364.2" r="1.17" fill="#e8e8e6"/><circle cx="42.4" cy="364.2" r="1.00" fill="#cacac8"/><circle cx="44.4" cy="364.3" r="1.10" fill="#d8d8d6"/><circle cx="47.8" cy="364.4" r="1.01" fill="#dfdfdd"/><circle cx="48.7" cy="364.1" r="0.95" fill="#d5d5d3"/><circle cx="51.1" cy="364.2" r="1.21" fill="#d3d3d1"/><circle cx="53.4" cy="364.4" r="1.13" fill="#e6e6e4"/><circle cx="55.4" cy="363.9" r="0.98" fill="#ccccca"/><circle cx="58.7" cy="364.2" r="1.01" fill="#dddddb"/><circle cx="60.2" cy="364.0" r="1.19" fill="#e2e2e0"/><circle cx="62.2" cy="363.6" r="1.04" fill="#cfcfcd"/><circle cx="64.6" cy="363.5" r="1.17" fill="#dededc"/><circle cx="66.8" cy="364.2" r="1.19" fill="#cececc"/><circle cx="68.8" cy="363.8" r="1.22" fill="#dcdcda"/><circle cx="70.9" cy="364.2" r="1.00" fill="#dbdbd9"/><circle cx="73.9" cy="364.5" r="1.09" fill="#e5e5e3"/><circle cx="75.2" cy="364.8" r="1.00" fill="#e3e3e1"/><circle cx="21.5" cy="365.9" r="1.11" fill="#dfdfdd"/><circle cx="24.7" cy="366.3" r="1.04" fill="#d9d9d7"/><circle cx="26.0" cy="366.0" r="1.04" fill="#d5d5d3"/><circle cx="28.1" cy="365.9" r="1.19" fill="#e6e6e4"/><circle cx="30.7" cy="366.6" r="1.05" fill="#dbdbd9"/><circle cx="32.7" cy="366.2" r="0.98" fill="#cdcdcb"/><circle cx="34.9" cy="365.8" r="1.11" fill="#d7d7d5"/><circle cx="37.4" cy="366.4" r="1.05" fill="#e9e9e7"/><circle cx="40.0" cy="366.1" r="1.20" fill="#e9e9e7"/><circle cx="41.4" cy="366.8" r="1.10" fill="#cececc"/><circle cx="44.0" cy="366.3" r="1.07" fill="#d2d2d0"/><circle cx="46.6" cy="366.3" r="1.05" fill="#e3e3e1"/><circle cx="48.6" cy="366.1" r="1.10" fill="#cfcfcd"/><circle cx="50.5" cy="365.8" r="1.24" fill="#e1e1df"/><circle cx="52.7" cy="366.6" r="1.22" fill="#d6d6d4"/><circle cx="55.3" cy="366.1" r="1.18" fill="#dbdbd9"/><circle cx="57.6" cy="366.4" r="1.12" fill="#dddddb"/><circle cx="59.2" cy="365.9" r="1.04" fill="#e1e1df"/><circle cx="61.2" cy="366.4" r="1.12" fill="#d7d7d5"/><circle cx="63.0" cy="365.9" r="1.19" fill="#d9d9d7"/><circle cx="66.2" cy="365.8" r="0.98" fill="#cbcbc9"/><circle cx="68.1" cy="366.6" r="1.08" fill="#cbcbc9"/><circle cx="69.8" cy="366.2" r="1.24" fill="#dcdcda"/><circle cx="72.8" cy="366.5" r="1.12" fill="#cfcfcd"/><circle cx="75.0" cy="366.5" r="1.18" fill="#cacac8"/><circle cx="77.2" cy="366.0" r="1.20" fill="#eaeae8"/><circle cx="23.3" cy="367.7" r="1.10" fill="#cacac8"/><circle cx="27.1" cy="367.6" r="0.96" fill="#dfdfdd"/><circle cx="29.2" cy="368.6" r="0.98" fill="#dcdcda"/><circle cx="31.2" cy="367.5" r="1.04" fill="#ccccca"/><circle cx="33.3" cy="368.0" r="1.17" fill="#e4e4e2"/><circle cx="36.1" cy="367.5" r="1.17" fill="#e2e2e0"/><circle cx="38.4" cy="367.4" r="1.13" fill="#ccccca"/><circle cx="40.8" cy="367.4" r="0.95" fill="#cfcfcd"/><circle cx="42.6" cy="368.7" r="1.14" fill="#cbcbc9"/><circle cx="45.4" cy="367.5" r="1.12" fill="#dfdfdd"/><circle cx="46.8" cy="368.6" r="0.97" fill="#d3d3d1"/><circle cx="49.3" cy="367.9" r="1.14" fill="#e6e6e4"/><circle cx="51.8" cy="367.7" r="1.02" fill="#dadad8"/><circle cx="53.1" cy="367.5" r="1.11" fill="#cfcfcd"/><circle cx="55.9" cy="367.8" r="1.14" fill="#e4e4e2"/><circle cx="57.9" cy="368.0" r="1.15" fill="#dcdcda"/><circle cx="60.3" cy="368.2" r="1.13" fill="#dfdfdd"/><circle cx="62.4" cy="368.4" r="1.15" fill="#d5d5d3"/><circle cx="64.1" cy="367.8" r="1.23" fill="#d1d1cf"/><circle cx="66.6" cy="367.7" r="1.12" fill="#dddddb"/><circle cx="69.1" cy="368.7" r="1.17" fill="#dadad8"/><circle cx="73.4" cy="368.5" r="0.99" fill="#e3e3e1"/><circle cx="76.2" cy="367.8" r="0.96" fill="#cececc"/><circle cx="24.5" cy="370.1" r="1.00" fill="#cacac8"/><circle cx="29.0" cy="369.8" r="1.12" fill="#e8e8e6"/><circle cx="30.9" cy="369.3" r="1.22" fill="#d3d3d1"/><circle cx="32.3" cy="369.9" r="1.14" fill="#e4e4e2"/><circle cx="34.8" cy="370.5" r="1.22" fill="#e4e4e2"/><circle cx="37.7" cy="370.6" r="0.98" fill="#d1d1cf"/><circle cx="39.4" cy="370.1" r="1.02" fill="#d6d6d4"/><circle cx="41.7" cy="370.4" r="1.01" fill="#eaeae8"/><circle cx="43.5" cy="370.0" r="1.01" fill="#e3e3e1"/><circle cx="46.5" cy="370.5" r="1.05" fill="#e8e8e6"/><circle cx="47.6" cy="370.1" r="1.04" fill="#cececc"/><circle cx="50.2" cy="369.6" r="0.98" fill="#e2e2e0"/><circle cx="52.1" cy="370.1" r="1.19" fill="#dfdfdd"/><circle cx="55.2" cy="369.8" r="1.11" fill="#d5d5d3"/><circle cx="57.5" cy="369.7" r="1.24" fill="#d5d5d3"/><circle cx="59.3" cy="370.0" r="0.99" fill="#e6e6e4"/><circle cx="61.4" cy="369.5" r="1.00" fill="#e1e1df"/><circle cx="64.3" cy="370.2" r="1.05" fill="#e9e9e7"/><circle cx="66.4" cy="369.4" r="1.13" fill="#d1d1cf"/><circle cx="67.5" cy="369.5" r="1.17" fill="#cfcfcd"/><circle cx="70.6" cy="369.8" r="1.09" fill="#e7e7e5"/><circle cx="72.2" cy="370.6" r="0.97" fill="#e6e6e4"/><circle cx="74.4" cy="370.3" r="1.05" fill="#cacac8"/><circle cx="25.6" cy="372.4" r="1.17" fill="#e6e6e4"/><circle cx="26.7" cy="371.9" r="1.23" fill="#e9e9e7"/><circle cx="29.7" cy="371.7" r="0.98" fill="#dededc"/><circle cx="32.4" cy="372.2" r="1.12" fill="#e4e4e2"/><circle cx="34.2" cy="371.2" r="1.04" fill="#e7e7e5"/><circle cx="35.9" cy="371.5" r="1.16" fill="#cacac8"/><circle cx="37.9" cy="371.8" r="1.21" fill="#cdcdcb"/><circle cx="41.2" cy="371.9" r="1.06" fill="#e0e0de"/><circle cx="43.0" cy="372.4" r="1.23" fill="#d7d7d5"/><circle cx="45.3" cy="371.3" r="1.22" fill="#dcdcda"/><circle cx="47.0" cy="372.0" r="1.22" fill="#cdcdcb"/><circle cx="49.3" cy="372.1" r="0.98" fill="#d8d8d6"/><circle cx="51.0" cy="371.7" r="0.97" fill="#e5e5e3"/><circle cx="54.3" cy="371.5" r="1.15" fill="#e1e1df"/><circle cx="56.4" cy="371.7" r="0.97" fill="#d3d3d1"/><circle cx="57.5" cy="371.2" r="1.05" fill="#dddddb"/><circle cx="60.8" cy="371.3" r="1.10" fill="#e3e3e1"/><circle cx="62.1" cy="371.5" r="1.18" fill="#ccccca"/><circle cx="65.2" cy="371.9" r="1.21" fill="#e8e8e6"/><circle cx="67.0" cy="371.3" r="1.00" fill="#ccccca"/><circle cx="69.0" cy="371.2" r="1.18" fill="#cfcfcd"/><circle cx="70.7" cy="372.5" r="1.04" fill="#ccccca"/><circle cx="73.2" cy="371.8" r="1.03" fill="#dcdcda"/><circle cx="26.4" cy="374.2" r="1.03" fill="#d3d3d1"/><circle cx="28.1" cy="374.4" r="1.08" fill="#e8e8e6"/><circle cx="30.2" cy="373.7" r="1.00" fill="#d5d5d3"/><circle cx="33.1" cy="373.6" r="1.22" fill="#dcdcda"/><circle cx="35.4" cy="373.1" r="0.98" fill="#d1d1cf"/><circle cx="36.7" cy="373.3" r="1.25" fill="#d6d6d4"/><circle cx="39.2" cy="373.5" r="1.21" fill="#d2d2d0"/><circle cx="41.9" cy="373.2" r="1.20" fill="#cacac8"/><circle cx="43.4" cy="374.4" r="1.12" fill="#e5e5e3"/><circle cx="46.7" cy="374.1" r="1.24" fill="#cececc"/><circle cx="47.6" cy="373.6" r="1.02" fill="#cfcfcd"/><circle cx="49.9" cy="374.0" r="1.18" fill="#d2d2d0"/><circle cx="53.2" cy="373.8" r="1.21" fill="#d6d6d4"/><circle cx="54.7" cy="373.7" r="1.03" fill="#d9d9d7"/><circle cx="56.4" cy="373.1" r="0.98" fill="#e3e3e1"/><circle cx="59.3" cy="373.7" r="1.01" fill="#d8d8d6"/><circle cx="61.6" cy="373.6" r="1.06" fill="#d8d8d6"/><circle cx="63.1" cy="373.8" r="1.14" fill="#d8d8d6"/><circle cx="68.2" cy="374.0" r="0.97" fill="#dddddb"/><circle cx="70.6" cy="373.3" r="1.06" fill="#d4d4d2"/><circle cx="29.3" cy="375.6" r="1.08" fill="#d8d8d6"/><circle cx="32.2" cy="375.8" r="0.96" fill="#e5e5e3"/><circle cx="33.7" cy="375.2" r="1.24" fill="#dededc"/><circle cx="36.5" cy="375.5" r="1.06" fill="#cfcfcd"/><circle cx="38.0" cy="375.1" r="1.18" fill="#e6e6e4"/><circle cx="41.1" cy="376.1" r="1.18" fill="#d6d6d4"/><circle cx="42.1" cy="375.3" r="1.17" fill="#dbdbd9"/><circle cx="45.3" cy="376.2" r="1.18" fill="#d4d4d2"/><circle cx="46.8" cy="376.2" r="1.19" fill="#dfdfdd"/><circle cx="49.1" cy="375.3" r="1.09" fill="#e5e5e3"/><circle cx="52.0" cy="375.9" r="1.06" fill="#e5e5e3"/><circle cx="53.9" cy="375.6" r="1.14" fill="#cfcfcd"/><circle cx="56.6" cy="376.0" r="1.24" fill="#e6e6e4"/><circle cx="58.3" cy="376.1" r="1.17" fill="#eaeae8"/><circle cx="59.9" cy="375.2" r="1.16" fill="#e1e1df"/><circle cx="63.1" cy="375.7" r="1.19" fill="#ccccca"/><circle cx="67.0" cy="375.6" r="1.19" fill="#cacac8"/><circle cx="33.0" cy="377.4" r="0.98" fill="#dfdfdd"/><circle cx="34.9" cy="377.6" r="1.06" fill="#d5d5d3"/><circle cx="37.9" cy="377.3" r="1.21" fill="#e8e8e6"/><circle cx="39.6" cy="377.1" r="1.08" fill="#e2e2e0"/><circle cx="41.7" cy="377.0" r="1.24" fill="#cfcfcd"/><circle cx="43.8" cy="376.9" r="1.11" fill="#e6e6e4"/><circle cx="45.8" cy="378.1" r="1.16" fill="#cdcdcb"/><circle cx="48.2" cy="377.7" r="1.23" fill="#d4d4d2"/><circle cx="50.1" cy="377.9" r="1.18" fill="#d3d3d1"/><circle cx="55.4" cy="377.4" r="1.07" fill="#e2e2e0"/><circle cx="56.7" cy="377.4" r="1.23" fill="#cececc"/><circle cx="58.5" cy="377.8" r="0.95" fill="#d8d8d6"/><circle cx="61.9" cy="377.4" r="1.23" fill="#e9e9e7"/><circle cx="63.2" cy="377.5" r="1.25" fill="#dededc"/><circle cx="65.2" cy="377.5" r="1.09" fill="#cdcdcb"/><circle cx="34.1" cy="379.0" r="1.11" fill="#e7e7e5"/><circle cx="36.5" cy="379.4" r="1.20" fill="#e2e2e0"/><circle cx="38.5" cy="379.7" r="0.96" fill="#e8e8e6"/><circle cx="40.9" cy="380.1" r="1.00" fill="#d3d3d1"/><circle cx="43.0" cy="380.1" r="1.14" fill="#e5e5e3"/><circle cx="47.6" cy="379.1" r="1.16" fill="#d2d2d0"/><circle cx="48.7" cy="380.1" r="1.15" fill="#e0e0de"/><circle cx="52.1" cy="380.2" r="1.01" fill="#e9e9e7"/><circle cx="54.4" cy="379.3" r="1.18" fill="#dfdfdd"/><circle cx="56.4" cy="378.9" r="1.20" fill="#e4e4e2"/><circle cx="58.3" cy="379.1" r="0.98" fill="#eaeae8"/><circle cx="60.3" cy="379.9" r="1.04" fill="#cfcfcd"/><circle cx="62.9" cy="379.3" r="1.03" fill="#cbcbc9"/><circle cx="41.9" cy="381.0" r="1.06" fill="#e7e7e5"/><circle cx="43.9" cy="380.9" r="1.05" fill="#cdcdcb"/><circle cx="46.0" cy="381.0" r="1.05" fill="#d4d4d2"/><circle cx="48.8" cy="381.8" r="1.15" fill="#d4d4d2"/><circle cx="50.5" cy="381.4" r="1.21" fill="#cacac8"/><circle cx="51.9" cy="381.7" r="1.03" fill="#cbcbc9"/><circle cx="54.4" cy="380.8" r="0.98" fill="#dbdbd9"/><circle cx="56.5" cy="381.7" r="1.02" fill="#ccccca"/></g>
<path d="M79 362 A33 33 0 0 1 50 383" fill="none" stroke="#222" stroke-width="2.2" stroke-dasharray="1.5 1.2" opacity="0.8"/>
<g clip-path="url(#cp10)"><rect x="0" y="0" width="685" height="653" filter="url(#f1)"/></g>
</g></g>
<text x="11.4" y="320.1" font-size="10.0" fill="#ececec">C<tspan font-size="6.2" dy="0.2">1</tspan></text>
<g clip-path="url(#cp11)"><g filter="url(#b7)">
<rect x="91.2" y="305.0" width="88.89999999999999" height="88.89999999999998" fill="#353535"/>
<rect x="93.2" y="307.0" width="84.89999999999999" height="84.89999999999998" fill="url(#vg12)"/>
<circle cx="137.0" cy="349.2" r="37.0" fill="#30332d"/>
<circle cx="137.0" cy="349.2" r="35.90" fill="none" stroke="#6a6e66" stroke-opacity="0.45" stroke-width="1.54"/>
<circle cx="137.0" cy="349.2" r="36.5" fill="none" stroke="#7b8172" stroke-width="1.2"/>
<circle cx="137.0" cy="349.2" r="34.8" fill="#121212"/>
<circle cx="137.0" cy="349.2" r="34.8" fill="none" stroke="#7b8172" stroke-width="0.5" stroke-opacity="0.5"/>
<g clip-path="url(#cp13)"><rect x="0" y="0" width="685" height="653" filter="url(#f5)"/></g>
<g mask="url(#mk15)" opacity="1.0"><rect x="93.2" y="307.0" width="84.89999999999999" height="84.89999999999998" filter="url(#tx14)"/></g>
<g mask="url(#mk18)" opacity="0.8"><rect x="93.2" y="307.0" width="84.89999999999999" height="84.89999999999998" filter="url(#tx17)"/></g>
</g></g>
<g clip-path="url(#cp20)"><g filter="url(#b7)">
<rect x="4.2" y="425.4" width="89.39999999999999" height="88.60000000000002" fill="#3a3835"/>
<rect x="6.2" y="427.4" width="85.39999999999999" height="84.60000000000002" fill="url(#vg21)"/>
<circle cx="49.6" cy="468.8" r="35.2" fill="#4a4f43"/>
<circle cx="49.6" cy="468.8" r="34.30" fill="none" stroke="#6a6e66" stroke-opacity="0.45" stroke-width="1.26"/>
<circle cx="49.6" cy="468.8" r="34.7" fill="none" stroke="#9aa08a" stroke-width="1.2"/>
<circle cx="49.6" cy="468.8" r="33.400000000000006" fill="#3c4036"/>
<circle cx="49.6" cy="468.8" r="33.400000000000006" fill="none" stroke="#9aa08a" stroke-width="0.5" stroke-opacity="0.5"/>
<g mask="url(#mk23)" opacity="1.0"><rect x="6.2" y="427.4" width="85.39999999999999" height="84.60000000000002" filter="url(#tx22)"/></g>
<g clip-path="url(#cp25)"><rect x="0" y="0" width="685" height="653" filter="url(#f2)"/></g>
</g></g>
<text x="11.200000000000001" y="441.5" font-size="10.0" fill="#ececec">C<tspan font-size="6.2" dy="0.2">2</tspan></text>
<g clip-path="url(#cp26)"><g filter="url(#b7)">
<rect x="91.2" y="425.4" width="88.89999999999999" height="88.60000000000002" fill="#343434"/>
<rect x="93.2" y="427.4" width="84.89999999999999" height="84.60000000000002" fill="url(#vg27)"/>
<circle cx="135.8" cy="470.8" r="36.4" fill="#2c2e29"/>
<circle cx="135.8" cy="470.8" r="35.20" fill="none" stroke="#6a6e66" stroke-opacity="0.45" stroke-width="1.68"/>
<circle cx="135.8" cy="470.8" r="35.9" fill="none" stroke="#7b8172" stroke-width="1.2"/>
<circle cx="135.8" cy="470.8" r="34.0" fill="#121212"/>
<circle cx="135.8" cy="470.8" r="34.0" fill="none" stroke="#7b8172" stroke-width="0.5" stroke-opacity="0.5"/>
<g clip-path="url(#cp28)"><rect x="0" y="0" width="685" height="653" filter="url(#f5)"/></g>
<g mask="url(#mk30)" opacity="1.0"><rect x="93.2" y="427.4" width="84.89999999999999" height="84.60000000000002" filter="url(#tx29)"/></g>
<g mask="url(#mk32)" opacity="0.8"><rect x="93.2" y="427.4" width="84.89999999999999" height="84.60000000000002" filter="url(#tx31)"/></g>
</g></g>
<g clip-path="url(#cp33)"><g filter="url(#b7)">
<rect x="4.2" y="544.0" width="89.39999999999999" height="89.20000000000005" fill="#939393"/>
<path d="M6.2 546.0L91.6 546.0L50.9 589.6Z" fill="#a3a3a3"/>
<path d="M6.2 631.2L91.6 631.2L50.9 589.6Z" fill="#8e8e8e"/>
<path d="M6.2 546.0L50.9 589.6L6.2 631.2Z" fill="#9b9b9b"/>
<path d="M91.6 546.0L50.9 589.6L91.6 631.2Z" fill="#929292"/>
<path d="M6.2 546.0L91.6 631.2M91.6 546.0L6.2 631.2" stroke="#b0b0b0" stroke-width="0.8" opacity="0.6"/>
<g mask="url(#mk35)" opacity="1.0"><rect x="6.2" y="546.0" width="85.39999999999999" height="85.20000000000005" filter="url(#tx34)"/></g>
<g mask="url(#mk38)" opacity="0.9"><rect x="6.2" y="546.0" width="85.39999999999999" height="85.20000000000005" filter="url(#tx37)"/></g>
</g></g>
<text x="11.200000000000001" y="560.1" font-size="10.0" fill="#ececec">C<tspan font-size="6.2" dy="0.2">3</tspan></text>
<g clip-path="url(#cp40)"><g filter="url(#b7)">
<rect x="91.2" y="544.0" width="88.89999999999999" height="89.20000000000005" fill="#303030"/>
<rect x="93.2" y="546.0" width="84.89999999999999" height="85.20000000000005" fill="url(#vg41)"/>
<circle cx="134.0" cy="589.0" r="38.3" fill="#24261f"/>
<circle cx="134.0" cy="589.0" r="37.00" fill="none" stroke="#6a6e66" stroke-opacity="0.45" stroke-width="1.82"/>
<circle cx="134.0" cy="589.0" r="37.8" fill="none" stroke="#8c927f" stroke-width="1.2"/>
<circle cx="134.0" cy="589.0" r="35.699999999999996" fill="#0c0c0c"/>
<circle cx="134.0" cy="589.0" r="35.699999999999996" fill="none" stroke="#8c927f" stroke-width="0.5" stroke-opacity="0.5"/>
<path d="M138.3 575.9l3.1 -5.7M113.0 592.8l-7.5 0.4M110.7 590.2l-3.9 1.1M140.3 575.4l1.4 -9.5M151.0 599.5l7.4 2.3M148.0 597.3l7.1 4.9M152.1 598.6l8.5 6.8M142.5 579.1l2.1 -4.8M116.3 587.0l-6.4 -2.0M149.0 603.2l2.2 4.0M132.9 571.6l-1.7 -7.7M131.1 572.7l1.9 -6.0M116.3 590.7l-6.1 2.1M155.0 588.6l8.0 -1.0M126.7 577.4l-3.9 -6.1M152.1 580.9l8.2 -7.1M111.5 592.4l-8.2 4.5M151.8 600.1l4.3 2.4M145.4 580.9l5.1 -5.1M141.0 601.8l7.3 9.2M116.1 603.3l-7.0 6.2M130.3 608.3l-1.0 4.7M129.5 606.0l-1.3 5.2M149.7 592.0l4.2 0.6M123.4 574.3l-0.4 -4.4M113.8 594.3l-8.9 4.2" stroke="#cfcfcf" stroke-width="0.9" stroke-linecap="round" opacity="0.9"/>
<g mask="url(#mk43)" opacity="1.0"><rect x="93.2" y="546.0" width="84.89999999999999" height="85.20000000000005" filter="url(#tx42)"/></g>
<g mask="url(#mk45)" opacity="0.8"><rect x="93.2" y="546.0" width="84.89999999999999" height="85.20000000000005" filter="url(#tx44)"/></g>
</g></g>
<g clip-path="url(#cp46)"><g filter="url(#b7)">
<rect x="209.5" y="305.0" width="89.10000000000002" height="88.89999999999998" fill="#3e3e3e"/>
<rect x="211.5" y="307.0" width="85.10000000000002" height="84.89999999999998" fill="url(#vg47)"/>
<circle cx="256.2" cy="350.5" r="37.2" fill="#454543"/>
<circle cx="256.2" cy="350.5" r="35.90" fill="none" stroke="#6a6e66" stroke-opacity="0.45" stroke-width="1.82"/>
<circle cx="256.2" cy="350.5" r="36.7" fill="none" stroke="#8f8f88" stroke-width="1.2"/>
<circle cx="256.2" cy="350.5" r="34.6" fill="#1a1a1a"/>
<circle cx="256.2" cy="350.5" r="34.6" fill="none" stroke="#8f8f88" stroke-width="0.5" stroke-opacity="0.5"/>
<g mask="url(#mk49)" opacity="1.0"><rect x="211.5" y="307.0" width="85.10000000000002" height="84.89999999999998" filter="url(#tx48)"/></g>
<g><circle cx="257.3" cy="317.3" r="1.11" fill="#aeaeae"/><circle cx="254.0" cy="319.7" r="1.16" fill="#bcbcbc"/><circle cx="256.1" cy="318.6" r="1.14" fill="#a7a7a7"/><circle cx="258.3" cy="319.2" r="0.93" fill="#9e9e9e"/><circle cx="261.1" cy="318.5" r="1.05" fill="#929292"/><circle cx="263.7" cy="318.7" r="1.00" fill="#b8b8b8"/><circle cx="266.5" cy="319.4" r="1.06" fill="#c5c5c5"/><circle cx="269.2" cy="319.7" r="0.94" fill="#a6a6a6"/><circle cx="255.1" cy="320.9" r="1.03" fill="#9b9b9b"/><circle cx="257.0" cy="321.5" r="1.08" fill="#979797"/><circle cx="260.8" cy="321.5" r="1.10" fill="#afafaf"/><circle cx="262.1" cy="321.1" r="1.14" fill="#9f9f9f"/><circle cx="265.8" cy="321.9" r="1.16" fill="#939393"/><circle cx="268.4" cy="321.5" r="1.03" fill="#c3c3c3"/><circle cx="269.6" cy="321.0" r="1.17" fill="#b1b1b1"/><circle cx="272.1" cy="322.0" r="1.20" fill="#979797"/><circle cx="254.2" cy="323.0" r="0.95" fill="#9b9b9b"/><circle cx="256.5" cy="323.5" r="1.15" fill="#b5b5b5"/><circle cx="259.3" cy="323.5" r="1.10" fill="#c6c6c6"/><circle cx="262.0" cy="323.8" r="1.19" fill="#a1a1a1"/><circle cx="263.9" cy="323.4" r="1.16" fill="#c1c1c1"/><circle cx="267.0" cy="323.0" r="1.16" fill="#949494"/><circle cx="269.2" cy="322.9" r="1.09" fill="#b8b8b8"/><circle cx="271.2" cy="323.4" r="1.17" fill="#989898"/><circle cx="274.0" cy="323.1" r="1.10" fill="#929292"/><circle cx="252.4" cy="326.2" r="1.19" fill="#b2b2b2"/><circle cx="255.0" cy="325.5" r="1.15" fill="#b5b5b5"/><circle cx="257.9" cy="326.1" r="1.03" fill="#969696"/><circle cx="260.6" cy="325.0" r="1.01" fill="#bdbdbd"/><circle cx="263.4" cy="325.3" r="1.04" fill="#a3a3a3"/><circle cx="265.1" cy="326.3" r="1.09" fill="#c4c4c4"/><circle cx="268.1" cy="325.3" r="1.15" fill="#b4b4b4"/><circle cx="270.5" cy="325.5" r="1.03" fill="#b8b8b8"/><circle cx="272.4" cy="326.1" r="1.17" fill="#c5c5c5"/><circle cx="275.1" cy="325.7" r="1.02" fill="#9c9c9c"/><circle cx="278.0" cy="325.3" r="1.10" fill="#bebebe"/><circle cx="253.8" cy="327.2" r="1.12" fill="#bebebe"/><circle cx="256.0" cy="327.9" r="1.15" fill="#a0a0a0"/><circle cx="258.9" cy="327.8" r="1.01" fill="#949494"/><circle cx="261.2" cy="327.5" r="1.11" fill="#c0c0c0"/><circle cx="263.4" cy="327.4" r="0.94" fill="#c2c2c2"/><circle cx="266.0" cy="328.4" r="1.05" fill="#979797"/><circle cx="268.9" cy="327.5" r="1.02" fill="#a6a6a6"/><circle cx="271.5" cy="328.4" r="1.03" fill="#c5c5c5"/><circle cx="273.8" cy="327.7" r="0.94" fill="#b3b3b3"/><circle cx="276.8" cy="327.8" r="1.07" fill="#c5c5c5"/><circle cx="279.4" cy="327.5" r="1.14" fill="#9a9a9a"/><circle cx="281.1" cy="328.4" r="1.01" fill="#bbbbbb"/><circle cx="250.6" cy="330.7" r="1.04" fill="#b6b6b6"/><circle cx="252.8" cy="329.9" r="0.91" fill="#979797"/><circle cx="254.6" cy="330.0" r="1.06" fill="#c1c1c1"/><circle cx="257.7" cy="330.1" r="0.95" fill="#959595"/><circle cx="260.6" cy="330.3" r="1.17" fill="#9b9b9b"/><circle cx="262.8" cy="330.0" r="1.05" fill="#959595"/><circle cx="264.7" cy="329.8" r="0.96" fill="#bdbdbd"/><circle cx="267.4" cy="330.6" r="1.03" fill="#a8a8a8"/><circle cx="270.4" cy="329.6" r="1.07" fill="#c4c4c4"/><circle cx="272.8" cy="330.2" r="1.18" fill="#9f9f9f"/><circle cx="274.8" cy="330.4" r="0.93" fill="#b7b7b7"/><circle cx="278.0" cy="329.3" r="1.14" fill="#a6a6a6"/><circle cx="280.4" cy="329.6" r="1.20" fill="#b7b7b7"/><circle cx="249.1" cy="332.7" r="1.03" fill="#c2c2c2"/><circle cx="251.4" cy="332.3" r="1.11" fill="#9c9c9c"/><circle cx="253.6" cy="332.6" r="1.17" fill="#b0b0b0"/><circle cx="257.0" cy="332.8" r="1.14" fill="#bcbcbc"/><circle cx="258.5" cy="332.5" r="1.03" fill="#9e9e9e"/><circle cx="261.4" cy="332.2" r="1.18" fill="#b9b9b9"/><circle cx="264.6" cy="332.7" r="1.14" fill="#999999"/><circle cx="266.3" cy="332.5" r="1.17" fill="#9c9c9c"/><circle cx="269.4" cy="332.8" r="1.01" fill="#b6b6b6"/><circle cx="271.1" cy="332.5" r="1.05" fill="#b9b9b9"/><circle cx="274.0" cy="331.6" r="0.95" fill="#c1c1c1"/><circle cx="277.0" cy="332.3" r="1.15" fill="#c5c5c5"/><circle cx="278.7" cy="332.7" r="1.13" fill="#9d9d9d"/><circle cx="281.9" cy="332.0" r="1.09" fill="#a5a5a5"/><circle cx="283.3" cy="331.9" r="0.94" fill="#c0c0c0"/><circle cx="250.8" cy="334.8" r="1.10" fill="#a9a9a9"/><circle cx="252.9" cy="334.6" r="0.95" fill="#b3b3b3"/><circle cx="255.3" cy="334.0" r="0.94" fill="#bababa"/><circle cx="257.4" cy="334.6" r="1.07" fill="#b1b1b1"/><circle cx="260.0" cy="334.8" r="0.94" fill="#a9a9a9"/><circle cx="262.2" cy="333.8" r="0.93" fill="#b8b8b8"/><circle cx="265.0" cy="333.8" r="1.08" fill="#bebebe"/><circle cx="267.7" cy="334.7" r="1.10" fill="#979797"/><circle cx="269.7" cy="334.5" r="1.03" fill="#bbbbbb"/><circle cx="273.1" cy="334.1" r="1.06" fill="#c2c2c2"/><circle cx="275.7" cy="334.5" r="0.94" fill="#999999"/><circle cx="278.2" cy="333.7" r="1.18" fill="#bcbcbc"/><circle cx="280.3" cy="334.3" r="1.13" fill="#a9a9a9"/><circle cx="282.9" cy="334.9" r="0.93" fill="#b1b1b1"/><circle cx="284.7" cy="334.5" r="1.13" fill="#9f9f9f"/><circle cx="248.5" cy="336.4" r="1.07" fill="#b1b1b1"/><circle cx="251.1" cy="336.4" r="1.01" fill="#aaaaaa"/><circle cx="254.2" cy="336.8" r="1.16" fill="#b3b3b3"/><circle cx="255.9" cy="336.9" r="1.09" fill="#9c9c9c"/><circle cx="259.1" cy="336.7" r="0.91" fill="#999999"/><circle cx="261.6" cy="337.0" r="1.11" fill="#a5a5a5"/><circle cx="264.6" cy="336.4" r="1.19" fill="#c3c3c3"/><circle cx="266.2" cy="335.9" r="0.95" fill="#bdbdbd"/><circle cx="268.3" cy="336.3" r="1.13" fill="#bababa"/><circle cx="271.0" cy="336.3" r="1.01" fill="#bdbdbd"/><circle cx="273.3" cy="337.1" r="0.95" fill="#bebebe"/><circle cx="275.8" cy="337.1" r="0.99" fill="#9a9a9a"/><circle cx="278.5" cy="336.2" r="1.18" fill="#aeaeae"/><circle cx="281.2" cy="336.4" r="0.91" fill="#bcbcbc"/><circle cx="284.0" cy="336.2" r="1.04" fill="#b3b3b3"/><circle cx="286.0" cy="337.0" r="1.04" fill="#929292"/><circle cx="247.9" cy="339.1" r="1.00" fill="#bebebe"/><circle cx="249.5" cy="338.0" r="0.91" fill="#c5c5c5"/><circle cx="252.9" cy="338.4" r="0.92" fill="#a0a0a0"/><circle cx="255.1" cy="338.0" r="1.07" fill="#bdbdbd"/><circle cx="257.2" cy="338.8" r="1.05" fill="#ababab"/><circle cx="260.6" cy="338.7" r="1.15" fill="#9c9c9c"/><circle cx="262.1" cy="338.1" r="1.16" fill="#bcbcbc"/><circle cx="264.9" cy="338.6" r="0.93" fill="#999999"/><circle cx="267.8" cy="338.5" r="0.94" fill="#a9a9a9"/><circle cx="269.5" cy="339.3" r="1.02" fill="#aeaeae"/><circle cx="273.1" cy="338.1" r="1.13" fill="#aeaeae"/><circle cx="274.7" cy="338.3" r="1.03" fill="#bbbbbb"/><circle cx="278.0" cy="338.6" r="1.00" fill="#a2a2a2"/><circle cx="280.6" cy="339.3" r="1.18" fill="#9e9e9e"/><circle cx="282.2" cy="338.4" r="0.99" fill="#acacac"/><circle cx="285.2" cy="338.8" r="1.11" fill="#9d9d9d"/><circle cx="248.3" cy="340.5" r="1.16" fill="#adadad"/><circle cx="251.5" cy="341.1" r="0.91" fill="#9d9d9d"/><circle cx="253.9" cy="340.2" r="0.94" fill="#c3c3c3"/><circle cx="255.9" cy="340.6" r="1.16" fill="#bababa"/><circle cx="258.3" cy="340.6" r="0.90" fill="#b3b3b3"/><circle cx="262.1" cy="341.1" r="0.98" fill="#969696"/><circle cx="264.1" cy="340.8" r="1.01" fill="#acacac"/><circle cx="266.6" cy="341.2" r="1.09" fill="#979797"/><circle cx="268.8" cy="340.3" r="1.14" fill="#c1c1c1"/><circle cx="270.9" cy="340.2" r="1.07" fill="#bdbdbd"/><circle cx="273.3" cy="340.4" r="1.12" fill="#959595"/><circle cx="276.4" cy="340.5" r="0.96" fill="#a6a6a6"/><circle cx="278.4" cy="341.4" r="0.92" fill="#a2a2a2"/><circle cx="281.3" cy="340.3" r="1.19" fill="#9d9d9d"/><circle cx="283.6" cy="341.0" r="1.05" fill="#c3c3c3"/><circle cx="286.7" cy="340.3" r="1.16" fill="#969696"/><circle cx="250.7" cy="343.0" r="1.14" fill="#bfbfbf"/><circle cx="253.0" cy="343.7" r="1.19" fill="#b7b7b7"/><circle cx="255.2" cy="342.4" r="1.06" fill="#afafaf"/><circle cx="257.8" cy="342.9" r="1.11" fill="#bbbbbb"/><circle cx="259.5" cy="342.6" r="0.93" fill="#ababab"/><circle cx="262.2" cy="343.5" r="1.19" fill="#bdbdbd"/><circle cx="264.9" cy="342.7" r="0.93" fill="#a4a4a4"/><circle cx="267.2" cy="343.1" r="1.20" fill="#b9b9b9"/><circle cx="270.2" cy="342.9" r="0.98" fill="#9b9b9b"/><circle cx="273.3" cy="342.3" r="1.00" fill="#929292"/><circle cx="275.7" cy="342.6" r="0.94" fill="#b1b1b1"/><circle cx="277.8" cy="342.9" r="0.95" fill="#a4a4a4"/><circle cx="279.6" cy="343.0" r="1.17" fill="#b9b9b9"/><circle cx="283.3" cy="342.9" r="0.99" fill="#929292"/><circle cx="285.2" cy="343.0" r="1.18" fill="#adadad"/><circle cx="287.3" cy="342.9" r="1.04" fill="#bfbfbf"/><circle cx="251.1" cy="345.2" r="1.17" fill="#b5b5b5"/><circle cx="253.9" cy="345.4" r="0.90" fill="#a1a1a1"/><circle cx="255.8" cy="344.9" r="1.14" fill="#c1c1c1"/><circle cx="258.8" cy="345.5" r="1.13" fill="#939393"/><circle cx="261.1" cy="345.6" r="0.97" fill="#c4c4c4"/><circle cx="263.5" cy="344.6" r="1.18" fill="#bababa"/><circle cx="266.2" cy="344.5" r="1.15" fill="#9b9b9b"/><circle cx="269.6" cy="344.9" r="1.15" fill="#a9a9a9"/><circle cx="272.0" cy="345.4" r="0.99" fill="#aaaaaa"/><circle cx="274.2" cy="344.8" r="1.09" fill="#c3c3c3"/><circle cx="276.8" cy="345.1" r="1.15" fill="#bababa"/><circle cx="279.6" cy="344.4" r="1.15" fill="#b9b9b9"/><circle cx="281.6" cy="345.2" r="0.90" fill="#a7a7a7"/><circle cx="284.3" cy="345.0" r="1.15" fill="#aeaeae"/><circle cx="286.1" cy="344.7" r="1.05" fill="#aeaeae"/><circle cx="252.9" cy="347.2" r="1.16" fill="#c4c4c4"/><circle cx="255.1" cy="347.4" r="1.01" fill="#b2b2b2"/><circle cx="258.3" cy="347.5" r="0.99" fill="#a2a2a2"/><circle cx="260.7" cy="347.7" r="0.96" fill="#b4b4b4"/><circle cx="262.9" cy="348.0" r="1.00" fill="#a6a6a6"/><circle cx="265.5" cy="346.9" r="1.10" fill="#a0a0a0"/><circle cx="267.7" cy="346.7" r="0.98" fill="#c0c0c0"/><circle cx="269.8" cy="347.4" r="1.02" fill="#bebebe"/><circle cx="273.0" cy="346.6" r="0.90" fill="#a9a9a9"/><circle cx="275.3" cy="347.1" r="1.18" fill="#9f9f9f"/><circle cx="278.1" cy="347.4" r="1.18" fill="#a4a4a4"/><circle cx="280.6" cy="348.0" r="1.11" fill="#a6a6a6"/><circle cx="282.0" cy="347.7" r="1.18" fill="#969696"/><circle cx="285.0" cy="348.0" r="1.16" fill="#b1b1b1"/><circle cx="287.8" cy="347.7" r="0.91" fill="#bebebe"/><circle cx="254.6" cy="349.0" r="1.12" fill="#ababab"/><circle cx="255.8" cy="349.4" r="0.96" fill="#a4a4a4"/><circle cx="258.9" cy="349.2" r="0.99" fill="#bebebe"/><circle cx="260.8" cy="349.4" r="1.05" fill="#949494"/><circle cx="264.4" cy="349.0" r="1.18" fill="#bdbdbd"/><circle cx="266.0" cy="348.9" r="0.91" fill="#959595"/><circle cx="269.6" cy="349.1" r="1.03" fill="#b3b3b3"/><circle cx="271.7" cy="349.7" r="0.95" fill="#939393"/><circle cx="273.7" cy="350.1" r="1.13" fill="#adadad"/><circle cx="275.8" cy="349.0" r="1.11" fill="#c0c0c0"/><circle cx="279.6" cy="349.1" r="0.91" fill="#a0a0a0"/><circle cx="281.3" cy="348.9" r="1.20" fill="#9e9e9e"/><circle cx="283.5" cy="348.9" r="1.12" fill="#ababab"/><circle cx="287.1" cy="348.8" r="1.20" fill="#b5b5b5"/><circle cx="288.3" cy="349.6" r="1.08" fill="#9b9b9b"/><circle cx="253.2" cy="351.3" r="0.92" fill="#c4c4c4"/><circle cx="254.8" cy="351.2" r="1.17" fill="#b8b8b8"/><circle cx="257.0" cy="351.0" r="0.97" fill="#bababa"/><circle cx="259.9" cy="351.6" r="1.11" fill="#a4a4a4"/><circle cx="262.2" cy="351.8" r="1.11" fill="#b4b4b4"/><circle cx="265.0" cy="351.4" r="0.92" fill="#b4b4b4"/><circle cx="267.9" cy="352.0" r="1.12" fill="#b6b6b6"/><circle cx="269.8" cy="351.1" r="1.06" fill="#999999"/><circle cx="273.2" cy="351.0" r="0.99" fill="#9a9a9a"/><circle cx="275.8" cy="352.0" r="1.10" fill="#979797"/><circle cx="277.7" cy="351.6" r="0.96" fill="#c5c5c5"/><circle cx="280.8" cy="351.3" r="0.93" fill="#b7b7b7"/><circle cx="283.1" cy="352.0" r="1.03" fill="#b2b2b2"/><circle cx="285.7" cy="351.3" r="0.99" fill="#adadad"/><circle cx="288.3" cy="351.4" r="1.16" fill="#b9b9b9"/><circle cx="254.2" cy="353.9" r="1.02" fill="#b2b2b2"/><circle cx="256.9" cy="353.2" r="0.99" fill="#a4a4a4"/><circle cx="258.9" cy="353.1" r="1.03" fill="#a1a1a1"/><circle cx="262.1" cy="354.5" r="0.99" fill="#b9b9b9"/><circle cx="264.1" cy="353.3" r="1.03" fill="#a2a2a2"/><circle cx="266.1" cy="353.6" r="0.92" fill="#949494"/><circle cx="269.0" cy="354.0" r="1.04" fill="#969696"/><circle cx="272.0" cy="354.4" r="1.15" fill="#a0a0a0"/><circle cx="273.8" cy="353.4" r="0.96" fill="#bdbdbd"/><circle cx="276.2" cy="353.3" r="0.95" fill="#939393"/><circle cx="278.6" cy="353.8" r="1.16" fill="#bebebe"/><circle cx="281.3" cy="353.4" r="1.01" fill="#c6c6c6"/><circle cx="283.4" cy="353.4" r="1.07" fill="#9b9b9b"/><circle cx="286.0" cy="354.2" r="0.99" fill="#c2c2c2"/><circle cx="288.4" cy="354.0" r="0.91" fill="#b6b6b6"/><circle cx="253.3" cy="356.0" r="1.15" fill="#c6c6c6"/><circle cx="255.4" cy="355.3" r="1.15" fill="#a0a0a0"/><circle cx="258.2" cy="356.3" r="0.91" fill="#a3a3a3"/><circle cx="260.8" cy="356.0" r="1.08" fill="#9c9c9c"/><circle cx="263.3" cy="355.7" r="1.07" fill="#9e9e9e"/><circle cx="265.0" cy="356.6" r="0.94" fill="#959595"/><circle cx="268.4" cy="356.4" r="0.90" fill="#afafaf"/><circle cx="270.8" cy="355.6" r="0.96" fill="#949494"/><circle cx="272.6" cy="355.5" r="1.13" fill="#b7b7b7"/><circle cx="275.2" cy="356.5" r="1.03" fill="#b1b1b1"/><circle cx="277.3" cy="355.5" r="1.08" fill="#a4a4a4"/><circle cx="279.7" cy="355.4" r="1.15" fill="#bdbdbd"/><circle cx="282.4" cy="355.6" r="0.94" fill="#c1c1c1"/><circle cx="285.2" cy="356.1" r="1.04" fill="#969696"/><circle cx="287.9" cy="356.4" r="1.15" fill="#bababa"/><circle cx="253.6" cy="357.6" r="1.03" fill="#c2c2c2"/><circle cx="256.2" cy="357.6" r="0.96" fill="#c1c1c1"/><circle cx="259.1" cy="358.3" r="0.94" fill="#9e9e9e"/><circle cx="260.8" cy="358.8" r="1.17" fill="#aaaaaa"/><circle cx="264.5" cy="358.4" r="1.05" fill="#a2a2a2"/><circle cx="265.9" cy="358.2" r="1.18" fill="#9b9b9b"/><circle cx="269.4" cy="357.7" r="1.14" fill="#989898"/><circle cx="270.8" cy="357.9" r="1.00" fill="#999999"/><circle cx="273.9" cy="358.3" r="1.08" fill="#bababa"/><circle cx="276.4" cy="358.0" r="1.02" fill="#ababab"/><circle cx="279.2" cy="358.7" r="1.05" fill="#b7b7b7"/><circle cx="281.4" cy="358.4" r="1.19" fill="#ababab"/><circle cx="284.5" cy="358.5" r="1.03" fill="#9c9c9c"/><circle cx="285.8" cy="357.8" r="0.96" fill="#9a9a9a"/><circle cx="253.3" cy="360.6" r="0.98" fill="#b6b6b6"/><circle cx="255.8" cy="359.7" r="1.01" fill="#bfbfbf"/><circle cx="257.3" cy="360.9" r="0.94" fill="#a7a7a7"/><circle cx="259.8" cy="360.7" r="0.91" fill="#b5b5b5"/><circle cx="262.5" cy="361.0" r="1.03" fill="#b6b6b6"/><circle cx="265.5" cy="360.4" r="1.04" fill="#b0b0b0"/><circle cx="267.5" cy="360.0" r="1.19" fill="#bebebe"/><circle cx="270.2" cy="360.4" r="0.90" fill="#bababa"/><circle cx="272.5" cy="359.9" r="1.10" fill="#b9b9b9"/><circle cx="274.9" cy="360.7" r="0.96" fill="#9f9f9f"/><circle cx="277.6" cy="359.9" r="1.19" fill="#b0b0b0"/><circle cx="279.7" cy="360.5" r="0.91" fill="#b3b3b3"/><circle cx="283.0" cy="360.2" r="0.93" fill="#a2a2a2"/><circle cx="285.1" cy="360.5" r="1.10" fill="#adadad"/><circle cx="287.9" cy="361.0" r="1.04" fill="#929292"/><circle cx="251.2" cy="362.2" r="1.03" fill="#c4c4c4"/><circle cx="254.4" cy="362.6" r="0.91" fill="#b4b4b4"/><circle cx="257.0" cy="361.9" r="1.03" fill="#9b9b9b"/><circle cx="258.4" cy="362.7" r="0.97" fill="#9f9f9f"/><circle cx="261.6" cy="363.1" r="1.02" fill="#b0b0b0"/><circle cx="264.0" cy="362.9" r="1.19" fill="#979797"/><circle cx="266.5" cy="362.3" r="1.12" fill="#b5b5b5"/><circle cx="269.4" cy="363.1" r="0.97" fill="#a4a4a4"/><circle cx="271.7" cy="361.9" r="0.98" fill="#b1b1b1"/><circle cx="273.7" cy="362.5" r="1.17" fill="#bdbdbd"/><circle cx="276.1" cy="361.8" r="0.92" fill="#b3b3b3"/><circle cx="278.6" cy="362.7" r="1.04" fill="#a6a6a6"/><circle cx="281.5" cy="362.4" r="0.98" fill="#bcbcbc"/><circle cx="284.5" cy="362.4" r="0.96" fill="#bababa"/><circle cx="286.1" cy="362.3" r="1.19" fill="#a6a6a6"/><circle cx="249.8" cy="364.6" r="1.01" fill="#bcbcbc"/><circle cx="252.5" cy="365.2" r="1.00" fill="#949494"/><circle cx="254.6" cy="365.1" r="0.93" fill="#b0b0b0"/><circle cx="257.7" cy="364.2" r="1.18" fill="#9a9a9a"/><circle cx="260.6" cy="365.3" r="1.13" fill="#a6a6a6"/><circle cx="262.4" cy="364.5" r="1.09" fill="#959595"/><circle cx="264.6" cy="365.3" r="1.12" fill="#939393"/><circle cx="268.2" cy="364.2" r="0.97" fill="#9f9f9f"/><circle cx="270.7" cy="364.8" r="1.08" fill="#c0c0c0"/><circle cx="273.3" cy="364.4" r="0.98" fill="#a5a5a5"/><circle cx="275.0" cy="365.0" r="1.16" fill="#b3b3b3"/><circle cx="277.0" cy="364.1" r="1.17" fill="#c3c3c3"/><circle cx="280.9" cy="364.7" r="1.10" fill="#a4a4a4"/><circle cx="282.8" cy="364.6" r="1.13" fill="#c4c4c4"/><circle cx="284.6" cy="364.8" r="0.91" fill="#969696"/><circle cx="249.4" cy="367.3" r="1.19" fill="#b3b3b3"/><circle cx="250.9" cy="366.5" r="1.00" fill="#929292"/><circle cx="253.6" cy="366.9" r="1.17" fill="#a6a6a6"/><circle cx="256.5" cy="366.8" r="1.00" fill="#bdbdbd"/><circle cx="258.4" cy="366.4" r="0.97" fill="#aaaaaa"/><circle cx="261.1" cy="367.1" r="1.03" fill="#b1b1b1"/><circle cx="263.5" cy="367.4" r="1.15" fill="#a4a4a4"/><circle cx="267.0" cy="366.9" r="1.01" fill="#959595"/><circle cx="269.0" cy="366.4" r="0.95" fill="#bababa"/><circle cx="271.5" cy="366.7" r="0.94" fill="#a4a4a4"/><circle cx="273.4" cy="367.4" r="0.97" fill="#bdbdbd"/><circle cx="276.8" cy="366.6" r="1.04" fill="#a1a1a1"/><circle cx="279.3" cy="367.1" r="1.11" fill="#969696"/><circle cx="281.0" cy="366.9" r="1.13" fill="#acacac"/><circle cx="283.5" cy="366.8" r="0.92" fill="#a4a4a4"/><circle cx="248.2" cy="369.4" r="1.14" fill="#adadad"/><circle cx="250.4" cy="368.8" r="0.99" fill="#bdbdbd"/><circle cx="252.9" cy="369.1" r="0.97" fill="#bbbbbb"/><circle cx="254.9" cy="369.0" r="1.10" fill="#b9b9b9"/><circle cx="257.1" cy="369.6" r="0.92" fill="#b6b6b6"/><circle cx="259.5" cy="369.1" r="1.03" fill="#b4b4b4"/><circle cx="262.8" cy="368.5" r="1.07" fill="#949494"/><circle cx="264.9" cy="369.6" r="1.15" fill="#afafaf"/><circle cx="267.2" cy="368.8" r="1.14" fill="#949494"/><circle cx="269.9" cy="368.4" r="1.11" fill="#b1b1b1"/><circle cx="273.2" cy="368.9" r="0.91" fill="#c1c1c1"/><circle cx="275.4" cy="368.7" r="1.11" fill="#c6c6c6"/><circle cx="277.6" cy="369.4" r="0.92" fill="#bababa"/><circle cx="280.6" cy="368.3" r="1.14" fill="#c2c2c2"/><circle cx="282.7" cy="369.5" r="1.15" fill="#b8b8b8"/><circle cx="248.5" cy="371.4" r="1.12" fill="#c5c5c5"/><circle cx="251.8" cy="370.6" r="1.08" fill="#b2b2b2"/><circle cx="254.3" cy="370.7" r="1.09" fill="#b6b6b6"/><circle cx="256.3" cy="370.7" r="0.91" fill="#bfbfbf"/><circle cx="258.7" cy="371.4" r="1.15" fill="#b0b0b0"/><circle cx="261.2" cy="371.6" r="1.16" fill="#b1b1b1"/><circle cx="263.4" cy="371.0" r="1.09" fill="#9e9e9e"/><circle cx="266.7" cy="371.4" r="1.00" fill="#c2c2c2"/><circle cx="269.4" cy="370.9" r="1.07" fill="#9e9e9e"/><circle cx="271.1" cy="370.8" r="1.18" fill="#949494"/><circle cx="273.7" cy="370.5" r="1.18" fill="#ababab"/><circle cx="277.1" cy="370.7" r="1.03" fill="#bfbfbf"/><circle cx="278.3" cy="370.7" r="0.99" fill="#b2b2b2"/><circle cx="280.8" cy="371.0" r="0.93" fill="#c1c1c1"/><circle cx="248.0" cy="373.0" r="1.09" fill="#9d9d9d"/><circle cx="250.2" cy="372.7" r="1.12" fill="#b5b5b5"/><circle cx="252.3" cy="373.2" r="1.02" fill="#939393"/><circle cx="255.7" cy="373.2" r="0.94" fill="#9a9a9a"/><circle cx="257.7" cy="373.1" r="1.09" fill="#999999"/><circle cx="260.6" cy="373.7" r="1.00" fill="#adadad"/><circle cx="262.8" cy="372.9" r="0.98" fill="#acacac"/><circle cx="265.9" cy="373.9" r="1.03" fill="#a1a1a1"/><circle cx="267.9" cy="373.8" r="1.05" fill="#a8a8a8"/><circle cx="270.3" cy="373.6" r="1.10" fill="#a2a2a2"/><circle cx="272.4" cy="372.8" r="1.12" fill="#a1a1a1"/><circle cx="275.8" cy="372.7" r="1.04" fill="#bdbdbd"/><circle cx="277.1" cy="373.4" r="0.97" fill="#b3b3b3"/><circle cx="249.3" cy="375.5" r="1.17" fill="#adadad"/><circle cx="251.5" cy="375.5" r="1.07" fill="#bdbdbd"/><circle cx="253.4" cy="376.1" r="1.06" fill="#a3a3a3"/><circle cx="256.8" cy="375.4" r="0.95" fill="#9a9a9a"/><circle cx="259.1" cy="375.1" r="1.18" fill="#979797"/><circle cx="262.0" cy="375.6" r="0.98" fill="#b8b8b8"/><circle cx="263.5" cy="375.3" r="1.00" fill="#9a9a9a"/><circle cx="265.8" cy="376.1" r="1.09" fill="#b0b0b0"/><circle cx="268.4" cy="375.3" r="1.11" fill="#c6c6c6"/><circle cx="271.7" cy="375.6" r="1.12" fill="#9c9c9c"/><circle cx="274.1" cy="376.0" r="1.04" fill="#adadad"/><circle cx="276.5" cy="375.1" r="1.11" fill="#aeaeae"/><circle cx="250.8" cy="378.3" r="0.91" fill="#a8a8a8"/><circle cx="252.9" cy="377.2" r="1.10" fill="#afafaf"/><circle cx="255.6" cy="377.0" r="0.93" fill="#a7a7a7"/><circle cx="258.3" cy="377.9" r="0.99" fill="#9b9b9b"/><circle cx="260.8" cy="377.8" r="0.99" fill="#a3a3a3"/><circle cx="263.3" cy="377.7" r="1.00" fill="#b0b0b0"/><circle cx="265.9" cy="378.2" r="1.00" fill="#b3b3b3"/><circle cx="267.1" cy="377.7" r="1.01" fill="#bebebe"/><circle cx="270.4" cy="378.3" r="1.18" fill="#9a9a9a"/><circle cx="272.9" cy="377.7" r="0.93" fill="#b3b3b3"/><circle cx="275.2" cy="377.5" r="1.05" fill="#959595"/><circle cx="254.5" cy="379.4" r="1.01" fill="#c3c3c3"/><circle cx="256.8" cy="379.6" r="0.99" fill="#b7b7b7"/><circle cx="258.6" cy="379.8" r="1.07" fill="#a0a0a0"/><circle cx="261.7" cy="379.2" r="1.00" fill="#bbbbbb"/><circle cx="263.6" cy="380.4" r="0.99" fill="#9e9e9e"/><circle cx="266.5" cy="379.3" r="1.02" fill="#9c9c9c"/><circle cx="269.1" cy="379.4" r="0.92" fill="#c3c3c3"/><circle cx="271.5" cy="380.0" r="1.01" fill="#acacac"/><circle cx="252.6" cy="381.7" r="0.93" fill="#b5b5b5"/><circle cx="254.7" cy="381.4" r="1.06" fill="#bcbcbc"/><circle cx="257.3" cy="382.0" r="1.00" fill="#9f9f9f"/><circle cx="260.0" cy="381.3" r="1.14" fill="#adadad"/><circle cx="262.2" cy="381.9" r="1.01" fill="#a6a6a6"/><circle cx="265.9" cy="382.5" r="1.14" fill="#a5a5a5"/></g>
<g><circle cx="234.0" cy="330.4" r="1.17" fill="#dbdbdb"/><circle cx="237.2" cy="331.0" r="1.28" fill="#d5d5d5"/><circle cx="239.4" cy="331.0" r="1.26" fill="#e7e7e7"/><circle cx="233.0" cy="333.4" r="1.19" fill="#e5e5e5"/><circle cx="237.9" cy="333.4" r="1.26" fill="#d7d7d7"/><circle cx="228.7" cy="335.8" r="1.13" fill="#d0d0d0"/><circle cx="231.1" cy="335.3" r="1.19" fill="#d5d5d5"/><circle cx="233.6" cy="335.7" r="1.28" fill="#ececec"/><circle cx="236.2" cy="334.8" r="1.07" fill="#ececec"/><circle cx="239.6" cy="334.6" r="1.29" fill="#e8e8e8"/><circle cx="227.3" cy="336.9" r="1.34" fill="#dfdfdf"/><circle cx="230.0" cy="336.9" r="1.18" fill="#d6d6d6"/><circle cx="232.3" cy="338.0" r="1.12" fill="#e4e4e4"/><circle cx="235.0" cy="338.0" r="1.34" fill="#e7e7e7"/><circle cx="238.3" cy="338.1" r="1.30" fill="#d6d6d6"/><circle cx="240.9" cy="337.2" r="1.08" fill="#d2d2d2"/><circle cx="243.6" cy="338.0" r="1.13" fill="#eaeaea"/><circle cx="246.6" cy="338.1" r="1.07" fill="#d6d6d6"/><circle cx="226.0" cy="340.5" r="1.18" fill="#d2d2d2"/><circle cx="228.7" cy="339.9" r="1.16" fill="#d7d7d7"/><circle cx="231.6" cy="340.5" r="1.08" fill="#e7e7e7"/><circle cx="233.2" cy="340.4" r="1.20" fill="#dfdfdf"/><circle cx="236.8" cy="340.2" r="1.11" fill="#d6d6d6"/><circle cx="239.0" cy="339.7" r="1.30" fill="#e1e1e1"/><circle cx="241.6" cy="339.2" r="1.21" fill="#e0e0e0"/><circle cx="245.3" cy="340.2" r="1.33" fill="#d1d1d1"/><circle cx="247.5" cy="339.8" r="1.30" fill="#d1d1d1"/><circle cx="224.1" cy="342.9" r="1.19" fill="#dcdcdc"/><circle cx="227.5" cy="342.3" r="1.15" fill="#d0d0d0"/><circle cx="230.3" cy="342.4" r="1.06" fill="#d5d5d5"/><circle cx="232.0" cy="342.9" r="1.31" fill="#e3e3e3"/><circle cx="235.6" cy="343.0" r="1.12" fill="#e9e9e9"/><circle cx="238.4" cy="342.2" r="1.30" fill="#dedede"/><circle cx="240.8" cy="341.8" r="1.21" fill="#e3e3e3"/><circle cx="243.0" cy="342.3" r="1.19" fill="#dbdbdb"/><circle cx="246.8" cy="342.4" r="1.11" fill="#d5d5d5"/><circle cx="249.2" cy="342.7" r="1.33" fill="#dddddd"/><circle cx="226.0" cy="344.3" r="1.15" fill="#dfdfdf"/><circle cx="227.9" cy="344.9" r="1.30" fill="#e3e3e3"/><circle cx="231.0" cy="344.5" r="1.24" fill="#e3e3e3"/><circle cx="233.6" cy="345.2" r="1.31" fill="#d8d8d8"/><circle cx="237.2" cy="345.3" r="1.26" fill="#e0e0e0"/><circle cx="239.6" cy="344.5" r="1.06" fill="#d3d3d3"/><circle cx="242.4" cy="345.3" r="1.21" fill="#dfdfdf"/><circle cx="245.2" cy="345.1" r="1.23" fill="#d3d3d3"/><circle cx="247.2" cy="345.1" r="1.33" fill="#d7d7d7"/><circle cx="250.5" cy="345.2" r="1.23" fill="#e2e2e2"/><circle cx="223.9" cy="347.1" r="1.29" fill="#d4d4d4"/><circle cx="227.6" cy="346.5" r="1.30" fill="#e2e2e2"/><circle cx="229.7" cy="347.6" r="1.14" fill="#d7d7d7"/><circle cx="232.5" cy="346.4" r="1.20" fill="#e9e9e9"/><circle cx="235.1" cy="346.7" r="1.11" fill="#d7d7d7"/><circle cx="237.3" cy="347.4" r="1.30" fill="#d2d2d2"/><circle cx="241.0" cy="347.5" r="1.27" fill="#d7d7d7"/><circle cx="243.7" cy="347.3" r="1.35" fill="#e6e6e6"/><circle cx="246.0" cy="347.1" r="1.23" fill="#dcdcdc"/><circle cx="249.5" cy="347.3" r="1.27" fill="#dfdfdf"/><circle cx="251.4" cy="346.5" r="1.11" fill="#e8e8e8"/><circle cx="223.2" cy="349.6" r="1.32" fill="#d0d0d0"/><circle cx="225.2" cy="349.8" r="1.12" fill="#d5d5d5"/><circle cx="228.3" cy="348.9" r="1.06" fill="#e9e9e9"/><circle cx="230.5" cy="349.8" r="1.13" fill="#e2e2e2"/><circle cx="233.4" cy="349.0" r="1.28" fill="#dedede"/><circle cx="237.1" cy="349.9" r="1.16" fill="#d8d8d8"/><circle cx="239.8" cy="349.0" r="1.11" fill="#dcdcdc"/><circle cx="242.3" cy="349.9" r="1.21" fill="#dadada"/><circle cx="244.8" cy="349.7" r="1.17" fill="#e0e0e0"/><circle cx="247.7" cy="349.9" r="1.29" fill="#d6d6d6"/><circle cx="250.0" cy="349.3" r="1.20" fill="#ececec"/><circle cx="253.0" cy="349.7" r="1.11" fill="#d7d7d7"/><circle cx="224.5" cy="352.5" r="1.34" fill="#d9d9d9"/><circle cx="227.6" cy="351.6" r="1.19" fill="#e1e1e1"/><circle cx="229.9" cy="352.5" r="1.06" fill="#dcdcdc"/><circle cx="231.8" cy="351.3" r="1.31" fill="#ececec"/><circle cx="235.2" cy="352.0" r="1.32" fill="#e0e0e0"/><circle cx="238.6" cy="351.5" r="1.33" fill="#d3d3d3"/><circle cx="240.6" cy="351.2" r="1.16" fill="#dfdfdf"/><circle cx="243.8" cy="351.3" r="1.17" fill="#dcdcdc"/><circle cx="246.0" cy="351.9" r="1.32" fill="#dfdfdf"/><circle cx="248.7" cy="352.5" r="1.24" fill="#ebebeb"/><circle cx="252.4" cy="352.2" r="1.06" fill="#eaeaea"/><circle cx="222.7" cy="354.7" r="1.08" fill="#d1d1d1"/><circle cx="225.5" cy="353.5" r="1.22" fill="#dbdbdb"/><circle cx="228.7" cy="354.7" r="1.27" fill="#e9e9e9"/><circle cx="230.7" cy="354.9" r="1.21" fill="#d5d5d5"/><circle cx="234.3" cy="353.8" r="1.20" fill="#e1e1e1"/><circle cx="237.1" cy="354.1" r="1.26" fill="#d8d8d8"/><circle cx="239.8" cy="354.1" r="1.09" fill="#d0d0d0"/><circle cx="242.2" cy="354.6" r="1.14" fill="#d7d7d7"/><circle cx="244.2" cy="354.5" r="1.28" fill="#d5d5d5"/><circle cx="247.1" cy="353.5" r="1.10" fill="#dfdfdf"/><circle cx="250.9" cy="354.9" r="1.05" fill="#e4e4e4"/><circle cx="253.3" cy="353.7" r="1.19" fill="#e0e0e0"/><circle cx="224.3" cy="356.1" r="1.22" fill="#d8d8d8"/><circle cx="226.8" cy="356.4" r="1.12" fill="#e7e7e7"/><circle cx="229.6" cy="357.1" r="1.22" fill="#d4d4d4"/><circle cx="233.1" cy="357.2" r="1.14" fill="#dddddd"/><circle cx="235.9" cy="356.7" r="1.25" fill="#e0e0e0"/><circle cx="238.0" cy="356.7" r="1.13" fill="#d1d1d1"/><circle cx="241.0" cy="356.9" r="1.33" fill="#d1d1d1"/><circle cx="243.7" cy="356.3" r="1.22" fill="#d9d9d9"/><circle cx="246.8" cy="355.9" r="1.26" fill="#dfdfdf"/><circle cx="249.6" cy="356.8" r="1.18" fill="#dcdcdc"/><circle cx="251.4" cy="355.9" r="1.14" fill="#ebebeb"/><circle cx="223.0" cy="359.5" r="1.11" fill="#d2d2d2"/><circle cx="225.1" cy="359.1" r="1.06" fill="#e1e1e1"/><circle cx="229.1" cy="358.9" r="1.21" fill="#dfdfdf"/><circle cx="230.5" cy="358.4" r="1.19" fill="#dadada"/><circle cx="234.4" cy="359.6" r="1.28" fill="#e0e0e0"/><circle cx="236.1" cy="359.3" r="1.16" fill="#e5e5e5"/><circle cx="239.2" cy="359.4" r="1.09" fill="#dadada"/><circle cx="242.0" cy="358.7" r="1.21" fill="#d8d8d8"/><circle cx="245.1" cy="358.5" r="1.07" fill="#e1e1e1"/><circle cx="247.2" cy="358.9" r="1.28" fill="#e8e8e8"/><circle cx="250.6" cy="359.1" r="1.22" fill="#e0e0e0"/><circle cx="252.5" cy="359.2" r="1.10" fill="#eaeaea"/><circle cx="224.7" cy="361.3" r="1.33" fill="#d9d9d9"/><circle cx="227.3" cy="361.5" r="1.22" fill="#ebebeb"/><circle cx="230.1" cy="361.4" r="1.16" fill="#dadada"/><circle cx="231.8" cy="361.5" r="1.08" fill="#dfdfdf"/><circle cx="234.9" cy="361.6" r="1.13" fill="#e0e0e0"/><circle cx="238.0" cy="361.7" r="1.16" fill="#ebebeb"/><circle cx="240.7" cy="361.7" r="1.20" fill="#e8e8e8"/><circle cx="243.7" cy="360.8" r="1.11" fill="#dddddd"/><circle cx="246.2" cy="361.1" r="1.14" fill="#d0d0d0"/><circle cx="248.4" cy="361.5" r="1.23" fill="#d0d0d0"/><circle cx="225.2" cy="363.8" r="1.10" fill="#d5d5d5"/><circle cx="227.7" cy="364.0" r="1.17" fill="#d8d8d8"/><circle cx="230.8" cy="364.0" r="1.14" fill="#e7e7e7"/><circle cx="234.4" cy="364.4" r="1.35" fill="#d5d5d5"/><circle cx="236.8" cy="363.9" r="1.18" fill="#d2d2d2"/><circle cx="239.2" cy="364.4" r="1.20" fill="#d3d3d3"/><circle cx="242.6" cy="364.4" r="1.19" fill="#eaeaea"/><circle cx="244.7" cy="364.0" r="1.16" fill="#ebebeb"/><circle cx="247.0" cy="364.1" r="1.32" fill="#dcdcdc"/><circle cx="223.8" cy="366.6" r="1.25" fill="#dddddd"/><circle cx="226.4" cy="365.8" r="1.07" fill="#dadada"/><circle cx="229.5" cy="365.4" r="1.33" fill="#dddddd"/><circle cx="231.9" cy="365.8" r="1.09" fill="#dedede"/><circle cx="235.5" cy="366.5" r="1.11" fill="#dedede"/><circle cx="237.7" cy="366.5" r="1.34" fill="#e1e1e1"/><circle cx="240.3" cy="365.5" r="1.08" fill="#ebebeb"/><circle cx="243.5" cy="365.7" r="1.12" fill="#d8d8d8"/><circle cx="245.9" cy="366.3" r="1.32" fill="#dadada"/><circle cx="226.2" cy="369.0" r="1.12" fill="#dedede"/><circle cx="228.1" cy="368.6" r="1.05" fill="#e0e0e0"/><circle cx="231.4" cy="369.1" r="1.09" fill="#dedede"/><circle cx="233.7" cy="369.2" r="1.26" fill="#d3d3d3"/><circle cx="236.0" cy="368.8" r="1.07" fill="#d2d2d2"/><circle cx="238.8" cy="368.2" r="1.24" fill="#e0e0e0"/><circle cx="242.1" cy="368.6" r="1.32" fill="#d5d5d5"/><circle cx="244.3" cy="368.7" r="1.13" fill="#dddddd"/><circle cx="247.7" cy="367.9" r="1.27" fill="#eaeaea"/><circle cx="226.4" cy="371.1" r="1.25" fill="#dbdbdb"/><circle cx="230.1" cy="370.6" r="1.33" fill="#d1d1d1"/><circle cx="231.8" cy="370.5" r="1.12" fill="#d3d3d3"/><circle cx="235.2" cy="371.0" r="1.12" fill="#d3d3d3"/><circle cx="238.3" cy="370.7" r="1.16" fill="#d2d2d2"/><circle cx="240.6" cy="370.6" r="1.05" fill="#dddddd"/><circle cx="243.8" cy="371.1" r="1.25" fill="#dadada"/><circle cx="246.2" cy="370.3" r="1.12" fill="#dadada"/><circle cx="228.3" cy="373.4" r="1.34" fill="#d1d1d1"/><circle cx="231.1" cy="373.6" r="1.21" fill="#d3d3d3"/><circle cx="233.8" cy="373.8" r="1.27" fill="#ececec"/><circle cx="236.9" cy="372.6" r="1.28" fill="#ebebeb"/><circle cx="240.0" cy="373.1" r="1.17" fill="#d6d6d6"/><circle cx="242.6" cy="373.3" r="1.29" fill="#e8e8e8"/><circle cx="245.3" cy="373.1" r="1.11" fill="#d3d3d3"/><circle cx="248.1" cy="373.4" r="1.24" fill="#d2d2d2"/><circle cx="227.2" cy="375.0" r="1.25" fill="#e6e6e6"/><circle cx="229.4" cy="376.3" r="1.34" fill="#d5d5d5"/><circle cx="232.2" cy="375.9" r="1.26" fill="#d3d3d3"/><circle cx="234.9" cy="376.1" r="1.33" fill="#eaeaea"/><circle cx="237.5" cy="375.6" r="1.22" fill="#e6e6e6"/><circle cx="241.3" cy="375.8" r="1.26" fill="#d1d1d1"/><circle cx="243.1" cy="376.0" r="1.31" fill="#e9e9e9"/><circle cx="246.0" cy="375.6" r="1.07" fill="#d4d4d4"/><circle cx="249.3" cy="376.3" r="1.35" fill="#d7d7d7"/><circle cx="230.8" cy="377.4" r="1.28" fill="#dcdcdc"/><circle cx="234.2" cy="377.7" r="1.21" fill="#dedede"/><circle cx="236.2" cy="378.5" r="1.16" fill="#dbdbdb"/><circle cx="239.1" cy="377.3" r="1.08" fill="#e3e3e3"/><circle cx="241.6" cy="378.3" r="1.30" fill="#dfdfdf"/><circle cx="244.2" cy="378.5" r="1.16" fill="#e8e8e8"/><circle cx="247.9" cy="377.6" r="1.14" fill="#e0e0e0"/><circle cx="232.1" cy="380.6" r="1.34" fill="#d0d0d0"/><circle cx="235.0" cy="379.8" r="1.09" fill="#eaeaea"/><circle cx="237.6" cy="380.7" r="1.08" fill="#dedede"/><circle cx="241.3" cy="380.7" r="1.31" fill="#d5d5d5"/><circle cx="244.1" cy="380.2" r="1.06" fill="#ebebeb"/><circle cx="240.1" cy="382.5" r="1.07" fill="#e9e9e9"/></g>
<g><circle cx="240.2" cy="336.9" r="1.1" fill="#dfdfdf"/><circle cx="235.0" cy="330.5" r="1.0" fill="#cccccc"/><circle cx="237.0" cy="329.1" r="1.1" fill="#d1d1d1"/><circle cx="237.8" cy="321.7" r="1.2" fill="#d0d0d0"/><circle cx="243.1" cy="338.0" r="1.2" fill="#cecece"/><circle cx="239.7" cy="326.7" r="0.9" fill="#d3d3d3"/><circle cx="242.2" cy="329.4" r="0.9" fill="#cecece"/><circle cx="239.4" cy="334.4" r="1.0" fill="#d5d5d5"/><circle cx="241.1" cy="327.8" r="1.0" fill="#d1d1d1"/><circle cx="238.7" cy="334.8" r="0.9" fill="#e0e0e0"/><circle cx="233.1" cy="335.6" r="1.2" fill="#dfdfdf"/><circle cx="242.1" cy="333.6" r="1.1" fill="#cbcbcb"/><circle cx="241.9" cy="321.6" r="1.1" fill="#e1e1e1"/><circle cx="241.8" cy="326.2" r="1.1" fill="#d1d1d1"/></g>
</g></g>
<text x="216.3" y="320.1" font-size="10.0" fill="#ececec">C<tspan font-size="6.2" dy="0.2">4</tspan></text>
<g clip-path="url(#cp51)"><g filter="url(#b7)">
<rect x="296.2" y="305.0" width="88.60000000000002" height="88.89999999999998" fill="#2e2e2e"/>
<rect x="298.2" y="307.0" width="84.60000000000002" height="84.89999999999998" fill="url(#vg52)"/>
<circle cx="320.1" cy="351.9" r="21.4" fill="#2a2a26"/>
<circle cx="320.1" cy="351.9" r="20.65" fill="none" stroke="#6a6e66" stroke-opacity="0.45" stroke-width="1.05"/>
<circle cx="320.1" cy="351.9" r="20.9" fill="none" stroke="#a9a37c" stroke-width="1.1"/>
<circle cx="320.1" cy="351.9" r="19.9" fill="#111111"/>
<circle cx="320.1" cy="351.9" r="19.9" fill="none" stroke="#a9a37c" stroke-width="0.5" stroke-opacity="0.5"/>
<g><circle cx="314.3" cy="341.3" r="0.95" fill="#efefef"/><circle cx="315.9" cy="342.2" r="1.10" fill="#d4d4d4"/><circle cx="321.1" cy="341.8" r="1.08" fill="#e2e2e2"/><circle cx="323.5" cy="342.1" r="0.97" fill="#e4e4e4"/><circle cx="310.9" cy="343.5" r="1.06" fill="#ededed"/><circle cx="312.5" cy="343.4" r="1.04" fill="#d0d0d0"/><circle cx="315.1" cy="344.2" r="1.03" fill="#d7d7d7"/><circle cx="316.8" cy="343.5" r="1.11" fill="#e6e6e6"/><circle cx="320.0" cy="344.3" r="1.06" fill="#e0e0e0"/><circle cx="321.6" cy="344.6" r="1.09" fill="#d5d5d5"/><circle cx="324.6" cy="344.1" r="0.94" fill="#eeeeee"/><circle cx="326.4" cy="344.6" r="0.99" fill="#f0f0f0"/><circle cx="328.9" cy="343.6" r="0.88" fill="#e5e5e5"/><circle cx="308.9" cy="345.3" r="1.01" fill="#dbdbdb"/><circle cx="312.2" cy="346.1" r="0.94" fill="#e4e4e4"/><circle cx="314.1" cy="345.7" r="0.88" fill="#d7d7d7"/><circle cx="316.4" cy="345.7" r="1.10" fill="#ededed"/><circle cx="319.0" cy="345.5" r="1.11" fill="#e4e4e4"/><circle cx="321.1" cy="345.6" r="1.11" fill="#e9e9e9"/><circle cx="322.8" cy="346.7" r="1.14" fill="#dadada"/><circle cx="325.3" cy="346.2" r="1.10" fill="#e4e4e4"/><circle cx="327.9" cy="346.2" r="1.06" fill="#d2d2d2"/><circle cx="329.9" cy="345.5" r="1.14" fill="#d0d0d0"/><circle cx="307.6" cy="347.6" r="1.05" fill="#d2d2d2"/><circle cx="310.9" cy="348.6" r="0.96" fill="#dcdcdc"/><circle cx="312.0" cy="347.6" r="1.07" fill="#e7e7e7"/><circle cx="315.4" cy="347.6" r="0.91" fill="#d9d9d9"/><circle cx="317.0" cy="348.6" r="1.06" fill="#dddddd"/><circle cx="319.7" cy="348.3" r="0.95" fill="#ededed"/><circle cx="321.3" cy="347.5" r="0.92" fill="#ebebeb"/><circle cx="324.3" cy="347.9" r="1.03" fill="#e3e3e3"/><circle cx="326.2" cy="348.3" r="1.06" fill="#dadada"/><circle cx="328.4" cy="347.4" r="1.03" fill="#ececec"/><circle cx="331.5" cy="348.3" r="0.88" fill="#e4e4e4"/><circle cx="306.5" cy="349.7" r="1.15" fill="#e5e5e5"/><circle cx="309.8" cy="350.5" r="0.85" fill="#ececec"/><circle cx="311.2" cy="350.6" r="0.91" fill="#e8e8e8"/><circle cx="313.5" cy="349.4" r="0.96" fill="#ebebeb"/><circle cx="316.1" cy="349.4" r="1.11" fill="#d1d1d1"/><circle cx="317.8" cy="349.8" r="0.99" fill="#d4d4d4"/><circle cx="321.0" cy="349.4" r="0.97" fill="#efefef"/><circle cx="323.5" cy="349.6" r="0.94" fill="#d0d0d0"/><circle cx="325.6" cy="349.4" r="1.09" fill="#e3e3e3"/><circle cx="328.3" cy="350.2" r="0.88" fill="#d1d1d1"/><circle cx="330.6" cy="350.0" r="0.86" fill="#e3e3e3"/><circle cx="332.3" cy="349.3" r="1.03" fill="#eaeaea"/><circle cx="305.8" cy="351.6" r="1.06" fill="#e8e8e8"/><circle cx="307.7" cy="352.5" r="1.03" fill="#f0f0f0"/><circle cx="309.8" cy="352.3" r="1.09" fill="#e9e9e9"/><circle cx="312.3" cy="352.5" r="0.99" fill="#d2d2d2"/><circle cx="314.4" cy="351.6" r="1.12" fill="#e5e5e5"/><circle cx="317.6" cy="352.4" r="1.06" fill="#ededed"/><circle cx="319.9" cy="352.5" r="1.05" fill="#e9e9e9"/><circle cx="322.5" cy="351.8" r="1.03" fill="#d2d2d2"/><circle cx="324.2" cy="352.1" r="1.02" fill="#d1d1d1"/><circle cx="327.1" cy="352.5" r="0.95" fill="#dfdfdf"/><circle cx="329.0" cy="352.1" r="1.01" fill="#e8e8e8"/><circle cx="331.6" cy="351.5" r="0.88" fill="#d7d7d7"/><circle cx="333.7" cy="352.5" r="0.87" fill="#e7e7e7"/><circle cx="307.0" cy="353.4" r="1.13" fill="#dadada"/><circle cx="309.8" cy="354.4" r="1.06" fill="#f0f0f0"/><circle cx="312.0" cy="354.5" r="1.00" fill="#dbdbdb"/><circle cx="313.5" cy="354.6" r="1.10" fill="#f0f0f0"/><circle cx="316.1" cy="354.5" r="0.88" fill="#d2d2d2"/><circle cx="319.1" cy="354.1" r="0.87" fill="#dadada"/><circle cx="320.1" cy="354.0" r="0.96" fill="#d6d6d6"/><circle cx="323.2" cy="353.4" r="1.13" fill="#e0e0e0"/><circle cx="325.7" cy="354.1" r="1.14" fill="#e4e4e4"/><circle cx="327.1" cy="354.0" r="0.91" fill="#d0d0d0"/><circle cx="330.6" cy="354.5" r="1.09" fill="#ececec"/><circle cx="308.2" cy="356.5" r="0.87" fill="#ededed"/><circle cx="310.9" cy="356.6" r="1.10" fill="#ededed"/><circle cx="313.1" cy="356.3" r="0.86" fill="#eaeaea"/><circle cx="315.5" cy="356.1" r="1.13" fill="#e9e9e9"/><circle cx="317.6" cy="355.4" r="1.11" fill="#d9d9d9"/><circle cx="319.6" cy="355.4" r="0.97" fill="#ececec"/><circle cx="322.4" cy="355.5" r="0.97" fill="#e7e7e7"/><circle cx="324.0" cy="356.0" r="1.11" fill="#d9d9d9"/><circle cx="326.4" cy="356.0" r="1.00" fill="#dadada"/><circle cx="329.3" cy="356.5" r="1.00" fill="#efefef"/><circle cx="309.9" cy="358.5" r="1.08" fill="#d2d2d2"/><circle cx="311.3" cy="358.3" r="1.02" fill="#f0f0f0"/><circle cx="313.4" cy="358.2" r="0.90" fill="#d0d0d0"/><circle cx="316.6" cy="357.4" r="0.97" fill="#e1e1e1"/><circle cx="318.2" cy="357.9" r="0.92" fill="#e9e9e9"/><circle cx="321.0" cy="358.2" r="0.91" fill="#d9d9d9"/><circle cx="322.7" cy="358.6" r="0.98" fill="#d4d4d4"/><circle cx="325.8" cy="358.6" r="1.09" fill="#ededed"/><circle cx="327.2" cy="357.4" r="0.97" fill="#d1d1d1"/><circle cx="329.9" cy="358.3" r="1.05" fill="#dfdfdf"/><circle cx="312.9" cy="359.2" r="1.03" fill="#d5d5d5"/><circle cx="314.4" cy="359.6" r="1.00" fill="#e7e7e7"/><circle cx="317.1" cy="359.8" r="1.04" fill="#ededed"/><circle cx="319.2" cy="360.4" r="1.06" fill="#d2d2d2"/><circle cx="322.3" cy="360.0" r="1.14" fill="#e0e0e0"/><circle cx="324.6" cy="360.2" r="1.02" fill="#e7e7e7"/><circle cx="326.4" cy="359.4" r="1.03" fill="#e8e8e8"/><circle cx="328.7" cy="359.6" r="1.14" fill="#d1d1d1"/><circle cx="312.1" cy="361.8" r="1.05" fill="#d3d3d3"/><circle cx="316.2" cy="361.6" r="0.86" fill="#d0d0d0"/><circle cx="318.1" cy="362.3" r="1.06" fill="#d1d1d1"/><circle cx="321.3" cy="361.5" r="1.05" fill="#dfdfdf"/><circle cx="323.4" cy="362.2" r="0.99" fill="#d7d7d7"/><circle cx="317.9" cy="363.6" r="0.94" fill="#d8d8d8"/></g>
<g><circle cx="336.4" cy="347.7" r="0.6" fill="#c2c2c2"/><circle cx="326.5" cy="352.2" r="0.8" fill="#b5b5b5"/><circle cx="325.6" cy="356.1" r="0.7" fill="#b8b8b8"/><circle cx="313.2" cy="364.6" r="0.7" fill="#c0c0c0"/><circle cx="312.2" cy="358.4" r="0.6" fill="#dbdbdb"/><circle cx="319.0" cy="355.4" r="0.7" fill="#d0d0d0"/><circle cx="319.7" cy="359.5" r="0.5" fill="#d8d8d8"/><circle cx="335.6" cy="355.7" r="0.7" fill="#bbbbbb"/><circle cx="319.9" cy="363.5" r="0.6" fill="#b8b8b8"/><circle cx="328.1" cy="351.5" r="0.5" fill="#bababa"/><circle cx="312.1" cy="337.9" r="0.6" fill="#d7d7d7"/><circle cx="325.8" cy="358.1" r="0.6" fill="#bdbdbd"/><circle cx="316.5" cy="351.4" r="0.5" fill="#cccccc"/><circle cx="312.0" cy="353.9" r="0.5" fill="#d0d0d0"/><circle cx="321.1" cy="353.4" r="0.5" fill="#c3c3c3"/><circle cx="306.8" cy="354.3" r="0.7" fill="#cecece"/><circle cx="307.5" cy="348.0" r="0.6" fill="#cfcfcf"/><circle cx="328.3" cy="339.4" r="0.7" fill="#d3d3d3"/><circle cx="304.8" cy="349.7" r="0.7" fill="#d9d9d9"/><circle cx="320.0" cy="354.6" r="0.8" fill="#d3d3d3"/><circle cx="325.7" cy="357.5" r="0.7" fill="#c3c3c3"/><circle cx="325.5" cy="338.9" r="0.5" fill="#c7c7c7"/><circle cx="322.3" cy="344.9" r="0.8" fill="#b8b8b8"/><circle cx="335.0" cy="353.0" r="0.8" fill="#c1c1c1"/><circle cx="309.9" cy="360.4" r="0.5" fill="#c3c3c3"/><circle cx="322.2" cy="360.3" r="0.7" fill="#c3c3c3"/><circle cx="314.2" cy="337.6" r="0.5" fill="#dcdcdc"/><circle cx="311.5" cy="351.6" r="0.8" fill="#d5d5d5"/><circle cx="305.1" cy="353.8" r="0.5" fill="#b4b4b4"/><circle cx="330.2" cy="342.9" r="0.6" fill="#cdcdcd"/></g>
<circle cx="362.2" cy="353.9" r="19.3" fill="#2c2a24"/>
<circle cx="362.2" cy="353.9" r="18.55" fill="none" stroke="#6a6e66" stroke-opacity="0.45" stroke-width="1.05"/>
<circle cx="362.2" cy="353.9" r="18.8" fill="none" stroke="#a9a37c" stroke-width="1.1"/>
<circle cx="362.2" cy="353.9" r="17.8" fill="#262626"/>
<circle cx="362.2" cy="353.9" r="17.8" fill="none" stroke="#a9a37c" stroke-width="0.5" stroke-opacity="0.5"/>
<g mask="url(#mk54)" opacity="1.0"><rect x="298.2" y="307.0" width="84.60000000000002" height="84.89999999999998" filter="url(#tx53)"/></g>
</g></g>
<text x="320.8" y="327.6" font-size="9.2" fill="#f0f0f0" text-anchor="middle">PET</text>
<text x="361.8" y="327.6" font-size="9.2" fill="#f0f0f0" text-anchor="middle">BPA</text>
<g clip-path="url(#cp55)"><g filter="url(#b7)">
<rect x="383.0" y="305.0" width="88.89999999999998" height="88.89999999999998" fill="#3a3a3a"/>
<rect x="385.0" y="307.0" width="84.89999999999998" height="84.89999999999998" fill="url(#vg56)"/>
<circle cx="426.8" cy="351.2" r="35.1" fill="#333331"/>
<circle cx="426.8" cy="351.2" r="33.60" fill="none" stroke="#6a6e66" stroke-opacity="0.45" stroke-width="2.10"/>
<circle cx="426.8" cy="351.2" r="34.6" fill="none" stroke="#9a9a92" stroke-width="1.2"/>
<circle cx="426.8" cy="351.2" r="32.1" fill="#1c1c1c"/>
<circle cx="426.8" cy="351.2" r="32.1" fill="none" stroke="#9a9a92" stroke-width="0.5" stroke-opacity="0.5"/>
<g mask="url(#mk58)" opacity="1.0"><rect x="385.0" y="307.0" width="84.89999999999998" height="84.89999999999998" filter="url(#tx57)"/></g>
<g mask="url(#mk61)" opacity="1.0"><rect x="385.0" y="307.0" width="84.89999999999998" height="84.89999999999998" filter="url(#tx60)"/></g>
</g></g>
<g clip-path="url(#cp63)"><g filter="url(#b7)">
<rect x="209.5" y="425.4" width="89.10000000000002" height="88.60000000000002" fill="#0f0f0f"/>
<rect x="230" y="436" width="66.60000000000002" height="6" fill="#4a4a4a" opacity="0.9" filter="url(#b64)"/>
<ellipse cx="272" cy="439" rx="26" ry="2.5" fill="#8a8a8a" opacity="0.7" filter="url(#b65)"/>
<rect x="211.5" y="496" width="85.10000000000002" height="16.0" fill="#2c2c2c" filter="url(#b65)"/>
<rect x="214.8" y="455.5" width="45" height="37" rx="5" fill="#2e2e2e" stroke="#8a8a8a" stroke-width="1.1"/>
<rect x="218.5" y="459" width="37.5" height="30" rx="3" fill="#262626" stroke="#6e6e6e" stroke-width="0.8"/>
<path d="M222 469H253M222 479H253M231 460V488M240 460V488M248 460V488" stroke="#5a5a5a" stroke-width="1"/>
<path d="M220 461h34M219 489h36" stroke="#9a9a9a" stroke-width="0.7" stroke-dasharray="2 1.5"/>
<rect x="214" y="491" width="46" height="4" rx="2" fill="#3a3a3a"/>
<path d="M259 448L291.5 446.5L296 497.5L262 500Z" fill="#e6eaee"/>
<path d="M259 448L291.5 446.5L292 452L260 453.5Z" fill="#f2f4f6"/>
<path d="M262 456L289 455L292.5 494L264.5 496Z" fill="#dde2e6"/>
<path d="M268 482L273 473L278 482Z M281 477h5" fill="none" stroke="#aab0b6" stroke-width="0.8"/>
</g></g>
<text x="217.8" y="440.1" font-size="10.0" fill="#ececec">C<tspan font-size="6.2" dy="0.2">5</tspan></text>
<g clip-path="url(#cp66)"><g filter="url(#b7)">
<rect x="296.2" y="425.4" width="88.60000000000002" height="88.60000000000002" fill="#2f2f2f"/>
<rect x="298.2" y="427.4" width="84.60000000000002" height="84.60000000000002" fill="url(#vg67)"/>
<circle cx="318.7" cy="471.9" r="18.6" fill="#262626"/>
<circle cx="318.7" cy="471.9" r="17.85" fill="none" stroke="#6a6e66" stroke-opacity="0.45" stroke-width="1.05"/>
<circle cx="318.7" cy="471.9" r="18.1" fill="none" stroke="#9a9f92" stroke-width="1.2"/>
<circle cx="318.7" cy="471.9" r="17.1" fill="#181818"/>
<circle cx="318.7" cy="471.9" r="17.1" fill="none" stroke="#9a9f92" stroke-width="0.5" stroke-opacity="0.5"/>
<rect x="312.5" y="457.5" width="15" height="8" fill="#e4e4e4" transform="rotate(5 320.0 461.5)"/>
<rect x="304.5" y="468" width="8" height="8" fill="#e4e4e4" transform="rotate(-25 308.5 472.0)"/>
<rect x="313" y="468.5" width="13" height="8" fill="#e4e4e4" transform="rotate(12 319.5 472.5)"/>
<rect x="322.5" y="472" width="7" height="11" fill="#e4e4e4" transform="rotate(22 326.0 477.5)"/>
<rect x="313.5" y="478.5" width="9" height="7" fill="#e4e4e4" transform="rotate(8 318.0 482.0)"/>
<circle cx="359.4" cy="472.5" r="20.7" fill="#2e2e2e"/>
<circle cx="359.4" cy="472.5" r="19.95" fill="none" stroke="#6a6e66" stroke-opacity="0.45" stroke-width="1.05"/>
<circle cx="359.4" cy="472.5" r="20.2" fill="none" stroke="#959a8c" stroke-width="1.2"/>
<circle cx="359.4" cy="472.5" r="19.2" fill="#222"/>
<circle cx="359.4" cy="472.5" r="19.2" fill="none" stroke="#959a8c" stroke-width="0.5" stroke-opacity="0.5"/>
<g mask="url(#mk69)" opacity="1.0"><rect x="298.2" y="427.4" width="84.60000000000002" height="84.60000000000002" filter="url(#tx68)"/></g>
</g></g>
<text x="318.5" y="447.7" font-size="9.2" fill="#f0f0f0" text-anchor="middle">PP</text>
<g clip-path="url(#cp70)"><g filter="url(#b7)">
<rect x="383.0" y="425.4" width="88.89999999999998" height="88.60000000000002" fill="#333333"/>
<rect x="385.0" y="427.4" width="84.89999999999998" height="84.60000000000002" fill="url(#vg71)"/>
<circle cx="428.9" cy="470.5" r="35.8" fill="#272825"/>
<circle cx="428.9" cy="470.5" r="34.40" fill="none" stroke="#6a6e66" stroke-opacity="0.45" stroke-width="1.96"/>
<circle cx="428.9" cy="470.5" r="35.3" fill="none" stroke="#8b9084" stroke-width="1.2"/>
<circle cx="428.9" cy="470.5" r="33.0" fill="#141414"/>
<circle cx="428.9" cy="470.5" r="33.0" fill="none" stroke="#8b9084" stroke-width="0.5" stroke-opacity="0.5"/>
<g clip-path="url(#cp72)"><rect x="0" y="0" width="685" height="653" filter="url(#f5)"/></g>
<g mask="url(#mk74)" opacity="1.0"><rect x="385.0" y="427.4" width="84.89999999999998" height="84.60000000000002" filter="url(#tx73)"/></g>
<g mask="url(#mk76)" opacity="0.8"><rect x="385.0" y="427.4" width="84.89999999999998" height="84.60000000000002" filter="url(#tx75)"/></g>
</g></g>
<g clip-path="url(#cp78)"><g filter="url(#b7)">
<rect x="209.5" y="544.0" width="89.10000000000002" height="89.20000000000005" fill="#151515"/>
<circle cx="255.5" cy="589.9" r="37.6" fill="#1a1a1a" stroke="#77745f" stroke-width="1.0"/>
<circle cx="255.5" cy="589.9" r="34" fill="none" stroke="#6a6a6a" stroke-width="1.6" stroke-dasharray="0.9 1.6"/>
<g mask="url(#mk80)" opacity="1.0"><rect x="211.5" y="546.0" width="85.10000000000002" height="85.20000000000005" filter="url(#tx79)"/></g>
<g mask="url(#mk82)" opacity="0.8"><rect x="211.5" y="546.0" width="85.10000000000002" height="85.20000000000005" filter="url(#tx81)"/></g>
<path d="M237.8 570.4q5.6 0.3 13.1 -0.9M249.7 608.6q6.3 -0.9 10.2 -2.6M263.1 568.0q5.7 1.8 14.8 -0.8M266.8 572.3q6.1 -1.3 13.4 -2.9M252.2 610.5q3.9 -1.6 11.4 -3.0M232.0 597.3q6.9 1.9 14.5 -0.4M265.6 601.5q6.1 -0.1 14.0 -1.0M241.2 574.4q4.5 -0.2 10.6 2.2M253.5 586.3q6.8 1.5 8.5 -0.9M261.2 586.6q6.8 0.9 15.4 1.1M237.4 568.7q4.6 -1.4 12.5 1.6M254.8 599.9q3.5 2.0 15.9 -1.2M260.5 598.8q5.5 -0.8 11.0 -0.9M242.5 607.9q5.8 0.5 8.0 -2.3M251.5 601.5q4.6 1.2 9.2 1.3M273.3 606.3q5.8 -1.7 10.5 -0.7" fill="none" stroke="#e0e4ea" stroke-width="0.8" opacity="0.55"/>
</g></g>
<text x="219.4" y="560.7" font-size="10.0" fill="#ececec">C<tspan font-size="6.2" dy="0.2">6</tspan></text>
<g clip-path="url(#cp83)"><g filter="url(#b7)">
<rect x="296.2" y="544.0" width="88.60000000000002" height="89.20000000000005" fill="#2e2e2e"/>
<rect x="298.2" y="546.0" width="84.60000000000002" height="85.20000000000005" fill="url(#vg84)"/>
<circle cx="342.9" cy="589.2" r="39.3" fill="#232323"/>
<circle cx="342.9" cy="589.2" r="37.80" fill="none" stroke="#6a6e66" stroke-opacity="0.45" stroke-width="2.10"/>
<circle cx="342.9" cy="589.2" r="38.8" fill="none" stroke="#8c8e84" stroke-width="1.2"/>
<circle cx="342.9" cy="589.2" r="36.3" fill="#141414"/>
<circle cx="342.9" cy="589.2" r="36.3" fill="none" stroke="#8c8e84" stroke-width="0.5" stroke-opacity="0.5"/>
<g><circle cx="342.4" cy="599.9" r="0.3" fill="#8c8c8c"/><circle cx="346.9" cy="606.1" r="0.3" fill="#7e7e7e"/><circle cx="340.6" cy="613.6" r="0.5" fill="#8a8a8a"/><circle cx="343.6" cy="611.5" r="0.3" fill="#959595"/><circle cx="327.6" cy="610.0" r="0.4" fill="#777777"/><circle cx="344.6" cy="597.1" r="0.5" fill="#878787"/><circle cx="324.8" cy="596.5" r="0.5" fill="#8e8e8e"/><circle cx="339.2" cy="604.2" r="0.5" fill="#6e6e6e"/><circle cx="332.4" cy="602.4" r="0.4" fill="#8e8e8e"/><circle cx="333.0" cy="600.3" r="0.5" fill="#8f8f8f"/><circle cx="335.2" cy="596.6" r="0.5" fill="#7c7c7c"/><circle cx="325.2" cy="601.1" r="0.5" fill="#797979"/><circle cx="324.5" cy="604.9" r="0.4" fill="#929292"/><circle cx="347.4" cy="600.7" r="0.4" fill="#616161"/><circle cx="328.1" cy="615.8" r="0.3" fill="#7e7e7e"/><circle cx="344.0" cy="612.7" r="0.3" fill="#8c8c8c"/><circle cx="327.4" cy="616.8" r="0.3" fill="#8b8b8b"/><circle cx="337.3" cy="609.3" r="0.3" fill="#919191"/><circle cx="336.5" cy="596.2" r="0.4" fill="#8b8b8b"/><circle cx="343.2" cy="596.2" r="0.4" fill="#5e5e5e"/><circle cx="346.1" cy="611.2" r="0.3" fill="#6d6d6d"/><circle cx="336.7" cy="620.4" r="0.3" fill="#747474"/><circle cx="339.3" cy="602.2" r="0.4" fill="#606060"/><circle cx="342.9" cy="618.1" r="0.3" fill="#6f6f6f"/><circle cx="336.6" cy="598.0" r="0.3" fill="#676767"/><circle cx="342.6" cy="612.2" r="0.5" fill="#868686"/><circle cx="321.6" cy="604.3" r="0.3" fill="#8f8f8f"/><circle cx="342.8" cy="598.0" r="0.5" fill="#858585"/><circle cx="322.1" cy="603.5" r="0.3" fill="#8a8a8a"/><circle cx="342.3" cy="616.8" r="0.3" fill="#8a8a8a"/><circle cx="331.7" cy="594.7" r="0.5" fill="#767676"/><circle cx="344.0" cy="595.8" r="0.4" fill="#848484"/><circle cx="334.9" cy="607.5" r="0.4" fill="#6e6e6e"/><circle cx="328.8" cy="617.4" r="0.3" fill="#686868"/><circle cx="347.5" cy="599.0" r="0.4" fill="#5e5e5e"/><circle cx="342.5" cy="593.2" r="0.5" fill="#5c5c5c"/><circle cx="340.4" cy="606.9" r="0.5" fill="#898989"/><circle cx="332.5" cy="598.4" r="0.4" fill="#8f8f8f"/><circle cx="324.6" cy="610.1" r="0.4" fill="#656565"/><circle cx="349.4" cy="608.2" r="0.5" fill="#6d6d6d"/><circle cx="335.1" cy="599.6" r="0.3" fill="#696969"/><circle cx="342.8" cy="607.3" r="0.4" fill="#929292"/><circle cx="345.5" cy="608.0" r="0.4" fill="#7c7c7c"/><circle cx="334.9" cy="593.1" r="0.4" fill="#767676"/><circle cx="336.8" cy="602.5" r="0.4" fill="#929292"/><circle cx="339.5" cy="594.8" r="0.4" fill="#878787"/><circle cx="322.5" cy="609.3" r="0.4" fill="#7e7e7e"/><circle cx="341.3" cy="602.4" r="0.3" fill="#5a5a5a"/><circle cx="321.3" cy="603.7" r="0.3" fill="#838383"/><circle cx="346.4" cy="607.6" r="0.5" fill="#7a7a7a"/><circle cx="334.0" cy="616.0" r="0.4" fill="#606060"/><circle cx="341.5" cy="616.9" r="0.5" fill="#959595"/><circle cx="335.5" cy="612.8" r="0.3" fill="#707070"/><circle cx="344.6" cy="607.4" r="0.3" fill="#787878"/><circle cx="328.0" cy="601.0" r="0.4" fill="#8f8f8f"/><circle cx="332.2" cy="613.6" r="0.4" fill="#8f8f8f"/><circle cx="336.0" cy="614.2" r="0.4" fill="#8b8b8b"/><circle cx="326.8" cy="610.7" r="0.4" fill="#787878"/><circle cx="331.8" cy="593.8" r="0.4" fill="#828282"/><circle cx="330.0" cy="615.8" r="0.3" fill="#5c5c5c"/><circle cx="323.0" cy="607.8" r="0.3" fill="#959595"/><circle cx="346.2" cy="616.8" r="0.5" fill="#767676"/><circle cx="334.5" cy="615.7" r="0.4" fill="#606060"/><circle cx="350.7" cy="605.9" r="0.4" fill="#686868"/><circle cx="333.3" cy="603.9" r="0.3" fill="#7e7e7e"/><circle cx="341.0" cy="607.5" r="0.4" fill="#949494"/><circle cx="342.3" cy="600.4" r="0.3" fill="#787878"/><circle cx="342.7" cy="619.0" r="0.4" fill="#656565"/><circle cx="347.1" cy="606.2" r="0.4" fill="#878787"/><circle cx="338.0" cy="614.3" r="0.5" fill="#7c7c7c"/><circle cx="340.4" cy="599.8" r="0.5" fill="#898989"/><circle cx="327.1" cy="608.4" r="0.3" fill="#787878"/><circle cx="331.6" cy="616.4" r="0.5" fill="#676767"/><circle cx="328.2" cy="616.1" r="0.5" fill="#606060"/><circle cx="329.8" cy="616.2" r="0.3" fill="#7f7f7f"/><circle cx="338.8" cy="597.7" r="0.3" fill="#737373"/><circle cx="346.3" cy="613.5" r="0.3" fill="#727272"/><circle cx="329.9" cy="611.2" r="0.5" fill="#666666"/><circle cx="334.9" cy="602.6" r="0.4" fill="#838383"/><circle cx="329.4" cy="617.5" r="0.4" fill="#606060"/><circle cx="332.6" cy="593.0" r="0.3" fill="#858585"/><circle cx="330.8" cy="605.3" r="0.3" fill="#5f5f5f"/><circle cx="333.4" cy="604.1" r="0.5" fill="#666666"/><circle cx="331.2" cy="606.4" r="0.4" fill="#646464"/><circle cx="335.5" cy="605.4" r="0.5" fill="#848484"/><circle cx="325.0" cy="599.0" r="0.3" fill="#7d7d7d"/><circle cx="324.1" cy="605.9" r="0.3" fill="#8d8d8d"/><circle cx="329.9" cy="603.6" r="0.3" fill="#666666"/><circle cx="342.5" cy="606.8" r="0.5" fill="#777777"/><circle cx="323.1" cy="611.7" r="0.3" fill="#666666"/><circle cx="328.9" cy="599.7" r="0.3" fill="#828282"/><circle cx="347.0" cy="606.4" r="0.4" fill="#828282"/><circle cx="322.3" cy="604.1" r="0.3" fill="#8b8b8b"/><circle cx="334.1" cy="601.9" r="0.3" fill="#909090"/><circle cx="333.0" cy="610.1" r="0.5" fill="#858585"/><circle cx="346.8" cy="596.4" r="0.3" fill="#7a7a7a"/><circle cx="331.8" cy="595.5" r="0.4" fill="#7b7b7b"/><circle cx="339.7" cy="612.2" r="0.3" fill="#818181"/><circle cx="334.0" cy="591.6" r="0.5" fill="#848484"/><circle cx="332.8" cy="614.5" r="0.3" fill="#868686"/><circle cx="335.2" cy="591.9" r="0.5" fill="#8b8b8b"/><circle cx="341.5" cy="598.1" r="0.3" fill="#6b6b6b"/><circle cx="332.7" cy="604.5" r="0.3" fill="#7a7a7a"/><circle cx="338.0" cy="615.9" r="0.4" fill="#7a7a7a"/><circle cx="330.6" cy="604.7" r="0.3" fill="#5b5b5b"/><circle cx="336.2" cy="611.5" r="0.5" fill="#646464"/><circle cx="332.8" cy="598.9" r="0.4" fill="#6d6d6d"/><circle cx="334.8" cy="618.9" r="0.4" fill="#7c7c7c"/><circle cx="341.1" cy="602.4" r="0.3" fill="#686868"/><circle cx="344.2" cy="596.5" r="0.4" fill="#7e7e7e"/></g>
<g mask="url(#mk86)" opacity="1.0"><rect x="298.2" y="546.0" width="84.60000000000002" height="85.20000000000005" filter="url(#tx85)"/></g>
<g mask="url(#mk89)" opacity="1.0"><rect x="298.2" y="546.0" width="84.60000000000002" height="85.20000000000005" filter="url(#tx88)"/></g>
<path d="M323 562 Q342 559 362 562" fill="none" stroke="#bbb" stroke-width="1.1" stroke-dasharray="0.8 0.6"/>
</g></g>
<text x="366.6" y="571.2" font-size="9.2" fill="#f0f0f0" text-anchor="middle">PE</text>
<g clip-path="url(#cp90)"><g filter="url(#b7)">
<rect x="383.0" y="544.0" width="88.89999999999998" height="89.20000000000005" fill="#4f4f4f"/>
<rect x="385.0" y="546.0" width="84.89999999999998" height="85.20000000000005" fill="url(#vg91)"/>
<circle cx="427.5" cy="587.1" r="35.8" fill="#474747"/>
<circle cx="427.5" cy="587.1" r="33.90" fill="none" stroke="#6a6e66" stroke-opacity="0.45" stroke-width="2.66"/>
<circle cx="427.5" cy="587.1" r="35.3" fill="none" stroke="#a4a4a0" stroke-width="1.2"/>
<circle cx="427.5" cy="587.1" r="31.999999999999996" fill="#383838"/>
<circle cx="427.5" cy="587.1" r="31.999999999999996" fill="none" stroke="#a4a4a0" stroke-width="0.5" stroke-opacity="0.5"/>
<ellipse cx="430.2" cy="564.6" rx="11.5" ry="3.6" fill="none" stroke="#d8d8d8" stroke-width="1.7" stroke-dasharray="1.2 0.6" opacity="0.9"/>
<g mask="url(#mk93)" opacity="1.0"><rect x="385.0" y="546.0" width="84.89999999999998" height="85.20000000000005" filter="url(#tx92)"/></g>
<g mask="url(#mk95)" opacity="0.8"><rect x="385.0" y="546.0" width="84.89999999999998" height="85.20000000000005" filter="url(#tx94)"/></g>
</g></g>
<g clip-path="url(#cp96)"><g filter="url(#b7)">
<rect x="497.6" y="305.0" width="89.60000000000002" height="88.89999999999998" fill="url(#g7)"/>
<ellipse cx="575" cy="345" rx="14" ry="30" fill="#3a3a3a" opacity="0.6" filter="url(#b97)"/>
<path d="M533.8 320L545.6 320L546 323C550 325 553 329 553 334C553 337 551.5 338.5 551.5 339C553 341 553.5 344 553 347C552 349 551.5 350 552 352L553 383C553 387 549 388.5 540 388.5C531 388.5 527 387 527 383L528 352C528.5 350 528 349 527 347C526.5 344 527 341 528.5 339C528.5 338.5 527 337 527 334C527 329 530 325 534 323Z" fill="url(#bb)"/>
<rect x="533.6" y="315" width="12.2" height="5.6" rx="1.2" fill="#4a86e0"/>
<path d="M528.5 339H551.5M528 351H552M528 378H552" stroke="#b4c8f2" stroke-width="0.9" opacity="0.7"/>
<path d="M531 384C534 380 546 380 549 384" fill="none" stroke="#c0d0f4" stroke-width="1" opacity="0.6"/>
<path d="M536 330V384M544 330V384" stroke="#9ab4ea" stroke-width="0.6" opacity="0.5"/>
</g></g>
<text x="504.3" y="320.1" font-size="10.0" fill="#ececec">C<tspan font-size="6.2" dy="0.2">7</tspan></text>
<g clip-path="url(#cp98)"><g filter="url(#b7)">
<rect x="584.6" y="305.0" width="89.19999999999993" height="88.89999999999998" fill="url(#g8)"/>
<ellipse cx="660" cy="350" rx="12" ry="26" fill="#6a6864" opacity="0.5" filter="url(#b97)"/>
<path d="M624 320L632 320L633 326L636 337L636.5 384C636.5 387 633 387.8 628 387.8C622 387.8 619 387 619 384L619 337L622 326Z" fill="url(#gb)"/>
<rect x="623" y="314.5" width="9.6" height="6.2" rx="1.2" fill="#98e094"/>
<path d="M620 360H636M620 372H636" stroke="#9de89a" stroke-width="0.6" opacity="0.5"/>
</g></g>
<text x="591.5999999999999" y="320.1" font-size="10.0" fill="#ececec">C<tspan font-size="6.2" dy="0.2">8</tspan></text>
<g clip-path="url(#cp99)"><g filter="url(#b7)">
<rect x="497.6" y="424.8" width="89.60000000000002" height="89.0" fill="#30272f"/>
<rect x="499.6" y="426.8" width="85.60000000000002" height="85.0" fill="url(#vg100)"/>
<circle cx="542.8" cy="470.2" r="36.9" fill="#332d2c"/>
<circle cx="542.8" cy="470.2" r="35.50" fill="none" stroke="#6a6e66" stroke-opacity="0.45" stroke-width="1.96"/>
<circle cx="542.8" cy="470.2" r="36.4" fill="none" stroke="#aaa576" stroke-width="1.2"/>
<circle cx="542.8" cy="470.2" r="34.1" fill="#1f1a1c"/>
<circle cx="542.8" cy="470.2" r="34.1" fill="none" stroke="#aaa576" stroke-width="0.5" stroke-opacity="0.5"/>
<g clip-path="url(#cp101)"><rect x="0" y="0" width="685" height="653" filter="url(#f5)"/></g>
<g mask="url(#mk103)" opacity="1.0"><rect x="499.6" y="426.8" width="85.60000000000002" height="85.0" filter="url(#tx102)"/></g>
</g></g>
<g clip-path="url(#cp104)"><g filter="url(#b7)">
<rect x="584.6" y="424.8" width="89.19999999999993" height="89.0" fill="#363636"/>
<rect x="586.6" y="426.8" width="85.19999999999993" height="85.0" fill="url(#vg105)"/>
<circle cx="629.5" cy="470.2" r="34.8" fill="#2a2a2a"/>
<circle cx="629.5" cy="470.2" r="33.20" fill="none" stroke="#6a6e66" stroke-opacity="0.45" stroke-width="2.24"/>
<circle cx="629.5" cy="470.2" r="34.3" fill="none" stroke="#96968e" stroke-width="1.2"/>
<circle cx="629.5" cy="470.2" r="31.599999999999998" fill="#141414"/>
<circle cx="629.5" cy="470.2" r="31.599999999999998" fill="none" stroke="#96968e" stroke-width="0.5" stroke-opacity="0.5"/>
<g mask="url(#mk107)" opacity="1.0"><rect x="586.6" y="426.8" width="85.19999999999993" height="85.0" filter="url(#tx106)"/></g>
<g clip-path="url(#cp109)"><rect x="0" y="0" width="685" height="653" filter="url(#f5)"/></g>
</g></g>
<g clip-path="url(#cp110)"><g filter="url(#b7)">
<rect x="497.6" y="543.8" width="89.60000000000002" height="89.20000000000005" fill="#20202c"/>
<rect x="499.6" y="545.8" width="85.60000000000002" height="85.20000000000005" fill="url(#vg111)"/>
<circle cx="542.1" cy="587.1" r="38.0" fill="#2c2c32"/>
<circle cx="542.1" cy="587.1" r="36.80" fill="none" stroke="#6a6e66" stroke-opacity="0.45" stroke-width="1.68"/>
<circle cx="542.1" cy="587.1" r="37.5" fill="none" stroke="#8e928a" stroke-width="1.2"/>
<circle cx="542.1" cy="587.1" r="35.6" fill="#1a1a1e"/>
<circle cx="542.1" cy="587.1" r="35.6" fill="none" stroke="#8e928a" stroke-width="0.5" stroke-opacity="0.5"/>
<g mask="url(#mk113)" opacity="1.0"><rect x="499.6" y="545.8" width="85.60000000000002" height="85.20000000000005" filter="url(#tx112)"/></g>
</g></g>
<g clip-path="url(#cp115)"><g filter="url(#b7)">
<rect x="584.6" y="543.8" width="89.19999999999993" height="89.20000000000005" fill="#323232"/>
<rect x="586.6" y="545.8" width="85.19999999999993" height="85.20000000000005" fill="url(#vg116)"/>
<circle cx="630.2" cy="587.1" r="37.6" fill="#262626"/>
<circle cx="630.2" cy="587.1" r="35.60" fill="none" stroke="#6a6e66" stroke-opacity="0.45" stroke-width="2.80"/>
<circle cx="630.2" cy="587.1" r="37.1" fill="none" stroke="#959a8c" stroke-width="1.2"/>
<circle cx="630.2" cy="587.1" r="33.6" fill="#141414"/>
<circle cx="630.2" cy="587.1" r="33.6" fill="none" stroke="#959a8c" stroke-width="0.5" stroke-opacity="0.5"/>
<g mask="url(#mk118)" opacity="1.0"><rect x="586.6" y="545.8" width="85.19999999999993" height="85.20000000000005" filter="url(#tx117)"/></g>
</g></g>
<text x="13.8" y="279.3" font-size="9.6" fill="#2b2b2b" stroke="#2b2b2b" stroke-width="0.18" text-anchor="start">Pure polyester</text>
<text x="13.8" y="296.3" font-size="9.6" fill="#2b2b2b" stroke="#2b2b2b" stroke-width="0.18" text-anchor="start">Starting material</text>
<text x="98.6" y="296.3" font-size="9.6" fill="#2b2b2b" stroke="#2b2b2b" stroke-width="0.18" text-anchor="start">After catalysis</text>
<text x="13.8" y="402.6" font-size="9.6" fill="#2b2b2b" stroke="#2b2b2b" stroke-width="0.18" text-anchor="start">PET particles</text>
<text x="13.8" y="413.8" font-size="9.6" fill="#2b2b2b" stroke="#2b2b2b" stroke-width="0.18" text-anchor="start">(high crystallinity)</text>
<text x="133" y="409.5" font-size="9.6" fill="#2b2b2b" stroke="#2b2b2b" stroke-width="0.18" text-anchor="middle">DMT: 99%</text>
<text x="13.8" y="525.3" font-size="9.6" fill="#2b2b2b" stroke="#2b2b2b" stroke-width="0.18" text-anchor="start">PET slices</text>
<text x="13.8" y="536.5" font-size="9.6" fill="#2b2b2b" stroke="#2b2b2b" stroke-width="0.18" text-anchor="start">(low crystallinity)</text>
<text x="124.6" y="531.7" font-size="9.6" fill="#2b2b2b" stroke="#2b2b2b" stroke-width="0.18" text-anchor="middle">DMT: 99%</text>
<text x="13.8" y="647.2" font-size="9.6" fill="#2b2b2b" stroke="#2b2b2b" stroke-width="0.18" text-anchor="start">Bottle tablets</text>
<text x="133" y="647.2" font-size="9.6" fill="#2b2b2b" stroke="#2b2b2b" stroke-width="0.18" text-anchor="middle">DMT: 99%</text>
<text x="211.5" y="279.3" font-size="9.6" fill="#2b2b2b" stroke="#2b2b2b" stroke-width="0.18" text-anchor="start">Mixed polyester/(polyester or polyolefins)</text>
<text x="216.5" y="296.3" font-size="9.6" fill="#2b2b2b" stroke="#2b2b2b" stroke-width="0.18" text-anchor="start">Starting material</text>
<text x="308.5" y="296.3" font-size="9.6" fill="#2b2b2b" stroke="#2b2b2b" stroke-width="0.18" text-anchor="start">After catalysis</text>
<text x="224.5" y="409.2" font-size="9.6" fill="#2b2b2b" stroke="#2b2b2b" stroke-width="0.18" text-anchor="start">PET/PC particles</text>
<text x="339.3" y="409.2" font-size="9.6" fill="#2b2b2b" stroke="#2b2b2b" stroke-width="0.18" text-anchor="middle">BPA: 99%</text>
<text x="432.5" y="409.2" font-size="9.6" fill="#2b2b2b" stroke="#2b2b2b" stroke-width="0.18" text-anchor="middle">DMT: 99%</text>
<text x="211.5" y="530.7" font-size="9.6" fill="#2b2b2b" stroke="#2b2b2b" stroke-width="0.18" text-anchor="start">PET/PP packing boxes</text>
<text x="429.8" y="530.7" font-size="9.6" fill="#2b2b2b" stroke="#2b2b2b" stroke-width="0.18" text-anchor="middle">DMT: 99%</text>
<text x="224.5" y="647.2" font-size="9.6" fill="#2b2b2b" stroke="#2b2b2b" stroke-width="0.18" text-anchor="start">PET/PE thin films</text>
<text x="439.7" y="647.0" font-size="9.6" fill="#2b2b2b" stroke="#2b2b2b" stroke-width="0.18" text-anchor="middle">DMT: 96%</text>
<text x="504.3" y="279.3" font-size="9.6" fill="#2b2b2b" stroke="#2b2b2b" stroke-width="0.18" text-anchor="start">Polyester bottles</text>
<text x="580.2" y="296.3" font-size="9.6" fill="#2b2b2b" stroke="#2b2b2b" stroke-width="0.18" text-anchor="middle">Starting material</text>
<text x="587.4" y="414.0" font-size="9.6" fill="#2b2b2b" stroke="#2b2b2b" stroke-width="0.18" text-anchor="middle">After catalysis</text>
<text x="586" y="536.8" font-size="9.6" fill="#2b2b2b" stroke="#2b2b2b" stroke-width="0.18" text-anchor="middle">After decolored</text>
<text x="533" y="646.4" font-size="9.6" fill="#2b2b2b" stroke="#2b2b2b" stroke-width="0.18" text-anchor="middle">DMT: 98%</text>
<text x="610.7" y="646.4" font-size="9.6" fill="#2b2b2b" stroke="#2b2b2b" stroke-width="0.18" text-anchor="middle">DMT: 98%</text>
</svg>
</body></html>
